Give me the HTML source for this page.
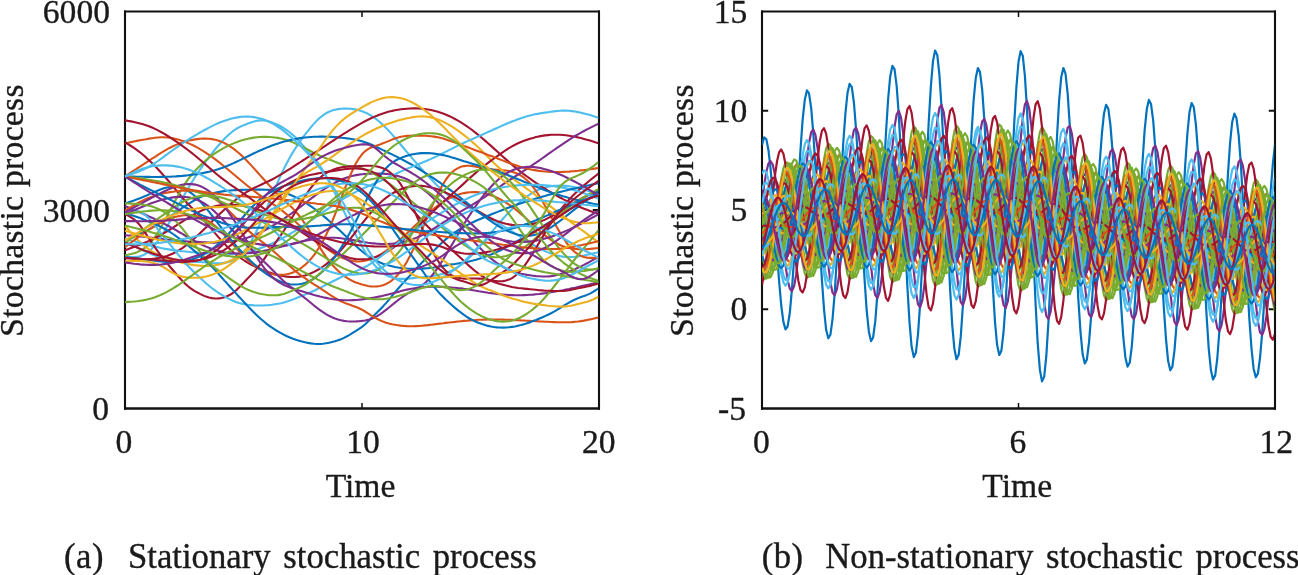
<!DOCTYPE html>
<html lang="en"><head><meta charset="utf-8"><title>Stochastic processes</title>
<style>html,body{margin:0;padding:0;background:#fff;overflow:hidden}svg{display:block}</style></head>
<body>
<svg width="1298" height="575" viewBox="0 0 1298 575" font-family="'Liberation Serif', 'Times New Roman', serif" fill="#1a1a1a">
<style>text{stroke:#1a1a1a;stroke-width:0.35px}</style>
<defs><clipPath id="cl"><rect x="124.5" y="10.5" width="473.8" height="399"/></clipPath><clipPath id="cr"><rect x="762" y="10.5" width="512.3" height="399"/></clipPath></defs>
<path d="M125.0 10.55V409.7M599.0 10.55V409.7" stroke="#111" stroke-width="2.1" fill="none"/>
<path d="M124.0 11.5H600.0" stroke="#111" stroke-width="1.9" fill="none"/>
<path d="M124.0 408.5H600.0" stroke="#111" stroke-width="2.4" fill="none"/>
<path d="M362 408.5v-5.6M362 11.5v5.6" stroke="#111" stroke-width="1.5" fill="none"/>
<path d="M125.0 210h6.2M599.0 210h-6.2" stroke="#111" stroke-width="2.1" fill="none"/>
<path d="M762.0 10.55V409.7M1275.0 10.55V409.7" stroke="#111" stroke-width="2.1" fill="none"/>
<path d="M761.0 11.5H1276.0" stroke="#111" stroke-width="1.9" fill="none"/>
<path d="M761.0 408.5H1276.0" stroke="#111" stroke-width="2.4" fill="none"/>
<path d="M1018.5 408.5v-5.6M1018.5 11.5v5.6" stroke="#111" stroke-width="1.5" fill="none"/>
<path d="M762.0 110.75h6.2M1275.0 110.75h-6.2" stroke="#111" stroke-width="2.1" fill="none"/>
<path d="M762.0 210h6.2M1275.0 210h-6.2" stroke="#111" stroke-width="2.1" fill="none"/>
<path d="M762.0 309.25h6.2M1275.0 309.25h-6.2" stroke="#111" stroke-width="2.1" fill="none"/>
<g clip-path="url(#cl)" fill="none" stroke-width="2.1" stroke-linejoin="round" stroke-linecap="butt">
<path d="M125.0 239.8L128.0 239.1L131.0 238.1L134.0 237.0L137.0 235.7L140.0 234.2L143.0 232.7L146.0 231.2L149.0 229.5L152.0 227.7L155.0 225.9L158.0 224.1L161.0 222.2L164.0 220.3L167.0 218.3L170.0 216.3L173.0 214.3L176.0 212.3L179.0 210.2L182.0 208.2L185.0 206.2L188.0 204.3L191.0 202.4L194.0 200.6L197.0 198.9L200.0 197.4L203.0 196.1L206.0 195.1L209.0 194.1L212.0 193.4L215.0 192.7L218.0 192.1L221.0 191.6L224.0 191.1L227.0 190.8L230.0 190.5L233.0 190.3L236.0 190.1L239.0 190.0L242.0 189.9L245.0 189.8L248.0 189.8L251.0 189.7L254.0 189.7L257.0 189.6L260.0 189.6L263.0 189.6L266.0 189.7L269.0 189.9L272.0 190.2L275.0 190.6L278.0 191.2L281.0 191.8L284.0 192.6L287.0 193.6L290.0 194.7L293.0 196.0L296.0 197.4L299.0 199.0L302.0 200.6L305.0 202.4L308.0 204.3L311.0 206.3L314.0 208.5L317.0 210.7L320.0 213.1L323.0 215.6L326.0 218.1L329.0 220.7L332.0 223.4L335.0 226.1L338.0 228.8L341.0 231.6L344.0 234.4L347.0 237.3L350.0 240.2L353.0 243.0L356.0 245.9L359.0 248.7L362.0 251.3L365.0 253.7L368.0 255.9L371.0 257.9L374.0 259.6L377.0 261.1L380.0 262.5L383.0 263.7L386.0 264.7L389.0 265.6L392.0 266.3L395.0 267.0L398.0 267.5L401.0 267.9L404.0 268.2L407.0 268.5L410.0 268.7L413.0 268.8L416.0 268.8L419.0 268.8L422.0 268.6L425.0 268.4L428.0 268.2L431.0 267.8L434.0 267.5L437.0 267.0L440.0 266.5L443.0 266.0L446.0 265.4L449.0 264.9L452.0 264.4L455.0 264.0L458.0 263.5L461.0 263.0L464.0 262.5L467.0 261.9L470.0 261.2L473.0 260.5L476.0 259.7L479.0 258.8L482.0 257.8L485.0 256.8L488.0 255.6L491.0 254.5L494.0 253.2L497.0 251.9L500.0 250.5L503.0 249.0L506.0 247.4L509.0 245.8L512.0 244.1L515.0 242.4L518.0 240.7L521.0 239.0L524.0 237.2L527.0 235.5L530.0 233.8L533.0 232.0L536.0 230.3L539.0 228.5L542.0 226.8L545.0 225.0L548.0 223.2L551.0 221.3L554.0 219.4L557.0 217.5L560.0 215.6L563.0 213.6L566.0 211.8L569.0 209.9L572.0 208.1L575.0 206.4L578.0 204.6L581.0 203.0L584.0 201.3L587.0 199.8L590.0 198.3L593.0 197.0L596.0 195.8L599.0 195.0" stroke="#0072BD"/>
<path d="M125.0 235.3L128.0 235.5L131.0 235.6L134.0 235.9L137.0 236.1L140.0 236.4L143.0 236.7L146.0 237.0L149.0 237.4L152.0 237.7L155.0 238.1L158.0 238.5L161.0 238.8L164.0 239.2L167.0 239.6L170.0 239.9L173.0 240.3L176.0 240.6L179.0 240.9L182.0 241.1L185.0 241.3L188.0 241.5L191.0 241.7L194.0 241.8L197.0 241.9L200.0 242.0L203.0 242.2L206.0 242.3L209.0 242.5L212.0 242.6L215.0 242.6L218.0 242.5L221.0 242.4L224.0 242.2L227.0 241.9L230.0 241.6L233.0 241.1L236.0 240.6L239.0 239.9L242.0 239.2L245.0 238.4L248.0 237.5L251.0 236.4L254.0 235.3L257.0 234.0L260.0 232.6L263.0 231.2L266.0 229.6L269.0 228.0L272.0 226.2L275.0 224.4L278.0 222.6L281.0 220.7L284.0 218.7L287.0 216.6L290.0 214.5L293.0 212.4L296.0 210.2L299.0 208.0L302.0 205.7L305.0 203.3L308.0 201.0L311.0 198.7L314.0 196.4L317.0 194.2L320.0 192.0L323.0 190.0L326.0 188.0L329.0 186.2L332.0 184.5L335.0 182.8L338.0 181.3L341.0 179.8L344.0 178.5L347.0 177.4L350.0 176.4L353.0 175.7L356.0 175.1L359.0 174.6L362.0 174.3L365.0 174.0L368.0 173.8L371.0 173.6L374.0 173.5L377.0 173.5L380.0 173.6L383.0 173.7L386.0 173.9L389.0 174.3L392.0 174.7L395.0 175.3L398.0 176.0L401.0 176.9L404.0 178.0L407.0 179.3L410.0 180.8L413.0 182.5L416.0 184.3L419.0 186.3L422.0 188.5L425.0 190.8L428.0 193.3L431.0 195.9L434.0 198.7L437.0 201.5L440.0 204.4L443.0 207.4L446.0 210.5L449.0 213.6L452.0 216.9L455.0 220.2L458.0 223.6L461.0 227.0L464.0 230.4L467.0 233.8L470.0 237.2L473.0 240.5L476.0 243.8L479.0 247.0L482.0 250.1L485.0 253.0L488.0 255.8L491.0 258.5L494.0 260.9L497.0 263.1L500.0 265.1L503.0 266.9L506.0 268.5L509.0 269.8L512.0 271.0L515.0 272.0L518.0 272.9L521.0 273.7L524.0 274.3L527.0 274.9L530.0 275.3L533.0 275.7L536.0 276.1L539.0 276.3L542.0 276.5L545.0 276.5L548.0 276.4L551.0 276.1L554.0 275.6L557.0 275.0L560.0 274.2L563.0 273.3L566.0 272.4L569.0 271.4L572.0 270.3L575.0 269.1L578.0 267.8L581.0 266.4L584.0 264.9L587.0 263.3L590.0 261.6L593.0 259.9L596.0 258.4L599.0 257.2" stroke="#7E2F8E"/>
<path d="M125.0 256.7L128.0 257.0L131.0 257.1L134.0 257.1L137.0 256.9L140.0 256.2L143.0 255.2L146.0 253.6L149.0 251.4L152.0 248.5L155.0 245.0L158.0 241.0L161.0 236.6L164.0 231.8L167.0 226.7L170.0 221.3L173.0 215.8L176.0 210.2L179.0 204.6L182.0 199.1L185.0 193.7L188.0 188.5L191.0 183.5L194.0 178.7L197.0 174.1L200.0 169.6L203.0 165.3L206.0 161.2L209.0 157.2L212.0 153.3L215.0 149.5L218.0 146.0L221.0 142.5L224.0 139.3L227.0 136.3L230.0 133.5L233.0 131.1L236.0 129.0L239.0 127.3L242.0 125.9L245.0 124.7L248.0 123.5L251.0 122.4L254.0 121.5L257.0 120.8L260.0 120.4L263.0 120.3L266.0 120.7L269.0 121.4L272.0 122.4L275.0 123.6L278.0 125.0L281.0 126.5L284.0 128.3L287.0 130.3L290.0 132.5L293.0 135.1L296.0 137.9L299.0 141.0L302.0 144.4L305.0 147.8L308.0 151.1L311.0 154.5L314.0 157.9L317.0 161.6L320.0 165.7L323.0 170.5L326.0 175.8L329.0 181.5L332.0 187.4L335.0 193.4L338.0 199.4L341.0 205.5L344.0 211.6L347.0 217.7L350.0 223.7L353.0 229.7L356.0 235.5L359.0 241.1L362.0 246.4L365.0 251.5L368.0 256.2L371.0 260.6L374.0 264.5L377.0 267.9L380.0 270.8L383.0 273.2L386.0 275.0L389.0 276.5L392.0 277.6L395.0 278.3L398.0 278.7L401.0 278.9L404.0 278.9L407.0 278.8L410.0 278.5L413.0 278.1L416.0 277.8L419.0 277.5L422.0 277.2L425.0 276.9L428.0 276.5L431.0 276.2L434.0 275.7L437.0 275.2L440.0 274.5L443.0 273.8L446.0 272.8L449.0 271.7L452.0 270.4L455.0 268.8L458.0 267.0L461.0 265.0L464.0 262.6L467.0 260.0L470.0 257.1L473.0 254.0L476.0 250.8L479.0 247.4L482.0 243.8L485.0 240.2L488.0 236.6L491.0 232.9L494.0 229.3L497.0 225.7L500.0 222.1L503.0 218.7L506.0 215.4L509.0 212.2L512.0 209.2L515.0 206.2L518.0 203.5L521.0 200.9L524.0 198.5L527.0 196.3L530.0 194.3L533.0 192.5L536.0 190.9L539.0 189.5L542.0 188.4L545.0 187.5L548.0 186.8L551.0 186.2L554.0 185.9L557.0 185.7L560.0 185.6L563.0 185.7L566.0 185.9L569.0 186.3L572.0 186.8L575.0 187.4L578.0 188.0L581.0 188.8L584.0 189.6L587.0 190.5L590.0 191.5L593.0 192.4L596.0 193.4L599.0 194.4" stroke="#4DBEEE"/>
<path d="M125.0 241.6L128.0 243.1L131.0 244.7L134.0 246.2L137.0 247.6L140.0 249.1L143.0 250.5L146.0 251.8L149.0 253.1L152.0 254.3L155.0 255.4L158.0 256.4L161.0 257.3L164.0 258.2L167.0 258.9L170.0 259.5L173.0 260.0L176.0 260.4L179.0 260.7L182.0 261.0L185.0 261.2L188.0 261.4L191.0 261.5L194.0 261.7L197.0 261.9L200.0 262.0L203.0 262.2L206.0 262.5L209.0 262.8L212.0 263.1L215.0 263.3L218.0 263.3L221.0 263.3L224.0 262.9L227.0 262.4L230.0 261.5L233.0 260.2L236.0 258.4L239.0 256.2L242.0 253.5L245.0 250.2L248.0 246.2L251.0 241.6L254.0 236.2L257.0 230.3L260.0 223.9L263.0 217.2L266.0 210.1L269.0 203.0L272.0 195.7L275.0 188.6L278.0 181.6L281.0 174.9L284.0 168.6L287.0 162.7L290.0 157.2L293.0 152.1L296.0 147.4L299.0 142.9L302.0 138.7L305.0 134.6L308.0 130.8L311.0 127.1L314.0 123.6L317.0 120.4L320.0 117.6L323.0 115.3L326.0 113.3L329.0 111.8L332.0 110.6L335.0 109.7L338.0 109.1L341.0 108.8L344.0 108.6L347.0 108.6L350.0 108.7L353.0 109.1L356.0 109.6L359.0 110.3L362.0 111.3L365.0 112.4L368.0 113.8L371.0 115.5L374.0 117.5L377.0 119.7L380.0 122.2L383.0 125.0L386.0 127.9L389.0 131.1L392.0 134.4L395.0 137.8L398.0 141.4L401.0 145.0L404.0 148.5L407.0 152.1L410.0 155.6L413.0 159.1L416.0 162.6L419.0 166.0L422.0 169.4L425.0 172.7L428.0 176.0L431.0 179.1L434.0 182.2L437.0 185.2L440.0 188.0L443.0 190.7L446.0 193.2L449.0 195.6L452.0 197.8L455.0 199.9L458.0 201.8L461.0 203.6L464.0 205.3L467.0 206.8L470.0 208.3L473.0 209.8L476.0 211.2L479.0 212.7L482.0 214.2L485.0 215.8L488.0 217.4L491.0 219.0L494.0 220.7L497.0 222.4L500.0 224.1L503.0 225.9L506.0 227.7L509.0 229.5L512.0 231.4L515.0 233.3L518.0 235.2L521.0 237.1L524.0 239.0L527.0 240.9L530.0 242.8L533.0 244.6L536.0 246.3L539.0 248.0L542.0 249.6L545.0 251.1L548.0 252.4L551.0 253.6L554.0 254.6L557.0 255.5L560.0 256.1L563.0 256.6L566.0 256.9L569.0 257.0L572.0 257.0L575.0 256.8L578.0 256.4L581.0 256.0L584.0 255.5L587.0 254.8L590.0 254.2L593.0 253.4L596.0 252.7L599.0 251.9" stroke="#4DBEEE"/>
<path d="M125.0 143.4L128.0 142.8L131.0 142.1L134.0 141.5L137.0 140.9L140.0 140.3L143.0 139.7L146.0 139.2L149.0 138.6L152.0 138.2L155.0 137.8L158.0 137.5L161.0 137.3L164.0 137.3L167.0 137.5L170.0 137.8L173.0 138.3L176.0 139.0L179.0 139.8L182.0 140.8L185.0 141.8L188.0 143.1L191.0 144.4L194.0 145.8L197.0 147.4L200.0 149.1L203.0 150.9L206.0 152.8L209.0 154.8L212.0 156.9L215.0 159.1L218.0 161.4L221.0 163.8L224.0 166.2L227.0 168.7L230.0 171.2L233.0 173.7L236.0 176.3L239.0 178.8L242.0 181.3L245.0 183.7L248.0 186.2L251.0 188.5L254.0 190.9L257.0 193.1L260.0 195.3L263.0 197.4L266.0 199.5L269.0 201.5L272.0 203.5L275.0 205.6L278.0 207.7L281.0 209.9L284.0 212.2L287.0 214.6L290.0 217.1L293.0 219.7L296.0 222.3L299.0 225.0L302.0 227.7L305.0 230.4L308.0 233.1L311.0 235.8L314.0 238.4L317.0 240.9L320.0 243.4L323.0 245.8L326.0 248.0L329.0 250.2L332.0 252.2L335.0 254.0L338.0 255.7L341.0 257.2L344.0 258.5L347.0 259.5L350.0 260.4L353.0 261.0L356.0 261.4L359.0 261.5L362.0 261.3L365.0 260.8L368.0 260.1L371.0 259.1L374.0 257.9L377.0 256.4L380.0 254.8L383.0 252.9L386.0 250.9L389.0 248.7L392.0 246.4L395.0 243.9L398.0 241.4L401.0 238.7L404.0 236.0L407.0 233.2L410.0 230.4L413.0 227.6L416.0 224.7L419.0 221.9L422.0 219.1L425.0 216.3L428.0 213.7L431.0 211.1L434.0 208.6L437.0 206.2L440.0 204.1L443.0 202.0L446.0 200.2L449.0 198.5L452.0 197.1L455.0 195.8L458.0 194.7L461.0 193.8L464.0 193.1L467.0 192.6L470.0 192.2L473.0 192.1L476.0 192.1L479.0 192.4L482.0 192.8L485.0 193.4L488.0 194.2L491.0 195.2L494.0 196.3L497.0 197.7L500.0 199.1L503.0 200.8L506.0 202.6L509.0 204.6L512.0 206.7L515.0 209.0L518.0 211.4L521.0 213.9L524.0 216.5L527.0 219.2L530.0 222.0L533.0 224.7L536.0 227.5L539.0 230.2L542.0 232.8L545.0 235.3L548.0 237.6L551.0 239.8L554.0 241.8L557.0 243.5L560.0 245.0L563.0 246.2L566.0 247.2L569.0 248.0L572.0 248.5L575.0 248.9L578.0 249.1L581.0 249.2L584.0 249.2L587.0 249.1L590.0 248.9L593.0 248.6L596.0 248.3L599.0 248.0" stroke="#D95319"/>
<path d="M125.0 176.3L128.0 174.4L131.0 172.4L134.0 170.5L137.0 168.5L140.0 166.6L143.0 164.6L146.0 162.7L149.0 160.7L152.0 158.7L155.0 156.8L158.0 154.8L161.0 152.9L164.0 151.1L167.0 149.4L170.0 147.7L173.0 146.2L176.0 144.9L179.0 143.7L182.0 142.6L185.0 141.6L188.0 140.8L191.0 140.1L194.0 139.6L197.0 139.1L200.0 138.8L203.0 138.6L206.0 138.5L209.0 138.7L212.0 139.1L215.0 139.7L218.0 140.5L221.0 141.6L224.0 142.9L227.0 144.5L230.0 146.3L233.0 148.4L236.0 150.7L239.0 153.2L242.0 155.9L245.0 158.8L248.0 161.9L251.0 165.1L254.0 168.4L257.0 171.8L260.0 175.1L263.0 178.5L266.0 181.8L269.0 185.1L272.0 188.3L275.0 191.4L278.0 194.4L281.0 197.3L284.0 200.1L287.0 202.9L290.0 205.7L293.0 208.6L296.0 211.8L299.0 215.5L302.0 219.5L305.0 223.9L308.0 228.5L311.0 233.3L314.0 238.1L317.0 243.0L320.0 247.8L323.0 252.4L326.0 256.8L329.0 260.8L332.0 264.5L335.0 267.8L338.0 270.8L341.0 273.4L344.0 275.8L347.0 277.8L350.0 279.6L353.0 281.2L356.0 282.5L359.0 283.6L362.0 284.6L365.0 285.3L368.0 286.0L371.0 286.4L374.0 286.5L377.0 286.4L380.0 286.0L383.0 285.2L386.0 284.0L389.0 282.4L392.0 280.3L395.0 277.7L398.0 274.6L401.0 270.9L404.0 266.5L407.0 261.6L410.0 256.0L413.0 249.9L416.0 243.4L419.0 236.6L422.0 229.6L425.0 222.6L428.0 215.5L431.0 208.6L434.0 201.9L437.0 195.6L440.0 189.6L443.0 184.3L446.0 179.5L449.0 175.5L452.0 172.3L455.0 169.9L458.0 168.1L461.0 166.8L464.0 166.1L467.0 165.8L470.0 165.8L473.0 166.1L476.0 166.6L479.0 167.2L482.0 167.9L485.0 168.5L488.0 169.0L491.0 169.3L494.0 169.5L497.0 169.7L500.0 169.9L503.0 170.2L506.0 170.5L509.0 171.0L512.0 171.7L515.0 172.7L518.0 174.0L521.0 175.6L524.0 177.7L527.0 180.2L530.0 183.2L533.0 186.8L536.0 190.9L539.0 195.5L542.0 200.5L545.0 205.7L548.0 211.1L551.0 216.6L554.0 222.1L557.0 227.5L560.0 232.6L563.0 237.5L566.0 242.0L569.0 246.0L572.0 249.5L575.0 252.2L578.0 254.4L581.0 255.9L584.0 257.0L587.0 257.6L590.0 257.9L593.0 257.9L596.0 257.8L599.0 257.6" stroke="#D95319"/>
<path d="M125.0 142.2L128.0 144.1L131.0 146.0L134.0 147.9L137.0 150.1L140.0 152.3L143.0 154.8L146.0 157.4L149.0 160.2L152.0 163.1L155.0 166.1L158.0 169.3L161.0 172.5L164.0 175.9L167.0 179.3L170.0 182.8L173.0 186.4L176.0 190.0L179.0 193.6L182.0 197.2L185.0 200.7L188.0 204.0L191.0 207.1L194.0 210.0L197.0 213.0L200.0 216.1L203.0 219.3L206.0 222.7L209.0 226.1L212.0 229.6L215.0 233.1L218.0 236.6L221.0 240.0L224.0 243.2L227.0 246.4L230.0 249.3L233.0 252.0L236.0 254.6L239.0 256.9L242.0 259.0L245.0 261.0L248.0 262.8L251.0 264.5L254.0 266.1L257.0 267.5L260.0 268.8L263.0 270.1L266.0 271.2L269.0 272.3L272.0 273.3L275.0 274.2L278.0 275.0L281.0 275.7L284.0 276.3L287.0 276.7L290.0 276.9L293.0 277.0L296.0 276.9L299.0 276.6L302.0 276.1L305.0 275.4L308.0 274.5L311.0 273.3L314.0 271.9L317.0 270.3L320.0 268.6L323.0 266.5L326.0 264.3L329.0 261.9L332.0 259.3L335.0 256.4L338.0 253.4L341.0 250.1L344.0 246.6L347.0 243.0L350.0 239.2L353.0 235.4L356.0 231.5L359.0 227.6L362.0 223.7L365.0 219.9L368.0 216.1L371.0 212.5L374.0 209.1L377.0 206.0L380.0 203.0L383.0 200.3L386.0 197.9L389.0 195.7L392.0 193.7L395.0 192.0L398.0 190.5L401.0 189.2L404.0 188.1L407.0 187.2L410.0 186.6L413.0 186.1L416.0 185.9L419.0 185.8L422.0 185.9L425.0 186.2L428.0 186.7L431.0 187.4L434.0 188.2L437.0 189.1L440.0 190.2L443.0 191.4L446.0 192.7L449.0 194.1L452.0 195.6L455.0 197.3L458.0 198.9L461.0 200.7L464.0 202.5L467.0 204.3L470.0 206.2L473.0 208.1L476.0 209.9L479.0 211.7L482.0 213.5L485.0 215.2L488.0 216.8L491.0 218.3L494.0 219.7L497.0 220.9L500.0 222.0L503.0 223.0L506.0 223.8L509.0 224.4L512.0 224.9L515.0 225.2L518.0 225.3L521.0 225.3L524.0 225.2L527.0 224.9L530.0 224.4L533.0 223.7L536.0 222.9L539.0 222.0L542.0 220.9L545.0 219.6L548.0 218.1L551.0 216.6L554.0 215.0L557.0 213.2L560.0 211.4L563.0 209.6L566.0 207.8L569.0 205.9L572.0 204.1L575.0 202.2L578.0 200.5L581.0 198.8L584.0 197.2L587.0 195.8L590.0 194.4L593.0 193.1L596.0 191.9L599.0 190.7" stroke="#A2142F"/>
<path d="M125.0 255.4L128.0 254.8L131.0 254.1L134.0 253.3L137.0 252.2L140.0 250.8L143.0 249.1L146.0 246.9L149.0 244.1L152.0 240.8L155.0 236.8L158.0 232.3L161.0 227.3L164.0 222.0L167.0 216.4L170.0 210.7L173.0 205.0L176.0 199.3L179.0 193.8L182.0 188.6L185.0 183.8L188.0 179.4L191.0 175.5L194.0 172.0L197.0 168.8L200.0 165.8L203.0 162.9L206.0 160.2L209.0 157.7L212.0 155.4L215.0 153.3L218.0 151.4L221.0 149.6L224.0 147.9L227.0 146.4L230.0 144.9L233.0 143.6L236.0 142.4L239.0 141.3L242.0 140.3L245.0 139.4L248.0 138.7L251.0 138.1L254.0 137.6L257.0 137.3L260.0 137.0L263.0 136.9L266.0 136.9L269.0 137.0L272.0 137.2L275.0 137.5L278.0 137.9L281.0 138.5L284.0 139.2L287.0 140.1L290.0 141.2L293.0 142.4L296.0 143.7L299.0 145.1L302.0 146.6L305.0 148.1L308.0 149.7L311.0 151.3L314.0 152.9L317.0 154.3L320.0 155.7L323.0 157.0L326.0 158.2L329.0 159.4L332.0 160.5L335.0 161.8L338.0 163.0L341.0 164.1L344.0 165.0L347.0 165.7L350.0 166.2L353.0 166.7L356.0 167.2L359.0 167.8L362.0 168.6L365.0 169.6L368.0 170.8L371.0 172.2L374.0 173.8L377.0 175.5L380.0 177.4L383.0 179.3L386.0 181.4L389.0 183.5L392.0 185.7L395.0 188.0L398.0 190.3L401.0 192.6L404.0 195.1L407.0 197.5L410.0 200.0L413.0 202.5L416.0 205.1L419.0 207.6L422.0 210.2L425.0 212.8L428.0 215.3L431.0 217.9L434.0 220.5L437.0 223.1L440.0 225.6L443.0 228.1L446.0 230.6L449.0 233.1L452.0 235.5L455.0 237.9L458.0 240.3L461.0 242.5L464.0 244.6L467.0 246.7L470.0 248.6L473.0 250.3L476.0 251.9L479.0 253.3L482.0 254.5L485.0 255.5L488.0 256.3L491.0 256.9L494.0 257.1L497.0 257.2L500.0 257.0L503.0 256.6L506.0 255.9L509.0 255.1L512.0 254.0L515.0 252.7L518.0 251.1L521.0 249.4L524.0 247.5L527.0 245.3L530.0 243.0L533.0 240.5L536.0 237.8L539.0 235.0L542.0 232.2L545.0 229.2L548.0 226.3L551.0 223.3L554.0 220.4L557.0 217.5L560.0 214.7L563.0 212.0L566.0 209.5L569.0 207.1L572.0 204.9L575.0 202.8L578.0 200.8L581.0 198.9L584.0 197.1L587.0 195.4L590.0 193.7L593.0 192.1L596.0 190.5L599.0 189.0" stroke="#77AC30"/>
<path d="M125.0 176.3L128.0 176.4L131.0 176.5L134.0 176.6L137.0 176.7L140.0 176.8L143.0 176.8L146.0 176.9L149.0 176.9L152.0 177.0L155.0 177.0L158.0 177.0L161.0 176.9L164.0 176.9L167.0 176.8L170.0 176.7L173.0 176.5L176.0 176.4L179.0 176.1L182.0 175.9L185.0 175.6L188.0 175.3L191.0 174.9L194.0 174.5L197.0 174.1L200.0 173.6L203.0 173.0L206.0 172.4L209.0 171.8L212.0 171.0L215.0 170.2L218.0 169.3L221.0 168.3L224.0 167.2L227.0 166.0L230.0 164.7L233.0 163.4L236.0 162.0L239.0 160.6L242.0 159.1L245.0 157.6L248.0 156.2L251.0 154.7L254.0 153.3L257.0 151.9L260.0 150.5L263.0 149.2L266.0 147.9L269.0 146.7L272.0 145.5L275.0 144.4L278.0 143.4L281.0 142.5L284.0 141.6L287.0 140.9L290.0 140.1L293.0 139.5L296.0 138.9L299.0 138.4L302.0 137.9L305.0 137.5L308.0 137.2L311.0 137.0L314.0 136.8L317.0 136.7L320.0 136.6L323.0 136.6L326.0 136.7L329.0 136.8L332.0 136.9L335.0 137.1L338.0 137.4L341.0 137.7L344.0 138.0L347.0 138.4L350.0 138.8L353.0 139.3L356.0 139.8L359.0 140.5L362.0 141.3L365.0 142.2L368.0 143.3L371.0 144.5L374.0 145.8L377.0 147.2L380.0 148.6L383.0 150.1L386.0 151.5L389.0 153.0L392.0 154.4L395.0 155.9L398.0 157.4L401.0 158.9L404.0 160.5L407.0 162.1L410.0 163.7L413.0 165.4L416.0 167.2L419.0 169.0L422.0 170.9L425.0 172.8L428.0 174.7L431.0 176.7L434.0 178.7L437.0 180.7L440.0 182.7L443.0 184.8L446.0 186.9L449.0 189.1L452.0 191.2L455.0 193.5L458.0 195.8L461.0 198.1L464.0 200.5L467.0 202.8L470.0 205.2L473.0 207.6L476.0 210.0L479.0 212.4L482.0 214.7L485.0 216.9L488.0 219.1L491.0 221.2L494.0 223.3L497.0 225.2L500.0 227.0L503.0 228.7L506.0 230.2L509.0 231.6L512.0 232.8L515.0 233.8L518.0 234.7L521.0 235.3L524.0 235.6L527.0 235.7L530.0 235.6L533.0 235.2L536.0 234.5L539.0 233.5L542.0 232.3L545.0 230.8L548.0 229.1L551.0 227.3L554.0 225.3L557.0 223.2L560.0 221.0L563.0 218.7L566.0 216.3L569.0 213.9L572.0 211.5L575.0 209.1L578.0 206.7L581.0 204.4L584.0 202.1L587.0 199.8L590.0 197.6L593.0 195.3L596.0 193.0L599.0 190.8" stroke="#0072BD"/>
<path d="M125.0 225.7L128.0 229.2L131.0 232.7L134.0 236.0L137.0 239.2L140.0 242.1L143.0 244.8L146.0 247.2L149.0 249.4L152.0 251.3L155.0 253.1L158.0 254.6L161.0 256.0L164.0 257.2L167.0 258.4L170.0 259.4L173.0 260.3L176.0 261.1L179.0 261.9L182.0 262.7L185.0 263.4L188.0 264.0L191.0 264.6L194.0 265.1L197.0 265.4L200.0 265.7L203.0 265.9L206.0 266.0L209.0 265.9L212.0 265.7L215.0 265.3L218.0 264.8L221.0 264.1L224.0 263.2L227.0 262.1L230.0 260.8L233.0 259.2L236.0 257.5L239.0 255.4L242.0 253.2L245.0 250.6L248.0 247.8L251.0 244.7L254.0 241.2L257.0 237.5L260.0 233.4L263.0 229.1L266.0 224.5L269.0 219.8L272.0 215.0L275.0 210.2L278.0 205.4L281.0 200.7L284.0 196.1L287.0 191.9L290.0 187.8L293.0 184.2L296.0 181.0L299.0 178.2L302.0 175.8L305.0 173.6L308.0 171.7L311.0 169.9L314.0 168.3L317.0 166.6L320.0 164.8L323.0 162.9L326.0 161.0L329.0 158.9L332.0 156.8L335.0 154.6L338.0 152.4L341.0 150.2L344.0 148.0L347.0 145.9L350.0 143.8L353.0 141.8L356.0 139.8L359.0 137.9L362.0 136.1L365.0 134.4L368.0 132.8L371.0 131.2L374.0 129.7L377.0 128.3L380.0 127.0L383.0 125.7L386.0 124.5L389.0 123.4L392.0 122.4L395.0 121.4L398.0 120.5L401.0 119.7L404.0 118.9L407.0 118.2L410.0 117.7L413.0 117.1L416.0 116.8L419.0 116.5L422.0 116.4L425.0 116.5L428.0 116.9L431.0 117.4L434.0 118.2L437.0 119.1L440.0 120.3L443.0 121.6L446.0 123.1L449.0 124.8L452.0 126.6L455.0 128.5L458.0 130.6L461.0 132.8L464.0 135.1L467.0 137.5L470.0 140.0L473.0 142.6L476.0 145.3L479.0 148.1L482.0 151.0L485.0 154.0L488.0 157.1L491.0 160.1L494.0 163.1L497.0 165.9L500.0 168.6L503.0 171.1L506.0 173.5L509.0 175.7L512.0 177.9L515.0 180.1L518.0 182.3L521.0 184.4L524.0 186.6L527.0 188.8L530.0 191.0L533.0 193.2L536.0 195.5L539.0 197.7L542.0 200.0L545.0 202.3L548.0 204.5L551.0 206.8L554.0 209.1L557.0 211.4L560.0 213.7L563.0 216.0L566.0 218.2L569.0 220.5L572.0 222.8L575.0 225.0L578.0 227.3L581.0 229.5L584.0 231.7L587.0 233.9L590.0 236.2L593.0 238.4L596.0 240.6L599.0 242.8" stroke="#EDB120"/>
<path d="M125.0 257.9L128.0 258.2L131.0 258.5L134.0 258.7L137.0 258.9L140.0 259.1L143.0 259.1L146.0 259.2L149.0 259.1L152.0 258.9L155.0 258.6L158.0 258.1L161.0 257.5L164.0 256.8L167.0 255.9L170.0 254.8L173.0 253.5L176.0 252.0L179.0 250.2L182.0 248.3L185.0 246.2L188.0 243.8L191.0 241.4L194.0 238.8L197.0 236.0L200.0 233.2L203.0 230.3L206.0 227.4L209.0 224.5L212.0 221.5L215.0 218.5L218.0 215.6L221.0 212.8L224.0 209.9L227.0 207.2L230.0 204.5L233.0 202.0L236.0 199.5L239.0 197.2L242.0 195.1L245.0 193.1L248.0 191.2L251.0 189.6L254.0 188.0L257.0 186.6L260.0 185.2L263.0 183.8L266.0 182.4L269.0 181.0L272.0 179.5L275.0 177.9L278.0 176.2L281.0 174.4L284.0 172.6L287.0 170.7L290.0 168.8L293.0 166.9L296.0 164.9L299.0 163.0L302.0 161.0L305.0 159.1L308.0 157.1L311.0 155.2L314.0 153.2L317.0 151.3L320.0 149.3L323.0 147.3L326.0 145.4L329.0 143.4L332.0 141.4L335.0 139.5L338.0 137.5L341.0 135.6L344.0 133.7L347.0 131.8L350.0 129.9L353.0 128.1L356.0 126.3L359.0 124.6L362.0 122.9L365.0 121.3L368.0 119.7L371.0 118.3L374.0 116.9L377.0 115.7L380.0 114.5L383.0 113.4L386.0 112.5L389.0 111.6L392.0 110.9L395.0 110.3L398.0 109.8L401.0 109.3L404.0 109.0L407.0 108.7L410.0 108.5L413.0 108.4L416.0 108.4L419.0 108.5L422.0 108.7L425.0 109.0L428.0 109.5L431.0 110.0L434.0 110.7L437.0 111.5L440.0 112.5L443.0 113.5L446.0 114.7L449.0 116.0L452.0 117.4L455.0 119.0L458.0 120.6L461.0 122.4L464.0 124.3L467.0 126.4L470.0 128.5L473.0 130.7L476.0 133.1L479.0 135.5L482.0 138.0L485.0 140.6L488.0 143.2L491.0 145.9L494.0 148.6L497.0 151.3L500.0 154.0L503.0 156.7L506.0 159.4L509.0 162.0L512.0 164.6L515.0 167.1L518.0 169.6L521.0 172.0L524.0 174.3L527.0 176.5L530.0 178.7L533.0 180.8L536.0 182.9L539.0 184.9L542.0 186.8L545.0 188.7L548.0 190.6L551.0 192.3L554.0 194.1L557.0 195.8L560.0 197.5L563.0 199.1L566.0 200.6L569.0 202.1L572.0 203.6L575.0 205.0L578.0 206.3L581.0 207.5L584.0 208.7L587.0 209.8L590.0 210.9L593.0 212.0L596.0 213.0L599.0 214.0" stroke="#A2142F"/>
<path d="M125.0 238.6L128.0 239.5L131.0 240.4L134.0 241.2L137.0 242.0L140.0 242.9L143.0 243.7L146.0 244.5L149.0 245.2L152.0 245.9L155.0 246.7L158.0 247.3L161.0 248.0L164.0 248.6L167.0 249.1L170.0 249.6L173.0 250.1L176.0 250.5L179.0 250.9L182.0 251.2L185.0 251.5L188.0 251.8L191.0 252.1L194.0 252.3L197.0 252.6L200.0 252.8L203.0 253.1L206.0 253.3L209.0 253.5L212.0 253.7L215.0 253.9L218.0 254.0L221.0 254.1L224.0 254.2L227.0 254.2L230.0 254.1L233.0 253.9L236.0 253.7L239.0 253.3L242.0 252.9L245.0 252.4L248.0 251.7L251.0 251.0L254.0 250.2L257.0 249.3L260.0 248.3L263.0 247.2L266.0 246.1L269.0 244.8L272.0 243.5L275.0 242.1L278.0 240.6L281.0 239.1L284.0 237.4L287.0 235.7L290.0 234.0L293.0 232.2L296.0 230.3L299.0 228.4L302.0 226.5L305.0 224.5L308.0 222.5L311.0 220.5L314.0 218.4L317.0 216.4L320.0 214.3L323.0 212.2L326.0 210.2L329.0 208.1L332.0 206.1L335.0 204.1L338.0 202.2L341.0 200.3L344.0 198.4L347.0 196.7L350.0 195.0L353.0 193.4L356.0 191.9L359.0 190.4L362.0 189.0L365.0 187.6L368.0 186.3L371.0 185.0L374.0 183.7L377.0 182.3L380.0 181.0L383.0 179.6L386.0 178.3L389.0 176.9L392.0 175.5L395.0 174.1L398.0 172.8L401.0 171.4L404.0 170.1L407.0 168.8L410.0 167.6L413.0 166.4L416.0 165.2L419.0 164.0L422.0 162.8L425.0 161.5L428.0 160.2L431.0 158.9L434.0 157.5L437.0 156.1L440.0 154.6L443.0 153.1L446.0 151.6L449.0 150.1L452.0 148.6L455.0 147.1L458.0 145.6L461.0 144.2L464.0 142.8L467.0 141.4L470.0 140.1L473.0 138.8L476.0 137.4L479.0 136.1L482.0 134.8L485.0 133.4L488.0 132.0L491.0 130.7L494.0 129.3L497.0 128.0L500.0 126.6L503.0 125.3L506.0 124.0L509.0 122.7L512.0 121.5L515.0 120.4L518.0 119.2L521.0 118.2L524.0 117.2L527.0 116.3L530.0 115.5L533.0 114.8L536.0 114.1L539.0 113.6L542.0 113.0L545.0 112.6L548.0 112.2L551.0 111.8L554.0 111.4L557.0 111.0L560.0 110.7L563.0 110.6L566.0 110.6L569.0 110.8L572.0 111.1L575.0 111.5L578.0 112.1L581.0 112.7L584.0 113.5L587.0 114.3L590.0 115.1L593.0 116.0L596.0 117.0L599.0 117.9" stroke="#4DBEEE"/>
<path d="M125.0 250.3L128.0 249.2L131.0 248.1L134.0 247.0L137.0 245.9L140.0 244.7L143.0 243.5L146.0 242.2L149.0 240.9L152.0 239.5L155.0 238.1L158.0 236.5L161.0 234.9L164.0 233.2L167.0 231.4L170.0 229.5L173.0 227.6L176.0 225.7L179.0 223.7L182.0 221.8L185.0 219.9L188.0 218.0L191.0 216.2L194.0 214.5L197.0 212.9L200.0 211.4L203.0 210.0L206.0 208.8L209.0 207.8L212.0 206.9L215.0 206.2L218.0 205.6L221.0 205.2L224.0 204.9L227.0 204.8L230.0 204.7L233.0 204.8L236.0 205.0L239.0 205.4L242.0 205.8L245.0 206.3L248.0 206.9L251.0 207.6L254.0 208.4L257.0 209.2L260.0 210.2L263.0 211.2L266.0 212.4L269.0 213.6L272.0 214.9L275.0 216.3L278.0 217.8L281.0 219.4L284.0 221.0L287.0 222.8L290.0 224.6L293.0 226.5L296.0 228.4L299.0 230.4L302.0 232.3L305.0 234.3L308.0 236.3L311.0 238.3L314.0 240.3L317.0 242.2L320.0 244.1L323.0 245.9L326.0 247.7L329.0 249.3L332.0 250.9L335.0 252.4L338.0 253.8L341.0 255.0L344.0 256.1L347.0 257.1L350.0 257.9L353.0 258.6L356.0 259.1L359.0 259.3L362.0 259.4L365.0 259.3L368.0 259.0L371.0 258.4L374.0 257.6L377.0 256.6L380.0 255.3L383.0 253.9L386.0 252.3L389.0 250.5L392.0 248.6L395.0 246.5L398.0 244.2L401.0 241.8L404.0 239.3L407.0 236.7L410.0 234.0L413.0 231.2L416.0 228.4L419.0 225.5L422.0 222.6L425.0 219.6L428.0 216.6L431.0 213.7L434.0 210.7L437.0 207.8L440.0 205.0L443.0 202.2L446.0 199.5L449.0 196.8L452.0 194.1L455.0 191.5L458.0 188.8L461.0 186.1L464.0 183.4L467.0 180.6L470.0 177.9L473.0 175.2L476.0 172.6L479.0 170.0L482.0 167.6L485.0 165.2L488.0 162.9L491.0 160.6L494.0 158.5L497.0 156.3L500.0 154.2L503.0 152.1L506.0 150.0L509.0 148.1L512.0 146.4L515.0 144.8L518.0 143.3L521.0 142.0L524.0 140.8L527.0 139.7L530.0 138.7L533.0 137.9L536.0 137.1L539.0 136.4L542.0 135.9L545.0 135.4L548.0 135.1L551.0 134.8L554.0 134.7L557.0 134.7L560.0 134.8L563.0 135.0L566.0 135.3L569.0 135.7L572.0 136.2L575.0 136.8L578.0 137.4L581.0 138.1L584.0 138.9L587.0 139.8L590.0 140.6L593.0 141.5L596.0 142.5L599.0 143.4" stroke="#A2142F"/>
<path d="M125.0 206.1L128.0 207.3L131.0 208.6L134.0 209.8L137.0 211.1L140.0 212.4L143.0 213.7L146.0 215.0L149.0 216.4L152.0 217.7L155.0 219.1L158.0 220.6L161.0 222.1L164.0 223.6L167.0 225.2L170.0 226.8L173.0 228.5L176.0 230.2L179.0 232.0L182.0 233.7L185.0 235.5L188.0 237.2L191.0 238.9L194.0 240.6L197.0 242.2L200.0 243.7L203.0 245.2L206.0 246.6L209.0 247.8L212.0 248.9L215.0 249.9L218.0 250.8L221.0 251.5L224.0 252.2L227.0 252.7L230.0 253.1L233.0 253.3L236.0 253.5L239.0 253.6L242.0 253.5L245.0 253.4L248.0 253.2L251.0 252.9L254.0 252.6L257.0 252.1L260.0 251.6L263.0 251.0L266.0 250.4L269.0 249.7L272.0 249.0L275.0 248.3L278.0 247.5L281.0 246.7L284.0 245.9L287.0 245.2L290.0 244.4L293.0 243.6L296.0 242.8L299.0 242.1L302.0 241.4L305.0 240.8L308.0 240.2L311.0 239.6L314.0 239.1L317.0 238.7L320.0 238.3L323.0 238.1L326.0 237.9L329.0 237.8L332.0 237.8L335.0 237.8L338.0 238.0L341.0 238.3L344.0 238.7L347.0 239.1L350.0 239.6L353.0 240.1L356.0 240.6L359.0 241.1L362.0 241.7L365.0 242.2L368.0 242.7L371.0 243.1L374.0 243.4L377.0 243.7L380.0 243.9L383.0 244.0L386.0 244.0L389.0 243.9L392.0 243.7L395.0 243.4L398.0 242.9L401.0 242.4L404.0 241.7L407.0 241.0L410.0 240.1L413.0 239.0L416.0 237.9L419.0 236.6L422.0 235.2L425.0 233.7L428.0 232.1L431.0 230.3L434.0 228.5L437.0 226.6L440.0 224.7L443.0 222.7L446.0 220.8L449.0 218.8L452.0 216.9L455.0 215.0L458.0 213.2L461.0 211.4L464.0 209.6L467.0 207.8L470.0 206.1L473.0 204.3L476.0 202.5L479.0 200.6L482.0 198.7L485.0 196.8L488.0 194.7L491.0 192.7L494.0 190.6L497.0 188.6L500.0 186.5L503.0 184.4L506.0 182.4L509.0 180.4L512.0 178.5L515.0 176.5L518.0 174.6L521.0 172.7L524.0 170.7L527.0 168.8L530.0 166.8L533.0 164.7L536.0 162.7L539.0 160.6L542.0 158.5L545.0 156.4L548.0 154.2L551.0 152.1L554.0 150.0L557.0 147.9L560.0 145.8L563.0 143.8L566.0 141.8L569.0 139.8L572.0 137.9L575.0 136.0L578.0 134.3L581.0 132.6L584.0 131.0L587.0 129.4L590.0 127.9L593.0 126.4L596.0 124.9L599.0 123.5" stroke="#7E2F8E"/>
<path d="M125.0 247.1L128.0 244.8L131.0 242.6L134.0 240.3L137.0 238.1L140.0 235.9L143.0 233.8L146.0 231.7L149.0 229.7L152.0 227.8L155.0 226.0L158.0 224.3L161.0 222.7L164.0 221.2L167.0 219.9L170.0 218.7L173.0 217.6L176.0 216.8L179.0 216.1L182.0 215.5L185.0 215.2L188.0 215.1L191.0 215.3L194.0 215.6L197.0 216.2L200.0 217.1L203.0 218.3L206.0 219.7L209.0 221.4L212.0 223.5L215.0 225.9L218.0 228.5L221.0 231.4L224.0 234.5L227.0 237.8L230.0 241.1L233.0 244.5L236.0 247.9L239.0 251.2L242.0 254.4L245.0 257.5L248.0 260.3L251.0 262.9L254.0 265.3L257.0 267.4L260.0 269.2L263.0 270.8L266.0 272.1L269.0 273.2L272.0 274.0L275.0 274.6L278.0 274.9L281.0 274.9L284.0 274.7L287.0 274.2L290.0 273.5L293.0 272.4L296.0 271.1L299.0 269.4L302.0 267.3L305.0 264.9L308.0 262.1L311.0 258.8L314.0 255.1L317.0 250.8L320.0 246.1L323.0 240.9L326.0 235.1L329.0 228.7L332.0 221.8L335.0 214.3L338.0 206.6L341.0 198.7L344.0 190.8L347.0 183.2L350.0 175.9L353.0 169.3L356.0 163.3L359.0 158.3L362.0 154.3L365.0 151.3L368.0 149.1L371.0 147.5L374.0 146.4L377.0 145.4L380.0 144.4L383.0 143.3L386.0 142.1L389.0 140.9L392.0 139.6L395.0 138.5L398.0 137.6L401.0 136.8L404.0 136.3L407.0 135.9L410.0 135.7L413.0 135.6L416.0 135.6L419.0 135.6L422.0 135.7L425.0 135.8L428.0 136.0L431.0 136.3L434.0 136.6L437.0 137.1L440.0 137.8L443.0 138.5L446.0 139.4L449.0 140.4L452.0 141.4L455.0 142.5L458.0 143.6L461.0 144.7L464.0 145.9L467.0 147.0L470.0 148.1L473.0 149.3L476.0 150.4L479.0 151.5L482.0 152.6L485.0 153.7L488.0 154.9L491.0 156.0L494.0 157.1L497.0 158.3L500.0 159.4L503.0 160.6L506.0 161.8L509.0 162.9L512.0 164.0L515.0 165.0L518.0 166.0L521.0 166.9L524.0 167.8L527.0 168.5L530.0 169.2L533.0 169.9L536.0 170.4L539.0 170.9L542.0 171.2L545.0 171.5L548.0 171.8L551.0 171.9L554.0 172.0L557.0 172.0L560.0 172.0L563.0 171.9L566.0 171.8L569.0 171.6L572.0 171.3L575.0 171.1L578.0 170.8L581.0 170.4L584.0 170.1L587.0 169.7L590.0 169.3L593.0 168.9L596.0 168.4L599.0 168.0" stroke="#D95319"/>
<path d="M125.0 203.3L128.0 202.4L131.0 201.4L134.0 200.4L137.0 199.3L140.0 198.2L143.0 197.0L146.0 195.8L149.0 194.4L152.0 193.1L155.0 191.8L158.0 190.5L161.0 189.3L164.0 188.3L167.0 187.5L170.0 187.0L173.0 186.7L176.0 186.7L179.0 187.1L182.0 187.9L185.0 189.1L188.0 190.8L191.0 192.9L194.0 195.3L197.0 198.1L200.0 201.2L203.0 204.5L206.0 208.0L209.0 211.7L212.0 215.5L215.0 219.4L218.0 223.4L221.0 227.3L224.0 231.1L227.0 234.9L230.0 238.6L233.0 242.2L236.0 245.7L239.0 249.0L242.0 252.3L245.0 255.4L248.0 258.4L251.0 261.3L254.0 264.0L257.0 266.6L260.0 269.1L263.0 271.4L266.0 273.6L269.0 275.5L272.0 277.4L275.0 279.0L278.0 280.5L281.0 281.8L284.0 282.8L287.0 283.6L290.0 284.2L293.0 284.5L296.0 284.5L299.0 284.3L302.0 283.8L305.0 282.9L308.0 281.8L311.0 280.3L314.0 278.5L317.0 276.3L320.0 273.8L323.0 271.0L326.0 267.9L329.0 264.5L332.0 260.8L335.0 256.8L338.0 252.5L341.0 247.9L344.0 243.0L347.0 237.9L350.0 232.5L353.0 226.8L356.0 220.9L359.0 214.9L362.0 208.9L365.0 202.8L368.0 196.9L371.0 191.2L374.0 185.7L377.0 180.6L380.0 176.0L383.0 171.8L386.0 168.3L389.0 165.3L392.0 162.8L395.0 160.8L398.0 159.2L401.0 157.9L404.0 156.7L407.0 155.8L410.0 154.9L413.0 154.3L416.0 153.7L419.0 153.4L422.0 153.1L425.0 153.0L428.0 153.1L431.0 153.3L434.0 153.6L437.0 154.0L440.0 154.5L443.0 155.1L446.0 155.8L449.0 156.6L452.0 157.4L455.0 158.3L458.0 159.2L461.0 160.2L464.0 161.2L467.0 162.1L470.0 163.1L473.0 164.0L476.0 164.8L479.0 165.7L482.0 166.6L485.0 167.5L488.0 168.4L491.0 169.3L494.0 170.2L497.0 171.2L500.0 172.3L503.0 173.3L506.0 174.5L509.0 175.6L512.0 176.8L515.0 178.0L518.0 179.2L521.0 180.4L524.0 181.7L527.0 182.9L530.0 184.2L533.0 185.4L536.0 186.6L539.0 187.8L542.0 189.0L545.0 190.2L548.0 191.3L551.0 192.4L554.0 193.4L557.0 194.4L560.0 195.3L563.0 196.2L566.0 197.0L569.0 197.9L572.0 198.7L575.0 199.4L578.0 200.2L581.0 200.9L584.0 201.6L587.0 202.3L590.0 203.0L593.0 203.7L596.0 204.3L599.0 205.0" stroke="#0072BD"/>
<path d="M125.0 214.2L128.0 215.6L131.0 217.3L134.0 219.3L137.0 222.0L140.0 225.4L143.0 229.5L146.0 233.9L149.0 238.5L152.0 243.0L155.0 247.5L158.0 251.7L161.0 255.7L164.0 259.6L167.0 263.2L170.0 266.7L173.0 270.2L176.0 273.7L179.0 277.2L182.0 280.5L185.0 283.6L188.0 286.2L191.0 288.6L194.0 290.6L197.0 292.3L200.0 293.9L203.0 295.4L206.0 296.6L209.0 297.5L212.0 298.1L215.0 298.5L218.0 298.4L221.0 298.1L224.0 297.4L227.0 296.3L230.0 294.8L233.0 292.8L236.0 290.4L239.0 287.6L242.0 284.5L245.0 281.3L248.0 278.1L251.0 275.0L254.0 271.8L257.0 268.4L260.0 264.7L263.0 260.6L266.0 256.3L269.0 251.9L272.0 247.6L275.0 243.4L278.0 239.2L281.0 234.9L284.0 230.5L287.0 225.8L290.0 220.9L293.0 216.0L296.0 211.0L299.0 206.0L302.0 201.1L305.0 196.4L308.0 191.9L311.0 187.7L314.0 184.0L317.0 180.6L320.0 177.7L323.0 175.2L326.0 173.2L329.0 171.5L332.0 170.1L335.0 168.9L338.0 168.1L341.0 167.4L344.0 167.0L347.0 166.7L350.0 166.4L353.0 166.3L356.0 166.2L359.0 166.1L362.0 166.0L365.0 165.8L368.0 165.8L371.0 165.8L374.0 166.0L377.0 166.5L380.0 167.2L383.0 168.2L386.0 169.7L389.0 171.6L392.0 174.0L395.0 176.9L398.0 180.5L401.0 184.7L404.0 189.7L407.0 195.2L410.0 201.3L413.0 207.7L416.0 214.5L419.0 221.3L422.0 228.2L425.0 235.0L428.0 241.7L431.0 248.0L434.0 253.9L437.0 259.3L440.0 264.0L443.0 267.9L446.0 271.1L449.0 273.6L452.0 275.5L455.0 276.8L458.0 277.7L461.0 278.3L464.0 278.6L467.0 278.7L470.0 278.6L473.0 278.5L476.0 278.5L479.0 278.6L482.0 278.8L485.0 279.2L488.0 279.8L491.0 280.3L494.0 280.8L497.0 281.1L500.0 281.2L503.0 281.1L506.0 280.5L509.0 279.6L512.0 278.1L515.0 276.0L518.0 273.3L521.0 270.1L524.0 266.4L527.0 262.2L530.0 257.7L533.0 253.0L536.0 248.0L539.0 243.0L542.0 237.9L545.0 232.9L548.0 227.9L551.0 223.2L554.0 218.7L557.0 214.5L560.0 210.5L563.0 206.7L566.0 203.2L569.0 199.8L572.0 196.6L575.0 193.6L578.0 190.8L581.0 188.0L584.0 185.4L587.0 182.8L590.0 180.3L593.0 177.9L596.0 175.5L599.0 173.1" stroke="#A2142F"/>
<path d="M125.0 209.8L128.0 209.9L131.0 210.0L134.0 210.3L137.0 211.0L140.0 212.0L143.0 213.6L146.0 215.8L149.0 218.6L152.0 222.0L155.0 225.6L158.0 229.4L161.0 233.3L164.0 237.0L167.0 240.8L170.0 244.4L173.0 248.1L176.0 251.9L179.0 255.6L182.0 259.2L185.0 262.7L188.0 266.0L191.0 269.1L194.0 272.1L197.0 275.0L200.0 277.8L203.0 280.6L206.0 283.3L209.0 285.8L212.0 288.2L215.0 290.4L218.0 292.5L221.0 294.4L224.0 296.2L227.0 297.9L230.0 299.4L233.0 300.8L236.0 302.0L239.0 302.9L242.0 303.7L245.0 304.3L248.0 304.8L251.0 305.1L254.0 305.4L257.0 305.5L260.0 305.5L263.0 305.5L266.0 305.3L269.0 305.1L272.0 304.8L275.0 304.3L278.0 303.8L281.0 303.2L284.0 302.4L287.0 301.5L290.0 300.5L293.0 299.4L296.0 298.2L299.0 297.0L302.0 295.8L305.0 294.6L308.0 293.3L311.0 292.0L314.0 290.7L317.0 289.3L320.0 287.9L323.0 286.4L326.0 284.8L329.0 283.3L332.0 281.7L335.0 280.2L338.0 278.7L341.0 277.2L344.0 275.9L347.0 274.7L350.0 273.5L353.0 272.3L356.0 271.1L359.0 269.9L362.0 268.5L365.0 267.0L368.0 265.3L371.0 263.5L374.0 261.5L377.0 259.3L380.0 257.1L383.0 254.8L386.0 252.4L389.0 250.0L392.0 247.6L395.0 245.2L398.0 242.9L401.0 240.5L404.0 238.3L407.0 236.0L410.0 233.8L413.0 231.7L416.0 229.5L419.0 227.4L422.0 225.4L425.0 223.3L428.0 221.4L431.0 219.4L434.0 217.5L437.0 215.5L440.0 213.7L443.0 211.8L446.0 210.0L449.0 208.2L452.0 206.5L455.0 204.8L458.0 203.2L461.0 201.6L464.0 200.1L467.0 198.7L470.0 197.3L473.0 196.0L476.0 194.8L479.0 193.7L482.0 192.6L485.0 191.6L488.0 190.7L491.0 189.9L494.0 189.1L497.0 188.4L500.0 187.8L503.0 187.2L506.0 186.7L509.0 186.3L512.0 185.9L515.0 185.6L518.0 185.3L521.0 185.1L524.0 184.9L527.0 184.8L530.0 184.8L533.0 184.8L536.0 184.8L539.0 184.9L542.0 185.1L545.0 185.3L548.0 185.5L551.0 185.8L554.0 186.2L557.0 186.6L560.0 187.1L563.0 187.6L566.0 188.2L569.0 188.9L572.0 189.6L575.0 190.4L578.0 191.3L581.0 192.2L584.0 193.2L587.0 194.2L590.0 195.3L593.0 196.5L596.0 197.6L599.0 198.8" stroke="#4DBEEE"/>
<path d="M125.0 212.8L128.0 213.8L131.0 214.9L134.0 215.9L137.0 217.0L140.0 218.1L143.0 219.2L146.0 220.4L149.0 221.6L152.0 222.8L155.0 224.1L158.0 225.5L161.0 226.9L164.0 228.5L167.0 230.2L170.0 232.0L173.0 234.0L176.0 236.1L179.0 238.3L182.0 240.6L185.0 243.0L188.0 245.5L191.0 248.0L194.0 250.6L197.0 253.1L200.0 255.7L203.0 258.3L206.0 260.9L209.0 263.7L212.0 266.7L215.0 270.0L218.0 273.3L221.0 276.7L224.0 280.1L227.0 283.4L230.0 286.8L233.0 290.1L236.0 293.4L239.0 296.7L242.0 299.9L245.0 303.2L248.0 306.4L251.0 309.5L254.0 312.5L257.0 315.4L260.0 318.2L263.0 320.8L266.0 323.3L269.0 325.6L272.0 327.7L275.0 329.7L278.0 331.5L281.0 333.1L284.0 334.7L287.0 336.2L290.0 337.5L293.0 338.7L296.0 339.8L299.0 340.7L302.0 341.6L305.0 342.3L308.0 342.9L311.0 343.4L314.0 343.8L317.0 344.0L320.0 344.0L323.0 343.7L326.0 343.3L329.0 342.7L332.0 342.0L335.0 341.2L338.0 340.3L341.0 339.2L344.0 337.9L347.0 336.3L350.0 334.6L353.0 332.7L356.0 330.8L359.0 328.9L362.0 326.9L365.0 324.5L368.0 321.6L371.0 318.5L374.0 315.4L377.0 312.4L380.0 309.5L383.0 306.4L386.0 303.1L389.0 299.6L392.0 295.9L395.0 292.3L398.0 288.8L401.0 285.4L404.0 282.1L407.0 278.8L410.0 275.6L413.0 272.3L416.0 269.0L419.0 265.7L422.0 262.5L425.0 259.5L428.0 256.5L431.0 253.5L434.0 250.5L437.0 247.5L440.0 244.6L443.0 241.8L446.0 239.1L449.0 236.7L452.0 234.4L455.0 232.3L458.0 230.3L461.0 228.5L464.0 226.8L467.0 225.1L470.0 223.6L473.0 222.2L476.0 220.8L479.0 219.5L482.0 218.2L485.0 217.0L488.0 215.7L491.0 214.5L494.0 213.3L497.0 212.1L500.0 210.9L503.0 209.8L506.0 208.6L509.0 207.5L512.0 206.4L515.0 205.3L518.0 204.3L521.0 203.3L524.0 202.3L527.0 201.3L530.0 200.4L533.0 199.4L536.0 198.5L539.0 197.7L542.0 196.8L545.0 196.0L548.0 195.1L551.0 194.3L554.0 193.6L557.0 192.8L560.0 192.0L563.0 191.3L566.0 190.6L569.0 189.8L572.0 189.1L575.0 188.4L578.0 187.7L581.0 187.1L584.0 186.4L587.0 185.7L590.0 185.0L593.0 184.4L596.0 183.7L599.0 183.0" stroke="#0072BD"/>
<path d="M125.0 214.3L128.0 213.0L131.0 211.6L134.0 210.3L137.0 209.0L140.0 207.7L143.0 206.5L146.0 205.3L149.0 204.1L152.0 203.0L155.0 202.0L158.0 201.0L161.0 200.1L164.0 199.3L167.0 198.6L170.0 197.9L173.0 197.4L176.0 197.1L179.0 196.9L182.0 196.8L185.0 197.0L188.0 197.3L191.0 197.9L194.0 198.7L197.0 199.7L200.0 201.0L203.0 202.6L206.0 204.5L209.0 206.7L212.0 209.2L215.0 211.9L218.0 214.8L221.0 217.8L224.0 221.0L227.0 224.2L230.0 227.5L233.0 230.8L236.0 234.1L239.0 237.3L242.0 240.4L245.0 243.5L248.0 246.4L251.0 249.3L254.0 252.1L257.0 255.0L260.0 257.8L263.0 260.7L266.0 263.5L269.0 266.5L272.0 269.5L275.0 272.6L278.0 275.7L281.0 278.6L284.0 281.4L287.0 284.0L290.0 286.4L293.0 288.7L296.0 291.0L299.0 293.3L302.0 295.7L305.0 298.1L308.0 300.5L311.0 303.0L314.0 305.5L317.0 307.9L320.0 310.1L323.0 312.2L326.0 314.1L329.0 315.8L332.0 317.2L335.0 318.5L338.0 319.5L341.0 320.3L344.0 320.9L347.0 321.3L350.0 321.5L353.0 321.5L356.0 321.4L359.0 321.2L362.0 320.9L365.0 320.5L368.0 319.9L371.0 319.0L374.0 317.7L377.0 316.1L380.0 314.3L383.0 312.2L386.0 309.9L389.0 307.5L392.0 305.0L395.0 302.6L398.0 300.2L401.0 298.0L404.0 295.9L407.0 293.9L410.0 292.2L413.0 290.6L416.0 289.0L419.0 287.3L422.0 285.4L425.0 283.0L428.0 280.1L431.0 276.8L434.0 273.0L437.0 268.9L440.0 264.4L443.0 259.7L446.0 254.8L449.0 249.7L452.0 244.6L455.0 239.4L458.0 234.2L461.0 229.1L464.0 224.1L467.0 219.3L470.0 214.6L473.0 210.0L476.0 205.7L479.0 201.5L482.0 197.4L485.0 193.6L488.0 190.0L491.0 186.7L494.0 183.5L497.0 180.7L500.0 178.0L503.0 175.7L506.0 173.7L509.0 171.9L512.0 170.5L515.0 169.3L518.0 168.3L521.0 167.7L524.0 167.2L527.0 166.9L530.0 166.9L533.0 167.0L536.0 167.4L539.0 167.8L542.0 168.4L545.0 169.2L548.0 170.1L551.0 171.0L554.0 172.1L557.0 173.3L560.0 174.5L563.0 175.8L566.0 177.2L569.0 178.7L572.0 180.2L575.0 181.8L578.0 183.4L581.0 185.0L584.0 186.7L587.0 188.4L590.0 190.2L593.0 192.0L596.0 193.7L599.0 195.5" stroke="#7E2F8E"/>
<path d="M125.0 210.6L128.0 208.8L131.0 207.0L134.0 205.2L137.0 203.5L140.0 201.9L143.0 200.4L146.0 199.0L149.0 197.8L152.0 196.7L155.0 195.6L158.0 194.7L161.0 193.9L164.0 193.2L167.0 192.6L170.0 192.1L173.0 191.7L176.0 191.3L179.0 191.0L182.0 190.8L185.0 190.6L188.0 190.6L191.0 190.8L194.0 191.1L197.0 191.5L200.0 192.2L203.0 193.0L206.0 194.1L209.0 195.4L212.0 197.0L215.0 198.9L218.0 201.1L221.0 203.5L224.0 206.1L227.0 209.0L230.0 211.9L233.0 215.0L236.0 218.1L239.0 221.2L242.0 224.3L245.0 227.3L248.0 230.2L251.0 232.9L254.0 235.5L257.0 237.9L260.0 240.3L263.0 242.6L266.0 244.9L269.0 247.3L272.0 249.9L275.0 252.5L278.0 255.2L281.0 258.0L284.0 260.8L287.0 263.6L290.0 266.3L293.0 269.0L296.0 271.5L299.0 273.9L302.0 276.1L305.0 278.2L308.0 280.3L311.0 282.3L314.0 284.3L317.0 286.2L320.0 288.2L323.0 290.2L326.0 292.2L329.0 294.2L332.0 296.1L335.0 298.0L338.0 299.7L341.0 301.2L344.0 302.6L347.0 303.8L350.0 304.8L353.0 305.9L356.0 307.0L359.0 308.2L362.0 309.7L365.0 311.5L368.0 313.4L371.0 315.3L374.0 317.1L377.0 318.8L380.0 320.3L383.0 321.6L386.0 322.7L389.0 323.5L392.0 324.2L395.0 324.8L398.0 325.2L401.0 325.6L404.0 325.9L407.0 326.1L410.0 326.2L413.0 326.2L416.0 326.1L419.0 326.0L422.0 325.7L425.0 325.4L428.0 325.1L431.0 324.7L434.0 324.4L437.0 324.0L440.0 323.6L443.0 323.3L446.0 322.9L449.0 322.5L452.0 322.2L455.0 321.9L458.0 321.5L461.0 321.2L464.0 320.9L467.0 320.7L470.0 320.4L473.0 320.2L476.0 320.0L479.0 319.8L482.0 319.7L485.0 319.6L488.0 319.5L491.0 319.5L494.0 319.5L497.0 319.5L500.0 319.5L503.0 319.6L506.0 319.7L509.0 319.8L512.0 319.9L515.0 320.1L518.0 320.2L521.0 320.4L524.0 320.5L527.0 320.7L530.0 320.9L533.0 321.0L536.0 321.2L539.0 321.4L542.0 321.5L545.0 321.7L548.0 321.8L551.0 322.0L554.0 322.1L557.0 322.2L560.0 322.2L563.0 322.3L566.0 322.3L569.0 322.2L572.0 322.1L575.0 321.8L578.0 321.5L581.0 321.1L584.0 320.6L587.0 320.0L590.0 319.4L593.0 318.7L596.0 317.9L599.0 317.2" stroke="#D95319"/>
<path d="M125.0 212.4L128.0 210.8L131.0 209.1L134.0 207.4L137.0 205.8L140.0 204.1L143.0 202.5L146.0 200.8L149.0 199.2L152.0 197.6L155.0 196.1L158.0 194.5L161.0 193.0L164.0 191.5L167.0 190.1L170.0 188.8L173.0 187.5L176.0 186.5L179.0 185.5L182.0 184.8L185.0 184.3L188.0 184.1L191.0 184.1L194.0 184.4L197.0 185.0L200.0 186.0L203.0 187.4L206.0 189.1L209.0 191.1L212.0 193.6L215.0 196.3L218.0 199.3L221.0 202.7L224.0 206.3L227.0 210.2L230.0 214.3L233.0 218.7L236.0 223.3L239.0 228.1L242.0 233.0L245.0 238.0L248.0 243.1L251.0 248.1L254.0 252.9L257.0 257.7L260.0 262.2L263.0 266.4L266.0 270.3L269.0 273.8L272.0 276.9L275.0 279.4L278.0 281.6L281.0 283.4L284.0 285.0L287.0 286.3L290.0 287.4L293.0 288.4L296.0 289.4L299.0 290.4L302.0 291.3L305.0 292.3L308.0 293.2L311.0 294.1L314.0 295.0L317.0 295.8L320.0 296.6L323.0 297.3L326.0 297.9L329.0 298.5L332.0 299.0L335.0 299.4L338.0 299.8L341.0 300.0L344.0 300.2L347.0 300.3L350.0 300.2L353.0 300.1L356.0 300.0L359.0 299.7L362.0 299.4L365.0 299.0L368.0 298.6L371.0 298.1L374.0 297.6L377.0 297.0L380.0 296.4L383.0 295.7L386.0 295.0L389.0 294.3L392.0 293.5L395.0 292.7L398.0 291.9L401.0 291.1L404.0 290.3L407.0 289.6L410.0 289.0L413.0 288.5L416.0 288.0L419.0 287.6L422.0 287.3L425.0 287.1L428.0 286.9L431.0 286.8L434.0 286.8L437.0 286.8L440.0 286.8L443.0 286.9L446.0 287.0L449.0 287.2L452.0 287.5L455.0 287.7L458.0 288.1L461.0 288.4L464.0 288.9L467.0 289.3L470.0 289.8L473.0 290.3L476.0 290.8L479.0 291.3L482.0 291.7L485.0 292.2L488.0 292.7L491.0 293.1L494.0 293.5L497.0 293.9L500.0 294.3L503.0 294.6L506.0 294.8L509.0 295.0L512.0 295.1L515.0 295.2L518.0 295.2L521.0 295.2L524.0 295.1L527.0 295.0L530.0 294.8L533.0 294.6L536.0 294.3L539.0 294.0L542.0 293.6L545.0 293.2L548.0 292.8L551.0 292.3L554.0 291.8L557.0 291.3L560.0 290.7L563.0 290.2L566.0 289.6L569.0 289.0L572.0 288.3L575.0 287.7L578.0 287.0L581.0 286.3L584.0 285.6L587.0 284.9L590.0 284.2L593.0 283.5L596.0 282.7L599.0 282.0" stroke="#7E2F8E"/>
<path d="M125.0 203.4L128.0 203.5L131.0 203.6L134.0 203.8L137.0 204.0L140.0 204.3L143.0 204.7L146.0 205.2L149.0 205.8L152.0 206.6L155.0 207.6L158.0 208.8L161.0 210.3L164.0 211.9L167.0 213.9L170.0 216.1L173.0 218.6L176.0 221.4L179.0 224.6L182.0 228.1L185.0 231.8L188.0 235.8L191.0 239.8L194.0 243.9L197.0 247.9L200.0 251.9L203.0 255.7L206.0 259.2L209.0 262.5L212.0 265.4L215.0 267.9L218.0 270.2L221.0 272.4L224.0 274.5L227.0 276.7L230.0 278.8L233.0 280.9L236.0 282.9L239.0 284.9L242.0 286.7L245.0 288.4L248.0 289.8L251.0 291.0L254.0 292.0L257.0 292.9L260.0 293.7L263.0 294.3L266.0 294.8L269.0 295.2L272.0 295.3L275.0 295.3L278.0 295.1L281.0 294.6L284.0 293.9L287.0 292.8L290.0 291.6L293.0 290.3L296.0 288.9L299.0 287.7L302.0 286.3L305.0 284.8L308.0 282.9L311.0 280.7L314.0 278.3L317.0 275.7L320.0 273.2L323.0 270.7L326.0 268.4L329.0 266.0L332.0 263.6L335.0 261.1L338.0 258.5L341.0 255.7L344.0 252.9L347.0 250.1L350.0 247.2L353.0 244.3L356.0 241.4L359.0 238.4L362.0 235.3L365.0 232.3L368.0 229.2L371.0 226.0L374.0 222.8L377.0 219.6L380.0 216.4L383.0 213.1L386.0 209.8L389.0 206.5L392.0 203.3L395.0 200.2L398.0 197.1L401.0 194.1L404.0 191.2L407.0 188.5L410.0 185.9L413.0 183.6L416.0 181.4L419.0 179.4L422.0 177.7L425.0 176.3L428.0 175.1L431.0 174.1L434.0 173.4L437.0 172.9L440.0 172.6L443.0 172.5L446.0 172.6L449.0 172.8L452.0 173.3L455.0 173.9L458.0 174.7L461.0 175.6L464.0 176.7L467.0 177.9L470.0 179.2L473.0 180.7L476.0 182.4L479.0 184.2L482.0 186.2L485.0 188.4L488.0 190.8L491.0 193.4L494.0 196.3L497.0 199.4L500.0 202.7L503.0 206.3L506.0 210.1L509.0 214.1L512.0 218.2L515.0 222.5L518.0 226.8L521.0 231.2L524.0 235.5L527.0 239.8L530.0 243.9L533.0 247.9L536.0 251.6L539.0 255.1L542.0 258.4L545.0 261.3L548.0 263.8L551.0 265.9L554.0 267.6L557.0 269.0L560.0 270.1L563.0 270.9L566.0 271.4L569.0 271.8L572.0 271.9L575.0 271.8L578.0 271.6L581.0 271.3L584.0 271.0L587.0 270.5L590.0 270.0L593.0 269.5L596.0 268.9L599.0 268.3" stroke="#77AC30"/>
<path d="M125.0 257.3L128.0 257.6L131.0 257.9L134.0 258.2L137.0 258.5L140.0 258.8L143.0 259.2L146.0 259.6L149.0 259.9L152.0 260.3L155.0 260.7L158.0 261.1L161.0 261.4L164.0 261.7L167.0 261.9L170.0 262.0L173.0 262.0L176.0 262.0L179.0 261.8L182.0 261.5L185.0 261.1L188.0 260.5L191.0 259.7L194.0 258.7L197.0 257.6L200.0 256.3L203.0 254.8L206.0 253.1L209.0 251.2L212.0 249.1L215.0 246.8L218.0 244.3L221.0 241.6L224.0 238.7L227.0 235.5L230.0 232.2L233.0 228.8L236.0 225.3L239.0 221.7L242.0 218.2L245.0 214.7L248.0 211.3L251.0 208.0L254.0 204.9L257.0 202.1L260.0 199.4L263.0 197.1L266.0 194.9L269.0 193.0L272.0 191.3L275.0 189.8L278.0 188.4L281.0 187.1L284.0 186.0L287.0 185.0L290.0 184.0L293.0 183.1L296.0 182.3L299.0 181.5L302.0 180.8L305.0 180.1L308.0 179.5L311.0 179.1L314.0 178.7L317.0 178.4L320.0 178.2L323.0 178.2L326.0 178.3L329.0 178.5L332.0 178.9L335.0 179.4L338.0 180.1L341.0 181.0L344.0 182.1L347.0 183.4L350.0 184.8L353.0 186.5L356.0 188.4L359.0 190.4L362.0 192.7L365.0 195.3L368.0 198.0L371.0 201.0L374.0 204.3L377.0 207.7L380.0 211.4L383.0 215.3L386.0 219.4L389.0 223.6L392.0 228.0L395.0 232.3L398.0 236.6L401.0 240.9L404.0 245.0L407.0 249.2L410.0 253.3L413.0 257.4L416.0 261.6L419.0 265.8L422.0 270.1L425.0 274.5L428.0 278.8L431.0 283.0L434.0 286.9L437.0 290.4L440.0 293.7L443.0 296.8L446.0 299.8L449.0 302.6L452.0 305.3L455.0 307.9L458.0 310.4L461.0 312.7L464.0 314.9L467.0 317.0L470.0 318.8L473.0 320.4L476.0 321.8L479.0 323.0L482.0 324.1L485.0 325.0L488.0 325.9L491.0 326.5L494.0 327.0L497.0 327.4L500.0 327.5L503.0 327.6L506.0 327.5L509.0 327.3L512.0 326.9L515.0 326.5L518.0 325.8L521.0 325.1L524.0 324.2L527.0 323.3L530.0 322.2L533.0 321.1L536.0 320.0L539.0 318.7L542.0 317.5L545.0 316.1L548.0 314.7L551.0 313.2L554.0 311.6L557.0 309.9L560.0 308.0L563.0 306.2L566.0 304.3L569.0 302.6L572.0 301.0L575.0 299.5L578.0 298.2L581.0 297.0L584.0 296.0L587.0 294.9L590.0 293.6L593.0 291.9L596.0 290.0L599.0 288.0" stroke="#0072BD"/>
<path d="M125.0 243.1L128.0 240.9L131.0 238.7L134.0 236.5L137.0 234.3L140.0 232.1L143.0 229.9L146.0 227.6L149.0 225.4L152.0 223.2L155.0 221.0L158.0 218.7L161.0 216.5L164.0 214.3L167.0 212.1L170.0 209.9L173.0 207.9L176.0 205.9L179.0 204.0L182.0 202.3L185.0 200.8L188.0 199.4L191.0 198.2L194.0 197.3L197.0 196.6L200.0 196.1L203.0 195.8L206.0 195.6L209.0 195.7L212.0 195.9L215.0 196.3L218.0 196.9L221.0 197.5L224.0 198.3L227.0 199.2L230.0 200.2L233.0 201.3L236.0 202.4L239.0 203.6L242.0 204.9L245.0 206.2L248.0 207.5L251.0 208.8L254.0 210.1L257.0 211.4L260.0 212.7L263.0 213.9L266.0 215.0L269.0 216.0L272.0 217.0L275.0 217.8L278.0 218.5L281.0 219.0L284.0 219.4L287.0 219.7L290.0 219.8L293.0 219.8L296.0 219.6L299.0 219.4L302.0 219.0L305.0 218.6L308.0 218.0L311.0 217.4L314.0 216.8L317.0 216.0L320.0 215.3L323.0 214.4L326.0 213.6L329.0 212.7L332.0 211.9L335.0 211.0L338.0 210.3L341.0 209.5L344.0 208.9L347.0 208.4L350.0 208.0L353.0 207.8L356.0 207.7L359.0 207.9L362.0 208.3L365.0 208.9L368.0 209.8L371.0 210.9L374.0 212.3L377.0 213.9L380.0 215.6L383.0 217.6L386.0 219.8L389.0 222.1L392.0 224.6L395.0 227.3L398.0 230.1L401.0 233.0L404.0 236.0L407.0 239.1L410.0 242.4L413.0 245.7L416.0 249.2L419.0 252.7L422.0 256.2L425.0 259.8L428.0 263.5L431.0 267.1L434.0 270.7L437.0 274.3L440.0 277.9L443.0 281.6L446.0 285.3L449.0 288.9L452.0 292.3L455.0 295.6L458.0 298.8L461.0 301.7L464.0 304.4L467.0 306.9L470.0 309.2L473.0 311.2L476.0 313.1L479.0 314.8L482.0 316.4L485.0 317.7L488.0 318.9L491.0 319.8L494.0 320.6L497.0 321.1L500.0 321.5L503.0 321.6L506.0 321.5L509.0 321.2L512.0 320.6L515.0 319.7L518.0 318.6L521.0 317.2L524.0 315.5L527.0 313.6L530.0 311.5L533.0 309.2L536.0 306.6L539.0 303.9L542.0 300.8L545.0 297.5L548.0 294.0L551.0 290.3L554.0 286.5L557.0 282.7L560.0 278.8L563.0 274.9L566.0 271.0L569.0 267.0L572.0 263.0L575.0 259.0L578.0 255.2L581.0 251.5L584.0 247.9L587.0 244.4L590.0 240.9L593.0 237.2L596.0 233.4L599.0 229.6" stroke="#77AC30"/>
<path d="M125.0 230.7L128.0 231.6L131.0 232.5L134.0 233.3L137.0 234.2L140.0 235.1L143.0 235.9L146.0 236.7L149.0 237.5L152.0 238.3L155.0 239.0L158.0 239.7L161.0 240.3L164.0 241.0L167.0 241.5L170.0 242.0L173.0 242.5L176.0 242.9L179.0 243.3L182.0 243.6L185.0 243.8L188.0 243.9L191.0 244.0L194.0 244.0L197.0 244.0L200.0 243.8L203.0 243.6L206.0 243.2L209.0 242.8L212.0 242.3L215.0 241.7L218.0 241.0L221.0 240.2L224.0 239.3L227.0 238.3L230.0 237.2L233.0 236.0L236.0 234.7L239.0 233.3L242.0 231.8L245.0 230.3L248.0 228.7L251.0 227.1L254.0 225.4L257.0 223.7L260.0 221.9L263.0 220.2L266.0 218.4L269.0 216.6L272.0 214.8L275.0 213.1L278.0 211.3L281.0 209.6L284.0 207.9L287.0 206.3L290.0 204.6L293.0 203.1L296.0 201.6L299.0 200.2L302.0 198.8L305.0 197.5L308.0 196.4L311.0 195.3L314.0 194.3L317.0 193.4L320.0 192.6L323.0 192.0L326.0 191.5L329.0 191.2L332.0 191.0L335.0 191.0L338.0 191.2L341.0 191.6L344.0 192.2L347.0 193.1L350.0 194.1L353.0 195.4L356.0 196.9L359.0 198.6L362.0 200.4L365.0 202.4L368.0 204.5L371.0 206.7L374.0 209.0L377.0 211.4L380.0 213.8L383.0 216.2L386.0 218.7L389.0 221.2L392.0 223.6L395.0 226.1L398.0 228.5L401.0 230.9L404.0 233.3L407.0 235.6L410.0 237.9L413.0 240.1L416.0 242.2L419.0 244.3L422.0 246.3L425.0 248.3L428.0 250.2L431.0 252.1L434.0 254.0L437.0 256.0L440.0 258.0L443.0 260.1L446.0 262.4L449.0 264.6L452.0 266.9L455.0 269.2L458.0 271.4L461.0 273.6L464.0 275.7L467.0 277.8L470.0 279.8L473.0 281.8L476.0 283.7L479.0 285.4L482.0 286.9L485.0 288.3L488.0 289.5L491.0 290.6L494.0 291.7L497.0 292.9L500.0 294.2L503.0 295.4L506.0 296.5L509.0 297.5L512.0 298.5L515.0 299.3L518.0 300.1L521.0 300.9L524.0 301.7L527.0 302.4L530.0 303.0L533.0 303.6L536.0 304.1L539.0 304.5L542.0 304.9L545.0 305.3L548.0 305.7L551.0 306.0L554.0 306.2L557.0 306.5L560.0 306.6L563.0 306.6L566.0 306.4L569.0 306.0L572.0 305.5L575.0 304.8L578.0 304.0L581.0 303.3L584.0 302.6L587.0 301.7L590.0 300.7L593.0 299.5L596.0 298.0L599.0 296.5" stroke="#EDB120"/>
<path d="M125.0 257.9L128.0 258.1L131.0 258.2L134.0 258.4L137.0 258.6L140.0 258.8L143.0 259.0L146.0 259.2L149.0 259.4L152.0 259.6L155.0 259.8L158.0 260.1L161.0 260.3L164.0 260.5L167.0 260.8L170.0 261.0L173.0 261.3L176.0 261.5L179.0 261.7L182.0 261.8L185.0 261.9L188.0 261.8L191.0 261.5L194.0 261.1L197.0 260.5L200.0 259.7L203.0 258.6L206.0 257.2L209.0 255.5L212.0 253.6L215.0 251.4L218.0 249.0L221.0 246.4L224.0 243.6L227.0 240.7L230.0 237.6L233.0 234.5L236.0 231.3L239.0 228.0L242.0 224.7L245.0 221.5L248.0 218.2L251.0 215.0L254.0 211.9L257.0 208.9L260.0 205.9L263.0 203.0L266.0 200.3L269.0 197.6L272.0 195.0L275.0 192.6L278.0 190.3L281.0 188.2L284.0 186.2L287.0 184.3L290.0 182.6L293.0 181.1L296.0 179.7L299.0 178.5L302.0 177.4L305.0 176.5L308.0 175.6L311.0 174.8L314.0 174.2L317.0 173.6L320.0 173.0L323.0 172.5L326.0 172.0L329.0 171.5L332.0 171.1L335.0 170.6L338.0 170.1L341.0 169.7L344.0 169.3L347.0 168.9L350.0 168.6L353.0 168.5L356.0 168.4L359.0 168.6L362.0 168.9L365.0 169.5L368.0 170.2L371.0 171.3L374.0 172.6L377.0 174.2L380.0 176.2L383.0 178.5L386.0 181.0L389.0 183.8L392.0 186.7L395.0 189.9L398.0 193.2L401.0 196.5L404.0 200.0L407.0 203.5L410.0 207.0L413.0 210.5L416.0 213.9L419.0 217.2L422.0 220.5L425.0 223.7L428.0 226.7L431.0 229.8L434.0 232.7L437.0 235.7L440.0 238.6L443.0 241.4L446.0 244.2L449.0 247.1L452.0 249.9L455.0 252.7L458.0 255.5L461.0 258.3L464.0 261.1L467.0 263.9L470.0 266.6L473.0 269.2L476.0 271.7L479.0 274.0L482.0 276.1L485.0 277.9L488.0 279.4L491.0 280.8L494.0 281.9L497.0 283.0L500.0 284.0L503.0 284.8L506.0 285.6L509.0 286.3L512.0 287.0L515.0 287.5L518.0 288.0L521.0 288.3L524.0 288.6L527.0 288.9L530.0 289.2L533.0 289.5L536.0 289.8L539.0 290.2L542.0 290.4L545.0 290.7L548.0 290.8L551.0 290.9L554.0 291.0L557.0 291.0L560.0 291.0L563.0 290.9L566.0 290.6L569.0 290.2L572.0 289.6L575.0 288.9L578.0 288.2L581.0 287.6L584.0 287.1L587.0 286.5L590.0 285.9L593.0 285.1L596.0 284.2L599.0 283.2" stroke="#A2142F"/>
<path d="M125.0 176.5L128.0 176.9L131.0 177.2L134.0 177.6L137.0 178.0L140.0 178.4L143.0 178.8L146.0 179.2L149.0 179.7L152.0 180.2L155.0 180.7L158.0 181.2L161.0 181.8L164.0 182.5L167.0 183.1L170.0 183.9L173.0 184.6L176.0 185.4L179.0 186.2L182.0 187.1L185.0 188.0L188.0 188.9L191.0 189.9L194.0 190.9L197.0 192.0L200.0 193.1L203.0 194.2L206.0 195.4L209.0 196.6L212.0 197.8L215.0 199.0L218.0 200.3L221.0 201.6L224.0 203.0L227.0 204.3L230.0 205.7L233.0 207.1L236.0 208.6L239.0 210.0L242.0 211.5L245.0 213.0L248.0 214.5L251.0 216.0L254.0 217.5L257.0 219.1L260.0 220.6L263.0 222.1L266.0 223.7L269.0 225.2L272.0 226.8L275.0 228.4L278.0 230.0L281.0 231.6L284.0 233.2L287.0 234.8L290.0 236.5L293.0 238.1L296.0 239.8L299.0 241.6L302.0 243.3L305.0 245.1L308.0 246.9L311.0 248.7L314.0 250.6L317.0 252.4L320.0 254.3L323.0 256.2L326.0 258.2L329.0 260.1L332.0 262.0L335.0 263.8L338.0 265.5L341.0 267.1L344.0 268.6L347.0 269.9L350.0 271.1L353.0 272.1L356.0 272.8L359.0 273.3L362.0 273.5L365.0 273.5L368.0 273.1L371.0 272.5L374.0 271.6L377.0 270.4L380.0 268.9L383.0 267.0L386.0 264.9L389.0 262.4L392.0 259.6L395.0 256.5L398.0 253.0L401.0 249.3L404.0 245.2L407.0 241.0L410.0 236.6L413.0 232.1L416.0 227.6L419.0 223.0L422.0 218.4L425.0 214.0L428.0 209.7L431.0 205.5L434.0 201.6L437.0 197.9L440.0 194.5L443.0 191.3L446.0 188.4L449.0 185.7L452.0 183.2L455.0 180.9L458.0 178.8L461.0 177.0L464.0 175.3L467.0 173.9L470.0 172.6L473.0 171.5L476.0 170.6L479.0 170.0L482.0 169.6L485.0 169.5L488.0 169.7L491.0 170.2L494.0 171.0L497.0 172.1L500.0 173.7L503.0 175.6L506.0 177.9L509.0 180.5L512.0 183.5L515.0 186.8L518.0 190.4L521.0 194.2L524.0 198.2L527.0 202.4L530.0 206.7L533.0 211.1L536.0 215.6L539.0 220.1L542.0 224.6L545.0 229.0L548.0 233.3L551.0 237.6L554.0 241.7L557.0 245.6L560.0 249.4L563.0 252.9L566.0 256.1L569.0 259.1L572.0 261.8L575.0 264.1L578.0 266.0L581.0 267.6L584.0 268.7L587.0 269.4L590.0 269.6L593.0 269.4L596.0 269.0L599.0 268.4" stroke="#77AC30"/>
<path d="M125.0 176.5L128.0 177.1L131.0 177.7L134.0 178.3L137.0 178.9L140.0 179.5L143.0 180.1L146.0 180.7L149.0 181.3L152.0 181.9L155.0 182.5L158.0 183.1L161.0 183.8L164.0 184.4L167.0 185.0L170.0 185.6L173.0 186.3L176.0 186.9L179.0 187.5L182.0 188.1L185.0 188.7L188.0 189.3L191.0 189.8L194.0 190.4L197.0 190.9L200.0 191.4L203.0 191.9L206.0 192.3L209.0 192.7L212.0 193.1L215.0 193.5L218.0 193.9L221.0 194.2L224.0 194.6L227.0 194.9L230.0 195.2L233.0 195.4L236.0 195.7L239.0 195.9L242.0 196.2L245.0 196.4L248.0 196.6L251.0 196.8L254.0 197.0L257.0 197.2L260.0 197.4L263.0 197.6L266.0 197.9L269.0 198.1L272.0 198.4L275.0 198.7L278.0 199.0L281.0 199.3L284.0 199.7L287.0 200.0L290.0 200.4L293.0 200.8L296.0 201.2L299.0 201.5L302.0 201.9L305.0 202.3L308.0 202.6L311.0 203.0L314.0 203.3L317.0 203.7L320.0 204.0L323.0 204.4L326.0 204.7L329.0 205.1L332.0 205.6L335.0 206.0L338.0 206.6L341.0 207.2L344.0 207.8L347.0 208.6L350.0 209.4L353.0 210.4L356.0 211.4L359.0 212.5L362.0 213.6L365.0 214.8L368.0 216.1L371.0 217.3L374.0 218.6L377.0 219.9L380.0 221.1L383.0 222.3L386.0 223.5L389.0 224.7L392.0 225.7L395.0 226.7L398.0 227.6L401.0 228.5L404.0 229.3L407.0 230.0L410.0 230.7L413.0 231.3L416.0 231.9L419.0 232.5L422.0 233.0L425.0 233.5L428.0 234.0L431.0 234.5L434.0 235.0L437.0 235.4L440.0 235.9L443.0 236.3L446.0 236.7L449.0 237.2L452.0 237.6L455.0 238.0L458.0 238.5L461.0 238.9L464.0 239.3L467.0 239.7L470.0 240.2L473.0 240.6L476.0 241.0L479.0 241.4L482.0 241.9L485.0 242.3L488.0 242.7L491.0 243.1L494.0 243.5L497.0 243.9L500.0 244.3L503.0 244.8L506.0 245.1L509.0 245.5L512.0 245.9L515.0 246.3L518.0 246.7L521.0 247.1L524.0 247.4L527.0 247.7L530.0 248.0L533.0 248.3L536.0 248.6L539.0 248.8L542.0 248.9L545.0 249.0L548.0 249.1L551.0 249.1L554.0 249.0L557.0 248.9L560.0 248.7L563.0 248.4L566.0 248.0L569.0 247.6L572.0 247.1L575.0 246.5L578.0 245.9L581.0 245.3L584.0 244.6L587.0 243.9L590.0 243.2L593.0 242.4L596.0 241.7L599.0 240.9" stroke="#D95319"/>
<path d="M125.0 176.5L128.0 178.1L131.0 179.8L134.0 181.4L137.0 183.0L140.0 184.6L143.0 186.1L146.0 187.6L149.0 189.1L152.0 190.6L155.0 192.1L158.0 193.6L161.0 195.0L164.0 196.5L167.0 198.0L170.0 199.5L173.0 201.1L176.0 202.6L179.0 204.1L182.0 205.7L185.0 207.2L188.0 208.7L191.0 210.2L194.0 211.6L197.0 213.0L200.0 214.4L203.0 215.6L206.0 216.8L209.0 218.0L212.0 219.1L215.0 220.2L218.0 221.3L221.0 222.4L224.0 223.4L227.0 224.3L230.0 225.1L233.0 225.8L236.0 226.4L239.0 226.9L242.0 227.3L245.0 227.5L248.0 227.7L251.0 227.8L254.0 227.8L257.0 227.8L260.0 227.7L263.0 227.6L266.0 227.5L269.0 227.4L272.0 227.2L275.0 227.1L278.0 227.1L281.0 227.0L284.0 226.9L287.0 226.9L290.0 226.8L293.0 226.8L296.0 226.7L299.0 226.7L302.0 226.6L305.0 226.5L308.0 226.4L311.0 226.2L314.0 226.0L317.0 225.8L320.0 225.6L323.0 225.3L326.0 225.1L329.0 224.9L332.0 224.7L335.0 224.5L338.0 224.4L341.0 224.3L344.0 224.2L347.0 224.2L350.0 224.3L353.0 224.4L356.0 224.5L359.0 224.7L362.0 224.9L365.0 225.1L368.0 225.4L371.0 225.6L374.0 225.9L377.0 226.2L380.0 226.5L383.0 226.8L386.0 227.1L389.0 227.4L392.0 227.8L395.0 228.1L398.0 228.4L401.0 228.7L404.0 229.0L407.0 229.3L410.0 229.6L413.0 229.9L416.0 230.2L419.0 230.5L422.0 230.7L425.0 231.0L428.0 231.2L431.0 231.4L434.0 231.6L437.0 231.8L440.0 232.0L443.0 232.2L446.0 232.4L449.0 232.5L452.0 232.7L455.0 232.9L458.0 233.0L461.0 233.1L464.0 233.3L467.0 233.4L470.0 233.4L473.0 233.5L476.0 233.4L479.0 233.4L482.0 233.3L485.0 233.1L488.0 232.9L491.0 232.6L494.0 232.2L497.0 231.8L500.0 231.3L503.0 230.7L506.0 230.0L509.0 229.3L512.0 228.5L515.0 227.7L518.0 226.8L521.0 225.8L524.0 224.8L527.0 223.8L530.0 222.7L533.0 221.5L536.0 220.3L539.0 219.0L542.0 217.8L545.0 216.4L548.0 215.1L551.0 213.8L554.0 212.4L557.0 211.0L560.0 209.7L563.0 208.3L566.0 207.0L569.0 205.7L572.0 204.4L575.0 203.2L578.0 202.0L581.0 200.9L584.0 199.8L587.0 198.8L590.0 197.7L593.0 196.7L596.0 195.7L599.0 194.7" stroke="#0072BD"/>
<path d="M125.0 176.5L128.0 178.4L131.0 180.4L134.0 182.3L137.0 184.2L140.0 186.1L143.0 188.0L146.0 189.9L149.0 191.8L152.0 193.6L155.0 195.5L158.0 197.3L161.0 199.1L164.0 200.9L167.0 202.7L170.0 204.5L173.0 206.3L176.0 208.1L179.0 210.0L182.0 211.8L185.0 213.7L188.0 215.5L191.0 217.3L194.0 219.1L197.0 220.8L200.0 222.4L203.0 224.0L206.0 225.5L209.0 226.9L212.0 228.3L215.0 229.7L218.0 231.0L221.0 232.3L224.0 233.5L227.0 234.7L230.0 235.8L233.0 236.9L236.0 238.0L239.0 239.0L242.0 240.0L245.0 240.9L248.0 241.7L251.0 242.5L254.0 243.2L257.0 243.9L260.0 244.4L263.0 244.9L266.0 245.3L269.0 245.6L272.0 245.8L275.0 245.9L278.0 245.8L281.0 245.7L284.0 245.5L287.0 245.1L290.0 244.6L293.0 244.0L296.0 243.3L299.0 242.5L302.0 241.6L305.0 240.5L308.0 239.3L311.0 238.0L314.0 236.6L317.0 235.1L320.0 233.5L323.0 231.9L326.0 230.2L329.0 228.5L332.0 226.8L335.0 225.1L338.0 223.4L341.0 221.7L344.0 220.0L347.0 218.4L350.0 216.9L353.0 215.4L356.0 214.0L359.0 212.6L362.0 211.4L365.0 210.2L368.0 209.1L371.0 208.1L374.0 207.2L377.0 206.5L380.0 205.8L383.0 205.2L386.0 204.7L389.0 204.4L392.0 204.1L395.0 204.0L398.0 204.1L401.0 204.2L404.0 204.4L407.0 204.8L410.0 205.2L413.0 205.8L416.0 206.4L419.0 207.2L422.0 208.0L425.0 208.9L428.0 209.9L431.0 211.0L434.0 212.1L437.0 213.3L440.0 214.6L443.0 215.9L446.0 217.2L449.0 218.6L452.0 220.0L455.0 221.4L458.0 222.9L461.0 224.3L464.0 225.7L467.0 227.1L470.0 228.5L473.0 229.8L476.0 231.1L479.0 232.4L482.0 233.6L485.0 234.7L488.0 235.8L491.0 236.8L494.0 237.7L497.0 238.6L500.0 239.3L503.0 240.0L506.0 240.6L509.0 241.1L512.0 241.5L515.0 241.7L518.0 241.9L521.0 242.0L524.0 241.9L527.0 241.7L530.0 241.4L533.0 241.1L536.0 240.6L539.0 240.0L542.0 239.3L545.0 238.5L548.0 237.7L551.0 236.7L554.0 235.7L557.0 234.6L560.0 233.4L563.0 232.2L566.0 230.9L569.0 229.6L572.0 228.1L575.0 226.7L578.0 225.2L581.0 223.7L584.0 222.1L587.0 220.5L590.0 218.9L593.0 217.3L596.0 215.6L599.0 214.0" stroke="#7E2F8E"/>
<path d="M125.0 176.5L128.0 175.0L131.0 173.6L134.0 172.2L137.0 170.9L140.0 169.7L143.0 168.6L146.0 167.7L149.0 166.9L152.0 166.3L155.0 165.9L158.0 165.6L161.0 165.4L164.0 165.4L167.0 165.4L170.0 165.6L173.0 165.9L176.0 166.4L179.0 166.9L182.0 167.6L185.0 168.4L188.0 169.3L191.0 170.4L194.0 171.6L197.0 172.9L200.0 174.3L203.0 175.8L206.0 177.5L209.0 179.2L212.0 180.9L215.0 182.8L218.0 184.6L221.0 186.5L224.0 188.5L227.0 190.5L230.0 192.6L233.0 194.7L236.0 196.9L239.0 199.2L242.0 201.6L245.0 204.1L248.0 206.6L251.0 209.2L254.0 211.9L257.0 214.6L260.0 217.4L263.0 220.2L266.0 223.1L269.0 225.9L272.0 228.8L275.0 231.7L278.0 234.6L281.0 237.5L284.0 240.3L287.0 243.1L290.0 245.8L293.0 248.5L296.0 251.1L299.0 253.6L302.0 256.0L305.0 258.3L308.0 260.5L311.0 262.5L314.0 264.4L317.0 266.1L320.0 267.6L323.0 269.0L326.0 270.2L329.0 271.3L332.0 272.3L335.0 273.0L338.0 273.7L341.0 274.2L344.0 274.5L347.0 274.7L350.0 274.8L353.0 274.7L356.0 274.4L359.0 274.1L362.0 273.6L365.0 272.9L368.0 272.2L371.0 271.3L374.0 270.3L377.0 269.1L380.0 267.8L383.0 266.5L386.0 265.0L389.0 263.3L392.0 261.6L395.0 259.8L398.0 257.8L401.0 255.8L404.0 253.7L407.0 251.5L410.0 249.3L413.0 247.0L416.0 244.7L419.0 242.4L422.0 240.1L425.0 237.9L428.0 235.6L431.0 233.4L434.0 231.2L437.0 229.1L440.0 227.0L443.0 225.1L446.0 223.2L449.0 221.4L452.0 219.6L455.0 218.0L458.0 216.4L461.0 214.9L464.0 213.5L467.0 212.1L470.0 210.9L473.0 209.7L476.0 208.6L479.0 207.5L482.0 206.5L485.0 205.6L488.0 204.8L491.0 204.0L494.0 203.4L497.0 202.7L500.0 202.2L503.0 201.7L506.0 201.3L509.0 200.9L512.0 200.6L515.0 200.4L518.0 200.2L521.0 200.1L524.0 200.1L527.0 200.1L530.0 200.1L533.0 200.2L536.0 200.4L539.0 200.5L542.0 200.7L545.0 200.9L548.0 201.2L551.0 201.4L554.0 201.7L557.0 202.0L560.0 202.2L563.0 202.5L566.0 202.8L569.0 203.1L572.0 203.4L575.0 203.7L578.0 204.0L581.0 204.3L584.0 204.7L587.0 205.0L590.0 205.3L593.0 205.6L596.0 205.9L599.0 206.3" stroke="#4DBEEE"/>
<path d="M125.0 261.3L128.0 261.2L131.0 261.0L134.0 261.0L137.0 260.9L140.0 261.0L143.0 261.2L146.0 261.5L149.0 261.9L152.0 262.6L155.0 263.4L158.0 264.5L161.0 265.8L164.0 267.5L167.0 269.4L170.0 271.3L173.0 273.0L176.0 274.5L179.0 275.7L182.0 276.5L185.0 277.1L188.0 277.5L191.0 277.7L194.0 277.8L197.0 277.7L200.0 277.5L203.0 277.1L206.0 276.5L209.0 275.8L212.0 274.8L215.0 273.6L218.0 272.2L221.0 270.6L224.0 268.8L227.0 266.8L230.0 264.7L233.0 262.4L236.0 260.2L239.0 257.9L242.0 255.5L245.0 252.9L248.0 250.1L251.0 246.9L254.0 243.4L257.0 239.6L260.0 235.5L263.0 231.2L266.0 226.7L269.0 222.1L272.0 217.5L275.0 212.8L278.0 208.1L281.0 203.5L284.0 198.9L287.0 194.5L290.0 190.1L293.0 185.8L296.0 181.5L299.0 177.3L302.0 173.1L305.0 168.9L308.0 164.7L311.0 160.6L314.0 156.4L317.0 152.2L320.0 147.9L323.0 143.5L326.0 139.2L329.0 135.1L332.0 131.2L335.0 127.6L338.0 124.4L341.0 121.6L344.0 119.0L347.0 116.7L350.0 114.6L353.0 112.7L356.0 110.8L359.0 109.1L362.0 107.3L365.0 105.6L368.0 104.0L371.0 102.4L374.0 101.1L377.0 99.9L380.0 98.9L383.0 98.1L386.0 97.5L389.0 97.2L392.0 97.1L395.0 97.3L398.0 97.7L401.0 98.3L404.0 99.1L407.0 100.1L410.0 101.4L413.0 102.8L416.0 104.5L419.0 106.3L422.0 108.3L425.0 110.5L428.0 112.8L431.0 115.3L434.0 118.0L437.0 120.8L440.0 123.6L443.0 126.6L446.0 129.6L449.0 132.7L452.0 135.7L455.0 138.8L458.0 141.8L461.0 144.7L464.0 147.6L467.0 150.3L470.0 153.0L473.0 155.6L476.0 158.1L479.0 160.7L482.0 163.1L485.0 165.6L488.0 168.1L491.0 170.6L494.0 173.0L497.0 175.4L500.0 177.8L503.0 180.1L506.0 182.4L509.0 184.6L512.0 186.8L515.0 189.0L518.0 191.1L521.0 193.1L524.0 195.2L527.0 197.2L530.0 199.1L533.0 201.1L536.0 203.0L539.0 204.9L542.0 206.8L545.0 208.6L548.0 210.4L551.0 212.0L554.0 213.6L557.0 215.2L560.0 216.6L563.0 217.9L566.0 219.1L569.0 220.2L572.0 221.1L575.0 221.9L578.0 222.5L581.0 222.9L584.0 223.2L587.0 223.2L590.0 223.1L593.0 222.8L596.0 222.5L599.0 222.1" stroke="#EDB120"/>
<path d="M125.0 262.5L128.0 262.9L131.0 263.3L134.0 263.7L137.0 264.0L140.0 264.4L143.0 264.6L146.0 264.8L149.0 264.9L152.0 264.9L155.0 264.9L158.0 264.7L161.0 264.5L164.0 264.1L167.0 263.7L170.0 263.2L173.0 262.6L176.0 262.0L179.0 261.2L182.0 260.4L185.0 259.6L188.0 258.6L191.0 257.6L194.0 256.6L197.0 255.6L200.0 254.5L203.0 253.3L206.0 252.1L209.0 250.8L212.0 249.4L215.0 247.9L218.0 246.2L221.0 244.4L224.0 242.3L227.0 240.0L230.0 237.6L233.0 234.9L236.0 232.0L239.0 228.9L242.0 225.5L245.0 222.0L248.0 218.2L251.0 214.3L254.0 210.3L257.0 206.4L260.0 202.4L263.0 198.7L266.0 195.2L269.0 191.9L272.0 189.1L275.0 186.7L278.0 184.5L281.0 182.7L284.0 181.0L287.0 179.4L290.0 177.8L293.0 176.2L296.0 174.4L299.0 172.4L302.0 170.4L305.0 168.2L308.0 166.0L311.0 163.9L314.0 161.7L317.0 159.7L320.0 157.8L323.0 156.1L326.0 154.6L329.0 153.2L332.0 152.0L335.0 150.8L338.0 149.8L341.0 148.9L344.0 148.0L347.0 147.2L350.0 146.4L353.0 145.8L356.0 145.2L359.0 144.7L362.0 144.4L365.0 144.3L368.0 144.6L371.0 145.5L374.0 147.2L377.0 149.4L380.0 152.0L383.0 154.7L386.0 157.2L389.0 159.5L392.0 161.6L395.0 163.5L398.0 165.2L401.0 166.9L404.0 168.6L407.0 170.3L410.0 172.0L413.0 173.8L416.0 175.7L419.0 177.7L422.0 179.8L425.0 182.0L428.0 184.3L431.0 186.7L434.0 189.2L437.0 191.7L440.0 194.3L443.0 197.0L446.0 199.8L449.0 202.6L452.0 205.5L455.0 208.4L458.0 211.2L461.0 214.2L464.0 217.1L467.0 219.9L470.0 222.8L473.0 225.6L476.0 228.4L479.0 231.1L482.0 233.7L485.0 236.2L488.0 238.6L491.0 240.9L494.0 243.0L497.0 245.0L500.0 246.8L503.0 248.3L506.0 249.7L509.0 250.8L512.0 251.8L515.0 252.4L518.0 252.9L521.0 253.2L524.0 253.2L527.0 253.1L530.0 252.7L533.0 252.1L536.0 251.3L539.0 250.3L542.0 249.1L545.0 247.7L548.0 246.2L551.0 244.4L554.0 242.5L557.0 240.4L560.0 238.2L563.0 236.0L566.0 233.6L569.0 231.3L572.0 228.9L575.0 226.6L578.0 224.2L581.0 222.0L584.0 219.8L587.0 217.8L590.0 215.8L593.0 214.0L596.0 212.2L599.0 210.5" stroke="#7E2F8E"/>
<path d="M125.0 302.1L128.0 301.9L131.0 301.7L134.0 301.5L137.0 301.2L140.0 300.8L143.0 300.4L146.0 299.8L149.0 299.1L152.0 298.2L155.0 297.2L158.0 296.1L161.0 294.8L164.0 293.4L167.0 291.9L170.0 290.2L173.0 288.4L176.0 286.5L179.0 284.6L182.0 282.5L185.0 280.4L188.0 278.2L191.0 276.1L194.0 273.9L197.0 271.7L200.0 269.6L203.0 267.5L206.0 265.4L209.0 263.4L212.0 261.5L215.0 259.6L218.0 257.7L221.0 256.0L224.0 254.3L227.0 252.7L230.0 251.2L233.0 249.7L236.0 248.3L239.0 247.0L242.0 245.7L245.0 244.4L248.0 243.1L251.0 241.9L254.0 240.6L257.0 239.3L260.0 238.0L263.0 236.6L266.0 235.2L269.0 233.8L272.0 232.3L275.0 230.7L278.0 229.2L281.0 227.6L284.0 226.1L287.0 224.5L290.0 223.0L293.0 221.4L296.0 219.8L299.0 218.3L302.0 216.8L305.0 215.4L308.0 213.9L311.0 212.5L314.0 211.2L317.0 209.9L320.0 208.6L323.0 207.2L326.0 205.9L329.0 204.4L332.0 203.0L335.0 201.4L338.0 199.7L341.0 197.9L344.0 195.9L347.0 193.8L350.0 191.6L353.0 189.1L356.0 186.4L359.0 183.4L362.0 180.2L365.0 176.9L368.0 173.3L371.0 169.7L374.0 166.0L377.0 162.4L380.0 158.9L383.0 155.6L386.0 152.5L389.0 149.7L392.0 147.2L395.0 145.0L398.0 143.0L401.0 141.3L404.0 139.7L407.0 138.3L410.0 137.0L413.0 135.9L416.0 135.0L419.0 134.3L422.0 133.7L425.0 133.4L428.0 133.2L431.0 133.2L434.0 133.4L437.0 133.8L440.0 134.4L443.0 135.3L446.0 136.4L449.0 137.9L452.0 139.6L455.0 141.6L458.0 143.9L461.0 146.4L464.0 149.2L467.0 152.0L470.0 154.9L473.0 157.7L476.0 160.6L479.0 163.6L482.0 166.8L485.0 170.3L488.0 173.9L491.0 177.6L494.0 181.3L497.0 185.1L500.0 188.8L503.0 192.3L506.0 195.8L509.0 199.1L512.0 202.3L515.0 205.5L518.0 208.9L521.0 212.4L524.0 216.1L527.0 219.9L530.0 223.9L533.0 228.0L536.0 232.2L539.0 236.4L542.0 240.4L545.0 244.2L548.0 247.8L551.0 251.2L554.0 254.3L557.0 257.2L560.0 259.8L563.0 262.3L566.0 264.6L569.0 266.7L572.0 268.7L575.0 270.7L578.0 272.4L581.0 274.1L584.0 275.5L587.0 276.9L590.0 278.0L593.0 279.1L596.0 280.1L599.0 281.0" stroke="#77AC30"/>
<path d="M125.0 176.3L128.0 175.3L131.0 174.3L134.0 173.3L137.0 172.2L140.0 171.0L143.0 169.7L146.0 168.3L149.0 166.7L152.0 164.9L155.0 163.0L158.0 161.0L161.0 158.8L164.0 156.7L167.0 154.4L170.0 152.2L173.0 150.0L176.0 147.9L179.0 145.8L182.0 143.7L185.0 141.7L188.0 139.8L191.0 137.9L194.0 136.1L197.0 134.3L200.0 132.5L203.0 130.8L206.0 129.2L209.0 127.6L212.0 126.1L215.0 124.6L218.0 123.3L221.0 122.0L224.0 120.9L227.0 119.9L230.0 119.0L233.0 118.2L236.0 117.6L239.0 117.1L242.0 116.8L245.0 116.6L248.0 116.6L251.0 116.8L254.0 117.1L257.0 117.7L260.0 118.4L263.0 119.3L266.0 120.4L269.0 121.7L272.0 123.2L275.0 124.9L278.0 126.9L281.0 128.9L284.0 131.2L287.0 133.6L290.0 136.1L293.0 138.8L296.0 141.6L299.0 144.4L302.0 147.4L305.0 150.5L308.0 153.7L311.0 157.1L314.0 160.6L317.0 164.3L320.0 168.2L323.0 172.2L326.0 176.5L329.0 180.8L332.0 185.3L335.0 190.0L338.0 194.7L341.0 199.5L344.0 204.3L347.0 209.2L350.0 214.3L353.0 219.8L356.0 225.7L359.0 231.9L362.0 238.1L365.0 244.1L368.0 249.6L371.0 254.4L374.0 258.8L377.0 262.6L380.0 266.0L383.0 269.1L386.0 271.8L389.0 274.2L392.0 276.4L395.0 278.3L398.0 280.0L401.0 281.5L404.0 282.6L407.0 283.6L410.0 284.3L413.0 284.8L416.0 285.1L419.0 285.1L422.0 284.8L425.0 284.3L428.0 283.6L431.0 282.7L434.0 281.6L437.0 280.3L440.0 278.8L443.0 277.2L446.0 275.4L449.0 273.5L452.0 271.4L455.0 269.2L458.0 266.9L461.0 264.3L464.0 261.5L467.0 258.6L470.0 255.5L473.0 252.4L476.0 249.3L479.0 246.3L482.0 243.5L485.0 240.9L488.0 238.4L491.0 236.2L494.0 234.3L497.0 232.6L500.0 231.1L503.0 229.8L506.0 228.7L509.0 227.9L512.0 227.1L515.0 226.6L518.0 226.2L521.0 226.0L524.0 225.9L527.0 226.1L530.0 226.4L533.0 226.8L536.0 227.5L539.0 228.2L542.0 229.1L545.0 230.1L548.0 231.2L551.0 232.4L554.0 233.7L557.0 235.1L560.0 236.6L563.0 238.3L566.0 240.0L569.0 241.7L572.0 243.4L575.0 245.1L578.0 246.8L581.0 248.5L584.0 250.1L587.0 251.7L590.0 253.3L593.0 254.9L596.0 256.4L599.0 258.0" stroke="#4DBEEE"/>
<path d="M125.0 242.8L128.0 244.0L131.0 245.2L134.0 246.4L137.0 247.6L140.0 248.8L143.0 249.9L146.0 251.0L149.0 252.1L152.0 253.2L155.0 254.2L158.0 255.1L161.0 256.0L164.0 256.9L167.0 257.6L170.0 258.4L173.0 259.0L176.0 259.5L179.0 260.0L182.0 260.4L185.0 260.6L188.0 260.7L191.0 260.7L194.0 260.6L197.0 260.3L200.0 259.8L203.0 259.2L206.0 258.5L209.0 257.5L212.0 256.4L215.0 255.1L218.0 253.6L221.0 251.9L224.0 250.1L227.0 248.1L230.0 245.9L233.0 243.6L236.0 241.2L239.0 238.5L242.0 235.8L245.0 232.8L248.0 229.8L251.0 226.6L254.0 223.3L257.0 219.9L260.0 216.6L263.0 213.2L266.0 209.8L269.0 206.5L272.0 203.3L275.0 200.3L278.0 197.3L281.0 194.6L284.0 192.1L287.0 189.9L290.0 187.9L293.0 186.1L296.0 184.6L299.0 183.3L302.0 182.2L305.0 181.2L308.0 180.4L311.0 179.8L314.0 179.3L317.0 178.8L320.0 178.5L323.0 178.2L326.0 178.0L329.0 178.0L332.0 178.0L335.0 178.3L338.0 178.6L341.0 179.2L344.0 179.9L347.0 180.9L350.0 182.1L353.0 183.6L356.0 185.3L359.0 187.3L362.0 189.7L365.0 192.2L368.0 195.0L371.0 198.0L374.0 201.2L377.0 204.5L380.0 207.8L383.0 211.3L386.0 214.7L389.0 218.2L392.0 221.6L395.0 225.0L398.0 228.3L401.0 231.4L404.0 234.5L407.0 237.6L410.0 240.6L413.0 243.6L416.0 246.6L419.0 249.6L422.0 252.6L425.0 255.7L428.0 258.8L431.0 261.8L434.0 264.6L437.0 267.3L440.0 269.7L443.0 271.9L446.0 273.9L449.0 275.7L452.0 277.2L455.0 278.6L458.0 279.7L461.0 280.7L464.0 281.6L467.0 282.4L470.0 283.4L473.0 284.4L476.0 285.1L479.0 285.4L482.0 284.9L485.0 283.8L488.0 282.1L491.0 280.2L494.0 278.1L497.0 276.1L500.0 274.2L503.0 272.2L506.0 270.1L509.0 267.8L512.0 265.2L515.0 262.4L518.0 259.3L521.0 256.1L524.0 252.8L527.0 249.4L530.0 246.0L533.0 242.6L536.0 239.2L539.0 235.9L542.0 232.5L545.0 229.1L548.0 225.6L551.0 222.1L554.0 218.6L557.0 215.3L560.0 212.1L563.0 209.1L566.0 206.2L569.0 203.4L572.0 200.8L575.0 198.2L578.0 195.8L581.0 193.5L584.0 191.2L587.0 189.0L590.0 186.8L593.0 184.7L596.0 182.6L599.0 180.5" stroke="#A2142F"/>
<path d="M125.0 120.3L128.0 120.9L131.0 121.4L134.0 122.0L137.0 122.7L140.0 123.4L143.0 124.3L146.0 125.2L149.0 126.3L152.0 127.5L155.0 128.9L158.0 130.4L161.0 132.0L164.0 133.7L167.0 135.5L170.0 137.4L173.0 139.3L176.0 141.4L179.0 143.4L182.0 145.6L185.0 147.8L188.0 150.0L191.0 152.3L194.0 154.7L197.0 157.2L200.0 159.7L203.0 162.3L206.0 164.9L209.0 167.5L212.0 170.1L215.0 172.7L218.0 175.2L221.0 177.6L224.0 179.9L227.0 182.1L230.0 184.3L233.0 186.3L236.0 188.4L239.0 190.4L242.0 192.5L245.0 194.6L248.0 196.7L251.0 199.0L254.0 201.2L257.0 203.5L260.0 205.7L263.0 207.9L266.0 210.0L269.0 212.0L272.0 214.0L275.0 215.9L278.0 217.7L281.0 219.4L284.0 221.1L287.0 222.7L290.0 224.3L293.0 225.8L296.0 227.2L299.0 228.6L302.0 229.9L305.0 231.1L308.0 232.3L311.0 233.5L314.0 234.6L317.0 235.6L320.0 236.6L323.0 237.6L326.0 238.5L329.0 239.3L332.0 240.1L335.0 240.8L338.0 241.5L341.0 242.2L344.0 242.8L347.0 243.4L350.0 243.9L353.0 244.4L356.0 244.8L359.0 245.2L362.0 245.5L365.0 245.8L368.0 246.0L371.0 246.2L374.0 246.4L377.0 246.5L380.0 246.5L383.0 246.5L386.0 246.5L389.0 246.4L392.0 246.2L395.0 246.0L398.0 245.8L401.0 245.5L404.0 245.2L407.0 244.9L410.0 244.6L413.0 244.3L416.0 244.1L419.0 244.0L422.0 243.9L425.0 244.0L428.0 244.2L431.0 244.4L434.0 244.9L437.0 245.5L440.0 246.3L443.0 247.3L446.0 248.4L449.0 249.5L452.0 250.6L455.0 251.6L458.0 252.4L461.0 253.0L464.0 253.5L467.0 253.7L470.0 253.8L473.0 253.8L476.0 253.6L479.0 253.3L482.0 252.9L485.0 252.4L488.0 251.8L491.0 251.2L494.0 250.4L497.0 249.6L500.0 248.7L503.0 247.8L506.0 246.8L509.0 245.7L512.0 244.5L515.0 243.2L518.0 241.7L521.0 240.1L524.0 238.3L527.0 236.5L530.0 234.6L533.0 232.8L536.0 230.9L539.0 229.1L542.0 227.4L545.0 225.6L548.0 223.7L551.0 221.8L554.0 219.9L557.0 217.9L560.0 215.9L563.0 213.8L566.0 211.8L569.0 209.8L572.0 207.9L575.0 206.0L578.0 204.2L581.0 202.5L584.0 201.0L587.0 199.6L590.0 198.3L593.0 197.2L596.0 196.2L599.0 195.2" stroke="#A2142F"/>
<path d="M125.0 214.3L128.0 213.8L131.0 213.3L134.0 212.8L137.0 212.4L140.0 211.9L143.0 211.5L146.0 211.2L149.0 210.9L152.0 210.6L155.0 210.5L158.0 210.3L161.0 210.3L164.0 210.4L167.0 210.5L170.0 210.7L173.0 211.0L176.0 211.5L179.0 212.0L182.0 212.6L185.0 213.4L188.0 214.2L191.0 215.2L194.0 216.3L197.0 217.5L200.0 218.9L203.0 220.3L206.0 221.9L209.0 223.5L212.0 225.2L215.0 226.9L218.0 228.7L221.0 230.5L224.0 232.2L227.0 234.0L230.0 235.7L233.0 237.4L236.0 239.0L239.0 240.6L242.0 242.1L245.0 243.5L248.0 245.0L251.0 246.4L254.0 247.7L257.0 249.1L260.0 250.5L263.0 251.8L266.0 253.2L269.0 254.5L272.0 255.9L275.0 257.3L278.0 258.8L281.0 260.2L284.0 261.7L287.0 263.2L290.0 264.7L293.0 266.3L296.0 267.9L299.0 269.5L302.0 271.1L305.0 272.7L308.0 274.3L311.0 276.0L314.0 277.6L317.0 279.1L320.0 280.6L323.0 282.1L326.0 283.4L329.0 284.7L332.0 286.0L335.0 287.2L338.0 288.3L341.0 289.5L344.0 290.6L347.0 291.8L350.0 293.0L353.0 294.1L356.0 295.2L359.0 296.2L362.0 297.1L365.0 297.8L368.0 298.4L371.0 298.9L374.0 299.2L377.0 299.3L380.0 299.3L383.0 299.1L386.0 298.8L389.0 298.3L392.0 297.6L395.0 296.9L398.0 296.1L401.0 295.3L404.0 294.4L407.0 293.5L410.0 292.4L413.0 291.3L416.0 290.2L419.0 289.1L422.0 288.1L425.0 287.3L428.0 286.6L431.0 286.1L434.0 286.0L437.0 286.1L440.0 286.5L443.0 287.0L446.0 287.7L449.0 288.4L452.0 289.0L455.0 289.5L458.0 289.9L461.0 290.1L464.0 290.0L467.0 289.5L470.0 288.6L473.0 287.4L476.0 285.8L479.0 283.9L482.0 281.6L485.0 279.0L488.0 276.2L491.0 273.4L494.0 270.5L497.0 267.8L500.0 265.1L503.0 262.5L506.0 259.8L509.0 257.1L512.0 254.1L515.0 250.9L518.0 247.5L521.0 243.7L524.0 239.7L527.0 235.5L530.0 231.6L533.0 228.1L536.0 224.8L539.0 221.3L542.0 217.1L545.0 212.1L548.0 206.7L551.0 201.1L554.0 195.8L557.0 190.9L560.0 186.7L563.0 183.5L566.0 181.1L569.0 179.3L572.0 177.9L575.0 176.7L578.0 175.4L581.0 174.0L584.0 172.4L587.0 170.5L590.0 168.4L593.0 166.3L596.0 164.0L599.0 161.7" stroke="#77AC30"/>
<path d="M125.0 244.3L128.0 244.3L131.0 244.3L134.0 244.3L137.0 244.3L140.0 244.2L143.0 244.1L146.0 244.0L149.0 243.8L152.0 243.6L155.0 243.3L158.0 243.0L161.0 242.7L164.0 242.3L167.0 241.9L170.0 241.4L173.0 241.0L176.0 240.4L179.0 239.9L182.0 239.3L185.0 238.7L188.0 238.1L191.0 237.5L194.0 236.8L197.0 236.1L200.0 235.3L203.0 234.5L206.0 233.7L209.0 232.9L212.0 232.0L215.0 231.2L218.0 230.2L221.0 229.3L224.0 228.3L227.0 227.3L230.0 226.3L233.0 225.2L236.0 224.1L239.0 223.0L242.0 221.9L245.0 220.7L248.0 219.5L251.0 218.3L254.0 217.0L257.0 215.8L260.0 214.5L263.0 213.2L266.0 211.8L269.0 210.5L272.0 209.1L275.0 207.7L278.0 206.3L281.0 204.9L284.0 203.5L287.0 202.2L290.0 200.8L293.0 199.4L296.0 198.1L299.0 196.8L302.0 195.5L305.0 194.2L308.0 193.0L311.0 191.8L314.0 190.7L317.0 189.6L320.0 188.6L323.0 187.7L326.0 186.8L329.0 186.0L332.0 185.3L335.0 184.7L338.0 184.2L341.0 183.8L344.0 183.5L347.0 183.3L350.0 183.2L353.0 183.2L356.0 183.4L359.0 183.7L362.0 184.0L365.0 184.5L368.0 185.2L371.0 185.9L374.0 186.8L377.0 187.8L380.0 188.9L383.0 190.2L386.0 191.6L389.0 193.0L392.0 194.6L395.0 196.3L398.0 198.1L401.0 199.9L404.0 201.8L407.0 203.7L410.0 205.6L413.0 207.5L416.0 209.4L419.0 211.4L422.0 213.2L425.0 215.1L428.0 216.9L431.0 218.7L434.0 220.6L437.0 222.4L440.0 224.3L443.0 226.3L446.0 228.3L449.0 230.4L452.0 232.6L455.0 234.8L458.0 237.2L461.0 239.7L464.0 242.3L467.0 244.9L470.0 247.5L473.0 250.1L476.0 252.6L479.0 255.0L482.0 257.3L485.0 259.3L488.0 260.9L491.0 262.3L494.0 263.4L497.0 264.5L500.0 265.5L503.0 266.8L506.0 268.2L509.0 269.8L512.0 271.4L515.0 273.0L518.0 274.4L521.0 275.6L524.0 276.6L527.0 277.5L530.0 278.2L533.0 278.8L536.0 279.4L539.0 279.9L542.0 280.3L545.0 280.6L548.0 280.7L551.0 280.6L554.0 280.4L557.0 279.9L560.0 279.3L563.0 278.4L566.0 277.3L569.0 276.0L572.0 274.5L575.0 273.0L578.0 271.3L581.0 269.7L584.0 268.0L587.0 266.4L590.0 264.8L593.0 263.2L596.0 261.6L599.0 260.0" stroke="#4DBEEE"/>
<path d="M125.0 240.4L128.0 238.6L131.0 236.8L134.0 235.0L137.0 233.2L140.0 231.4L143.0 229.6L146.0 227.9L149.0 226.3L152.0 224.7L155.0 223.1L158.0 221.6L161.0 220.1L164.0 218.7L167.0 217.4L170.0 216.2L173.0 215.0L176.0 213.9L179.0 212.9L182.0 211.9L185.0 211.1L188.0 210.3L191.0 209.6L194.0 209.0L197.0 208.5L200.0 208.1L203.0 207.8L206.0 207.6L209.0 207.4L212.0 207.2L215.0 207.1L218.0 207.1L221.0 207.0L224.0 206.9L227.0 206.8L230.0 206.7L233.0 206.5L236.0 206.2L239.0 205.9L242.0 205.5L245.0 205.0L248.0 204.4L251.0 203.6L254.0 202.9L257.0 202.0L260.0 201.1L263.0 200.1L266.0 199.1L269.0 198.0L272.0 196.9L275.0 195.8L278.0 194.7L281.0 193.5L284.0 192.4L287.0 191.3L290.0 190.2L293.0 189.1L296.0 188.1L299.0 187.2L302.0 186.3L305.0 185.5L308.0 184.8L311.0 184.2L314.0 183.8L317.0 183.5L320.0 183.3L323.0 183.3L326.0 183.4L329.0 183.8L332.0 184.3L335.0 185.1L338.0 186.2L341.0 187.5L344.0 189.0L347.0 190.9L350.0 193.1L353.0 195.6L356.0 198.4L359.0 201.7L362.0 205.3L365.0 209.3L368.0 213.6L371.0 218.2L374.0 223.0L377.0 228.0L380.0 233.0L383.0 238.0L386.0 243.0L389.0 247.9L392.0 252.6L395.0 257.0L398.0 261.1L401.0 264.8L404.0 268.0L407.0 270.7L410.0 273.0L413.0 274.7L416.0 276.1L419.0 277.0L422.0 277.7L425.0 278.1L428.0 278.3L431.0 278.3L434.0 278.1L437.0 277.9L440.0 277.6L443.0 277.3L446.0 277.1L449.0 276.8L452.0 276.6L455.0 276.3L458.0 276.1L461.0 275.9L464.0 275.7L467.0 275.5L470.0 275.3L473.0 275.1L476.0 274.9L479.0 274.8L482.0 274.6L485.0 274.4L488.0 274.3L491.0 274.1L494.0 273.8L497.0 273.6L500.0 273.3L503.0 273.0L506.0 272.6L509.0 272.1L512.0 271.7L515.0 271.1L518.0 270.4L521.0 269.7L524.0 268.8L527.0 267.9L530.0 266.8L533.0 265.6L536.0 264.3L539.0 262.9L542.0 261.4L545.0 259.8L548.0 258.2L551.0 256.4L554.0 254.6L557.0 252.8L560.0 251.0L563.0 249.2L566.0 247.4L569.0 245.8L572.0 244.2L575.0 242.7L578.0 241.2L581.0 239.9L584.0 238.7L587.0 237.6L590.0 236.5L593.0 235.5L596.0 234.5L599.0 233.5" stroke="#EDB120"/>
<path d="M125.0 225.5L128.0 226.2L131.0 226.9L134.0 227.7L137.0 228.4L140.0 229.2L143.0 229.9L146.0 230.7L149.0 231.5L152.0 232.4L155.0 233.2L158.0 234.1L161.0 235.0L164.0 236.0L167.0 237.0L170.0 238.0L173.0 239.1L176.0 240.2L179.0 241.3L182.0 242.4L185.0 243.5L188.0 244.6L191.0 245.7L194.0 246.8L197.0 247.9L200.0 248.9L203.0 249.9L206.0 250.9L209.0 251.8L212.0 252.6L215.0 253.4L218.0 254.2L221.0 254.8L224.0 255.4L227.0 255.9L230.0 256.3L233.0 256.6L236.0 256.8L239.0 257.0L242.0 256.9L245.0 256.8L248.0 256.6L251.0 256.2L254.0 255.7L257.0 255.1L260.0 254.3L263.0 253.4L266.0 252.3L269.0 251.1L272.0 249.8L275.0 248.3L278.0 246.7L281.0 245.0L284.0 243.1L287.0 241.0L290.0 238.9L293.0 236.5L296.0 234.1L299.0 231.5L302.0 228.7L305.0 225.9L308.0 223.0L311.0 220.1L314.0 217.2L317.0 214.2L320.0 211.3L323.0 208.4L326.0 205.6L329.0 202.8L332.0 200.2L335.0 197.7L338.0 195.4L341.0 193.2L344.0 191.1L347.0 189.2L350.0 187.5L353.0 185.9L356.0 184.4L359.0 183.1L362.0 181.9L365.0 180.9L368.0 180.0L371.0 179.3L374.0 178.7L377.0 178.3L380.0 178.0L383.0 177.8L386.0 177.8L389.0 178.0L392.0 178.2L395.0 178.7L398.0 179.2L401.0 179.9L404.0 180.7L407.0 181.6L410.0 182.7L413.0 183.9L416.0 185.3L419.0 186.7L422.0 188.3L425.0 190.0L428.0 191.8L431.0 193.8L434.0 195.8L437.0 198.0L440.0 200.4L443.0 202.9L446.0 205.5L449.0 208.3L452.0 211.3L455.0 214.4L458.0 217.6L461.0 221.0L464.0 224.3L467.0 227.7L470.0 230.9L473.0 233.9L476.0 236.7L479.0 239.4L482.0 242.0L485.0 244.6L488.0 247.2L491.0 249.8L494.0 252.4L497.0 254.9L500.0 257.1L503.0 259.0L506.0 260.6L509.0 261.9L512.0 263.0L515.0 264.0L518.0 264.9L521.0 265.9L524.0 266.8L527.0 267.8L530.0 268.7L533.0 269.6L536.0 270.3L539.0 271.0L542.0 271.6L545.0 272.2L548.0 272.7L551.0 273.3L554.0 273.8L557.0 274.4L560.0 275.0L563.0 275.6L566.0 276.2L569.0 276.8L572.0 277.4L575.0 278.0L578.0 278.7L581.0 279.2L584.0 279.8L587.0 280.3L590.0 280.8L593.0 281.3L596.0 281.8L599.0 282.3" stroke="#77AC30"/>
<path d="M125.0 221.1L128.0 221.1L131.0 221.1L134.0 221.1L137.0 221.2L140.0 221.2L143.0 221.2L146.0 221.1L149.0 221.1L152.0 221.1L155.0 221.0L158.0 220.9L161.0 220.8L164.0 220.7L167.0 220.5L170.0 220.3L173.0 220.1L176.0 219.9L179.0 219.6L182.0 219.4L185.0 219.2L188.0 218.9L191.0 218.7L194.0 218.5L197.0 218.3L200.0 218.2L203.0 218.1L206.0 218.0L209.0 217.9L212.0 217.9L215.0 217.9L218.0 218.0L221.0 218.0L224.0 218.1L227.0 218.3L230.0 218.4L233.0 218.6L236.0 218.7L239.0 218.9L242.0 219.1L245.0 219.3L248.0 219.5L251.0 219.7L254.0 219.9L257.0 220.1L260.0 220.4L263.0 220.8L266.0 221.1L269.0 221.6L272.0 222.1L275.0 222.6L278.0 223.3L281.0 224.0L284.0 224.8L287.0 225.7L290.0 226.6L293.0 227.7L296.0 228.8L299.0 230.0L302.0 231.3L305.0 232.7L308.0 234.1L311.0 235.7L314.0 237.3L317.0 239.0L320.0 240.8L323.0 242.7L326.0 244.6L329.0 246.7L332.0 248.8L335.0 250.9L338.0 253.0L341.0 255.2L344.0 257.3L347.0 259.4L350.0 261.4L353.0 263.3L356.0 265.1L359.0 266.7L362.0 268.3L365.0 269.6L368.0 270.8L371.0 271.7L374.0 272.5L377.0 273.1L380.0 273.5L383.0 273.8L386.0 273.9L389.0 273.9L392.0 273.7L395.0 273.4L398.0 273.0L401.0 272.6L404.0 272.0L407.0 271.3L410.0 270.6L413.0 269.8L416.0 268.8L419.0 267.8L422.0 266.7L425.0 265.4L428.0 264.1L431.0 262.6L434.0 261.0L437.0 259.2L440.0 257.3L443.0 255.3L446.0 253.1L449.0 250.9L452.0 248.8L455.0 246.7L458.0 244.8L461.0 243.0L464.0 241.4L467.0 240.0L470.0 238.9L473.0 238.0L476.0 237.4L479.0 237.0L482.0 236.8L485.0 236.8L488.0 237.0L491.0 237.2L494.0 237.6L497.0 238.3L500.0 239.1L503.0 240.2L506.0 241.5L509.0 243.0L512.0 244.6L515.0 246.2L518.0 247.8L521.0 249.3L524.0 250.8L527.0 252.2L530.0 253.7L533.0 255.2L536.0 256.9L539.0 258.7L542.0 260.5L545.0 262.4L548.0 264.1L551.0 265.8L554.0 267.4L557.0 268.9L560.0 270.3L563.0 271.8L566.0 273.4L569.0 275.1L572.0 276.7L575.0 278.0L578.0 278.9L581.0 279.2L584.0 278.8L587.0 277.7L590.0 276.1L593.0 274.2L596.0 272.0L599.0 269.7" stroke="#7E2F8E"/>
</g>
<g clip-path="url(#cr)" fill="none" stroke-width="2.2" stroke-linejoin="round" stroke-linecap="butt">
<path d="M762.0 144.9L764.1 137.4L766.3 139.1L768.4 149.7L770.5 168.2L772.7 193.0L774.8 222.0L777.0 252.3L779.1 280.9L781.2 305.0L783.4 321.9L785.5 329.4L787.6 326.5L789.8 313.0L791.9 289.7L794.1 258.6L796.2 222.6L798.3 185.0L800.5 149.7L802.6 120.2L804.8 99.7L806.9 90.4L809.0 93.4L811.2 108.2L813.3 133.5L815.4 166.6L817.6 204.5L819.7 243.5L821.9 279.6L824.0 309.2L826.1 329.5L828.3 338.3L830.4 334.8L832.5 319.3L834.7 293.2L836.8 259.1L839.0 220.4L841.1 180.7L843.2 143.9L845.4 113.7L847.5 93.0L849.6 83.8L851.8 87.1L853.9 102.5L856.0 128.6L858.2 163.0L860.3 202.2L862.5 242.5L864.6 279.9L866.7 310.7L868.9 331.9L871.0 341.1L873.1 337.5L875.3 321.2L877.4 293.7L879.6 257.5L881.7 215.9L883.8 172.9L886.0 132.8L888.1 99.5L890.2 76.4L892.4 65.9L894.5 69.2L896.7 86.3L898.8 115.4L900.9 154.1L903.1 198.5L905.2 244.3L907.4 287.0L909.5 322.3L911.6 346.5L913.8 357.1L915.9 352.8L918.0 334.1L920.2 302.7L922.3 261.6L924.5 214.7L926.6 166.7L928.7 122.3L930.9 85.9L933.0 61.1L935.1 50.5L937.3 55.1L939.4 74.6L941.5 107.0L943.7 149.0L945.8 196.4L948.0 244.6L950.1 288.7L952.2 324.6L954.4 348.9L956.5 359.2L958.7 354.7L960.8 336.2L962.9 305.5L965.1 265.8L967.2 221.0L969.3 175.7L971.5 134.2L973.6 100.5L975.8 77.7L977.9 68.0L980.0 72.1L982.2 89.8L984.3 119.3L986.4 157.8L988.6 201.5L990.7 246.3L992.9 287.7L995.0 321.8L997.1 345.0L999.3 355.0L1001.4 350.7L1003.5 332.5L1005.7 302.0L1007.8 261.9L1010.0 215.8L1012.1 168.3L1014.2 123.9L1016.4 87.2L1018.5 62.0L1020.6 51.1L1022.8 55.9L1024.9 76.0L1027.0 109.7L1029.2 154.0L1031.3 204.4L1033.5 256.1L1035.6 304.0L1037.7 343.2L1039.9 369.9L1042.0 381.4L1044.2 376.6L1046.3 356.2L1048.4 322.6L1050.6 279.1L1052.7 230.4L1054.8 181.3L1057.0 136.7L1059.1 100.9L1061.2 77.3L1063.4 68.0L1065.5 73.7L1067.7 93.9L1069.8 126.1L1071.9 167.0L1074.1 212.4L1076.2 257.8L1078.3 298.9L1080.5 331.9L1082.6 354.0L1084.8 363.4L1086.9 359.4L1089.0 342.7L1091.2 315.2L1093.3 279.8L1095.5 240.1L1097.6 200.0L1099.7 163.3L1101.9 133.6L1104.0 113.4L1106.1 104.8L1108.3 108.7L1110.4 124.8L1112.6 151.7L1114.7 186.7L1116.8 226.6L1119.0 267.5L1121.1 305.2L1123.2 336.2L1125.4 357.4L1127.5 366.6L1129.7 362.8L1131.8 346.5L1133.9 319.0L1136.1 283.2L1138.2 242.4L1140.3 200.7L1142.5 162.2L1144.6 130.6L1146.8 109.1L1148.9 99.9L1151.0 103.9L1153.2 120.6L1155.3 148.5L1157.4 184.9L1159.6 226.2L1161.7 268.3L1163.8 307.2L1166.0 339.1L1168.1 360.8L1170.3 370.3L1172.4 366.6L1174.5 350.2L1176.7 322.6L1178.8 286.6L1181.0 245.6L1183.1 203.8L1185.2 165.1L1187.4 133.5L1189.5 112.0L1191.6 103.0L1193.8 107.3L1195.9 124.6L1198.1 153.2L1200.2 190.5L1202.3 232.8L1204.5 275.9L1206.6 315.7L1208.7 348.1L1210.9 370.1L1213.0 379.4L1215.2 375.4L1217.3 358.5L1219.4 330.5L1221.6 294.1L1223.7 253.1L1225.8 211.5L1228.0 173.4L1230.1 142.6L1232.2 122.0L1234.4 113.6L1236.5 118.3L1238.7 135.6L1240.8 163.7L1242.9 199.8L1245.1 240.2L1247.2 281.0L1249.3 318.3L1251.5 348.5L1253.6 368.7L1255.8 377.3L1257.9 373.6L1260.0 358.1L1262.2 332.5L1264.3 299.6L1266.5 262.6L1268.6 225.1L1270.7 190.8L1272.9 163.1L1275.0 144.5" stroke="#0072BD"/>
<path d="M762.0 215.6L764.1 225.9L766.3 236.5L768.4 246.4L770.5 254.3L772.7 259.4L774.8 261.0L777.0 258.6L779.1 252.3L781.2 242.6L783.4 230.2L785.5 216.1L787.6 201.6L789.8 188.0L791.9 176.5L794.1 168.4L796.2 164.6L798.3 165.5L800.5 171.1L802.6 180.9L804.8 194.0L806.9 208.8L809.0 223.9L811.2 237.6L813.3 248.5L815.4 255.6L817.6 258.0L819.7 255.6L821.9 248.4L824.0 237.2L826.1 223.0L828.3 207.2L830.4 191.3L832.5 177.0L834.7 165.4L836.8 157.9L839.0 155.2L841.1 157.5L843.2 164.5L845.4 175.8L847.5 190.0L849.6 206.0L851.8 222.0L853.9 236.6L856.0 248.3L858.2 255.9L860.3 258.5L862.5 256.0L864.6 248.4L866.7 236.5L868.9 221.3L871.0 204.4L873.1 187.4L875.3 171.8L877.4 159.3L879.6 151.1L881.7 148.1L883.8 150.4L886.0 158.0L888.1 170.2L890.2 185.7L892.4 203.0L894.5 220.5L896.7 236.4L898.8 249.2L900.9 257.5L903.1 260.5L905.2 257.8L907.4 249.6L909.5 236.7L911.6 220.2L913.8 201.7L915.9 183.1L918.0 166.2L920.2 152.7L922.3 143.8L924.5 140.6L926.6 143.4L928.7 151.9L930.9 165.3L933.0 182.3L935.1 201.2L937.3 220.1L939.4 237.1L941.5 250.7L943.7 259.4L945.8 262.4L948.0 259.6L950.1 251.0L952.2 237.7L954.4 220.9L956.5 202.3L958.7 183.7L960.8 167.0L962.9 153.8L965.1 145.4L967.2 142.5L969.3 145.6L971.5 154.3L973.6 167.7L975.8 184.5L977.9 203.2L980.0 221.8L982.2 238.7L984.3 252.2L986.4 261.0L988.6 264.2L990.7 261.4L992.9 252.9L995.0 239.4L997.1 222.3L999.3 203.2L1001.4 183.9L1003.5 166.3L1005.7 152.3L1007.8 143.2L1010.0 140.0L1012.1 142.9L1014.2 151.8L1016.4 165.8L1018.5 183.5L1020.6 203.2L1022.8 222.8L1024.9 240.6L1027.0 254.6L1029.2 263.6L1031.3 266.7L1033.5 263.6L1035.6 254.8L1037.7 241.1L1039.9 223.9L1042.0 205.1L1044.2 186.4L1046.3 169.8L1048.4 156.9L1050.6 149.1L1052.7 147.2L1054.8 151.5L1057.0 161.4L1059.1 176.1L1061.2 194.0L1063.4 213.6L1065.5 233.0L1067.7 250.2L1069.8 263.7L1071.9 272.3L1074.1 275.5L1076.2 273.1L1078.3 265.5L1080.5 253.6L1082.6 238.7L1084.8 222.4L1086.9 206.3L1089.0 192.1L1091.2 181.1L1093.3 174.5L1095.5 172.7L1097.6 176.0L1099.7 184.1L1101.9 196.1L1104.0 210.9L1106.1 227.2L1108.3 243.5L1110.4 258.1L1112.6 269.8L1114.7 277.4L1116.8 280.1L1119.0 277.7L1121.1 270.4L1123.2 258.9L1125.4 244.4L1127.5 228.4L1129.7 212.2L1131.8 197.7L1133.9 186.1L1136.1 178.7L1138.2 176.2L1140.3 178.9L1142.5 186.5L1144.6 198.2L1146.8 213.1L1148.9 229.5L1151.0 246.0L1153.2 261.0L1155.3 272.9L1157.4 280.7L1159.6 283.6L1161.7 281.4L1163.8 274.1L1166.0 262.7L1168.1 248.2L1170.3 232.1L1172.4 216.0L1174.5 201.5L1176.7 190.0L1178.8 182.7L1181.0 180.4L1183.1 183.3L1185.2 191.2L1187.4 203.3L1189.5 218.4L1191.6 235.2L1193.8 252.0L1195.9 267.1L1198.1 279.2L1200.2 287.0L1202.3 289.9L1204.5 287.5L1206.6 280.2L1208.7 268.8L1210.9 254.3L1213.0 238.2L1215.2 222.3L1217.3 207.9L1219.4 196.6L1221.6 189.6L1223.7 187.4L1225.8 190.3L1228.0 198.1L1230.1 209.9L1232.2 224.8L1234.4 241.1L1236.5 257.5L1238.7 272.2L1240.8 283.9L1242.9 291.4L1245.1 294.2L1247.2 291.8L1249.3 284.7L1251.5 273.5L1253.6 259.4L1255.8 243.7L1257.9 228.1L1260.0 214.1L1262.2 203.0L1264.3 196.1L1266.5 193.8L1268.6 196.6L1270.7 204.2L1272.9 215.7L1275.0 230.1" stroke="#D95319"/>
<path d="M762.0 213.6L764.1 220.5L766.3 229.3L768.4 239.1L770.5 248.8L772.7 257.3L774.8 263.6L777.0 267.1L779.1 267.0L781.2 263.3L783.4 256.1L785.5 245.9L787.6 233.6L789.8 220.1L791.9 206.7L794.1 194.6L796.2 185.2L798.3 179.3L800.5 177.7L802.6 180.6L804.8 187.7L806.9 198.3L809.0 211.2L811.2 225.0L813.3 238.4L815.4 250.0L817.6 258.6L819.7 263.4L821.9 263.9L824.0 259.9L826.1 251.8L828.3 240.3L830.4 226.7L832.5 212.1L834.7 198.1L836.8 185.9L839.0 176.7L841.1 171.5L843.2 170.8L845.4 174.7L847.5 182.7L849.6 194.1L851.8 207.9L853.9 222.6L856.0 236.9L858.2 249.2L860.3 258.5L862.5 263.6L864.6 264.2L866.7 259.9L868.9 251.3L871.0 239.1L873.1 224.5L875.3 208.8L877.4 193.6L879.6 180.4L881.7 170.5L883.8 164.8L886.0 163.9L888.1 168.1L890.2 176.8L892.4 189.2L894.5 204.2L896.7 220.2L898.8 235.8L900.9 249.3L903.1 259.5L905.2 265.2L907.4 265.9L909.5 261.3L911.6 252.0L913.8 238.7L915.9 222.7L918.0 205.7L920.2 189.1L922.3 174.8L924.5 164.1L926.6 158.1L928.7 157.4L930.9 162.1L933.0 171.8L935.1 185.5L937.3 201.8L939.4 219.2L941.5 235.8L943.7 250.2L945.8 260.9L948.0 266.8L950.1 267.4L952.2 262.7L954.4 253.2L956.5 239.7L958.7 223.7L960.8 206.7L962.9 190.3L965.1 176.3L967.2 165.9L969.3 160.2L971.5 159.8L973.6 164.6L975.8 174.2L977.9 187.7L980.0 203.8L982.2 221.0L984.3 237.5L986.4 251.8L988.6 262.6L990.7 268.6L992.9 269.4L995.0 264.7L997.1 255.0L999.3 241.2L1001.4 224.7L1003.5 207.0L1005.7 189.9L1007.8 175.0L1010.0 163.9L1012.1 157.7L1014.2 157.1L1016.4 162.0L1018.5 172.1L1020.6 186.4L1022.8 203.4L1024.9 221.5L1027.0 238.8L1029.2 253.7L1031.3 264.7L1033.5 270.8L1035.6 271.4L1037.7 266.5L1039.9 256.7L1042.0 243.0L1044.2 226.8L1046.3 209.8L1048.4 193.6L1050.6 180.1L1052.7 170.6L1054.8 166.1L1057.0 167.0L1059.1 173.2L1061.2 184.2L1063.4 198.9L1065.5 215.9L1067.7 233.6L1069.8 250.2L1071.9 264.4L1074.1 274.8L1076.2 280.6L1078.3 281.5L1080.5 277.4L1082.6 269.0L1084.8 257.1L1086.9 243.1L1089.0 228.5L1091.2 214.6L1093.3 202.9L1095.5 194.5L1097.6 190.2L1099.7 190.3L1101.9 194.9L1104.0 203.5L1106.1 215.4L1108.3 229.5L1110.4 244.4L1112.6 258.7L1114.7 271.1L1116.8 280.3L1119.0 285.4L1121.1 286.0L1123.2 282.0L1125.4 273.8L1127.5 262.2L1129.7 248.3L1131.8 233.5L1133.9 219.3L1136.1 207.1L1138.2 198.0L1140.3 193.0L1142.5 192.7L1144.6 196.9L1146.8 205.5L1148.9 217.4L1151.0 231.7L1153.2 246.9L1155.3 261.5L1157.4 274.2L1159.6 283.7L1161.7 289.1L1163.8 289.9L1166.0 286.0L1168.1 277.9L1170.3 266.3L1172.4 252.4L1174.5 237.7L1176.7 223.5L1178.8 211.3L1181.0 202.3L1183.1 197.5L1185.2 197.3L1187.4 201.8L1189.5 210.6L1191.6 222.9L1193.8 237.4L1195.9 252.8L1198.1 267.6L1200.2 280.4L1202.3 289.9L1204.5 295.2L1206.6 295.9L1208.7 292.0L1210.9 283.8L1213.0 272.2L1215.2 258.4L1217.3 243.8L1219.4 229.8L1221.6 217.8L1223.7 209.1L1225.8 204.4L1228.0 204.3L1230.1 208.8L1232.2 217.4L1234.4 229.4L1236.5 243.5L1238.7 258.5L1240.8 272.9L1242.9 285.3L1245.1 294.5L1247.2 299.6L1249.3 300.3L1251.5 296.4L1253.6 288.4L1255.8 277.1L1257.9 263.6L1260.0 249.3L1262.2 235.6L1264.3 223.9L1266.5 215.3L1268.6 210.7L1270.7 210.5L1272.9 214.8L1275.0 223.2" stroke="#EDB120"/>
<path d="M762.0 203.2L764.1 185.8L766.3 172.2L768.4 163.6L770.5 161.0L772.7 164.6L774.8 174.0L777.0 188.3L779.1 206.4L781.2 226.5L783.4 246.8L785.5 265.2L787.6 279.7L789.8 288.7L791.9 291.1L794.1 286.2L796.2 274.2L798.3 256.0L800.5 233.3L802.6 208.2L804.8 183.1L806.9 160.5L809.0 143.0L811.2 132.2L813.3 129.5L815.4 135.0L817.6 148.0L819.7 167.2L821.9 191.0L824.0 216.8L826.1 242.2L828.3 264.7L830.4 282.1L832.5 292.6L834.7 295.2L836.8 289.7L839.0 276.5L841.1 256.9L843.2 232.9L845.4 206.8L847.5 181.1L849.6 158.4L851.8 140.8L853.9 130.2L856.0 127.6L858.2 133.1L860.3 146.2L862.5 165.8L864.6 189.9L866.7 216.4L868.9 242.6L871.0 265.9L873.1 284.1L875.3 295.2L877.4 298.0L879.6 292.1L881.7 278.0L883.8 256.8L886.0 230.5L888.1 201.5L890.2 172.7L892.4 146.9L894.5 126.7L896.7 114.3L898.8 110.9L900.9 117.1L903.1 132.2L905.2 154.9L907.4 182.9L909.5 213.7L911.6 244.0L913.8 270.9L915.9 291.7L918.0 304.3L920.2 307.3L922.3 300.4L924.5 284.3L926.6 260.5L928.7 231.5L930.9 199.9L933.0 168.9L935.1 141.6L937.3 120.6L939.4 108.0L941.5 105.0L943.7 112.0L945.8 128.2L948.0 152.1L950.1 181.2L952.2 212.5L954.4 243.0L956.5 269.7L958.7 290.1L960.8 302.2L962.9 305.1L965.1 298.5L967.2 283.3L969.3 261.1L971.5 234.2L973.6 205.1L975.8 176.8L977.9 151.9L980.0 132.9L982.2 121.5L984.3 118.9L986.4 125.2L988.6 139.8L990.7 161.5L992.9 188.2L995.0 217.4L997.1 246.4L999.3 272.3L1001.4 292.5L1003.5 304.8L1005.7 307.9L1007.8 301.4L1010.0 285.7L1012.1 262.1L1014.2 232.8L1016.4 200.5L1018.5 168.5L1020.6 139.9L1022.8 117.7L1024.9 104.3L1027.0 101.0L1029.2 108.5L1031.3 126.0L1033.5 151.8L1035.6 183.3L1037.7 217.5L1039.9 250.8L1042.0 280.1L1044.2 302.5L1046.3 315.8L1048.4 319.0L1050.6 311.9L1052.7 295.5L1054.8 271.8L1057.0 243.1L1059.1 212.4L1061.2 182.9L1063.4 157.4L1065.5 138.4L1067.7 127.5L1069.8 125.9L1071.9 133.7L1074.1 150.2L1076.2 173.5L1078.3 201.4L1080.5 231.0L1082.6 259.6L1084.8 284.5L1086.9 303.3L1089.0 314.4L1091.2 317.0L1093.3 311.1L1095.5 297.3L1097.6 277.2L1099.7 252.9L1101.9 226.8L1104.0 201.3L1106.1 179.0L1108.3 161.9L1110.4 151.7L1112.6 149.2L1114.7 154.9L1116.8 168.3L1119.0 188.1L1121.1 212.4L1123.2 238.8L1125.4 264.8L1127.5 287.8L1129.7 305.6L1131.8 316.4L1133.9 319.0L1136.1 313.3L1138.2 299.7L1140.3 279.6L1142.5 254.7L1144.6 227.7L1146.8 201.0L1148.9 177.4L1151.0 159.2L1153.2 148.3L1155.3 145.7L1157.4 151.7L1159.6 165.9L1161.7 186.8L1163.8 212.5L1166.0 240.4L1168.1 267.8L1170.3 292.0L1172.4 310.7L1174.5 322.1L1176.7 325.0L1178.8 319.3L1181.0 305.4L1183.1 284.9L1185.2 259.7L1187.4 232.4L1189.5 205.7L1191.6 182.1L1193.8 164.2L1195.9 153.5L1198.1 151.2L1200.2 157.6L1202.3 172.1L1204.5 193.2L1206.6 219.0L1208.7 246.9L1210.9 274.3L1213.0 298.4L1215.2 316.9L1217.3 328.1L1219.4 331.0L1221.6 325.2L1223.7 311.5L1225.8 291.1L1228.0 266.3L1230.1 239.4L1232.2 213.0L1234.4 189.9L1236.5 172.2L1238.7 161.8L1240.8 159.6L1242.9 165.9L1245.1 180.1L1247.2 200.8L1249.3 226.0L1251.5 253.3L1253.6 279.9L1255.8 303.4L1257.9 321.4L1260.0 332.2L1262.2 334.9L1264.3 329.2L1266.5 315.7L1268.6 295.7L1270.7 271.3L1272.9 244.9L1275.0 219.1" stroke="#7E2F8E"/>
<path d="M762.0 276.3L764.1 279.3L766.3 277.5L768.4 270.8L770.5 259.7L772.7 245.0L774.8 228.0L777.0 210.2L779.1 193.3L781.2 178.9L783.4 168.4L785.5 162.7L787.6 162.6L789.8 168.0L791.9 178.7L794.1 193.6L796.2 211.4L798.3 230.2L800.5 248.1L802.6 263.0L804.8 273.4L806.9 277.9L809.0 276.0L811.2 267.9L813.3 254.2L815.4 236.3L817.6 215.9L819.7 195.0L821.9 175.5L824.0 159.5L826.1 148.6L828.3 143.7L830.4 145.4L832.5 153.6L834.7 167.4L836.8 185.5L839.0 206.2L841.1 227.4L843.2 247.1L845.4 263.3L847.5 274.3L849.6 279.1L851.8 277.2L853.9 268.6L856.0 254.1L858.2 235.2L860.3 213.5L862.5 191.2L864.6 170.5L866.7 153.3L868.9 141.5L871.0 136.1L873.1 137.8L875.3 146.4L877.4 161.1L879.6 180.6L881.7 202.9L883.8 225.8L886.0 247.2L888.1 264.8L890.2 276.8L892.4 282.1L894.5 280.1L896.7 270.9L898.8 255.2L900.9 234.7L903.1 211.1L905.2 186.8L907.4 164.2L909.5 145.4L911.6 132.5L913.8 126.6L915.9 128.5L918.0 138.0L920.2 154.3L922.3 175.7L924.5 200.1L926.6 225.2L928.7 248.4L930.9 267.4L933.0 280.3L935.1 285.9L937.3 283.5L939.4 273.5L941.5 256.8L943.7 235.1L945.8 210.5L948.0 185.5L950.1 162.5L952.2 143.8L954.4 131.1L956.5 125.8L958.7 128.4L960.8 138.6L962.9 155.4L965.1 177.2L967.2 201.8L969.3 226.8L971.5 249.9L973.6 268.8L975.8 281.5L977.9 287.0L980.0 284.8L982.2 274.9L984.3 258.4L986.4 236.8L988.6 212.1L990.7 186.8L992.9 163.3L995.0 143.9L997.1 130.5L999.3 124.6L1001.4 126.7L1003.5 136.8L1005.7 153.8L1007.8 176.2L1010.0 201.7L1012.1 227.9L1014.2 252.2L1016.4 272.0L1018.5 285.5L1020.6 291.2L1022.8 288.7L1024.9 278.2L1027.0 260.8L1029.2 238.3L1031.3 212.9L1033.5 187.2L1035.6 163.6L1037.7 144.7L1039.9 132.1L1042.0 127.2L1044.2 130.3L1046.3 141.1L1048.4 158.5L1050.6 180.9L1052.7 206.3L1054.8 232.1L1057.0 256.0L1059.1 275.6L1061.2 289.1L1063.4 295.4L1065.5 293.9L1067.7 285.0L1069.8 269.7L1071.9 249.8L1074.1 227.3L1076.2 204.8L1078.3 184.4L1080.5 168.3L1082.6 157.8L1084.8 154.1L1086.9 157.4L1089.0 167.3L1091.2 183.0L1093.3 202.8L1095.5 224.8L1097.6 247.1L1099.7 267.4L1101.9 283.9L1104.0 295.2L1106.1 300.1L1108.3 298.2L1110.4 289.8L1112.6 275.7L1114.7 257.1L1116.8 236.1L1119.0 214.6L1121.1 194.8L1123.2 178.5L1125.4 167.5L1127.5 162.8L1129.7 164.9L1131.8 173.6L1133.9 188.0L1136.1 206.9L1138.2 228.3L1140.3 250.2L1142.5 270.4L1144.6 287.0L1146.8 298.3L1148.9 303.3L1151.0 301.5L1153.2 293.1L1155.3 278.8L1157.4 260.2L1159.6 239.0L1161.7 217.3L1163.8 197.4L1166.0 181.1L1168.1 170.1L1170.3 165.5L1172.4 167.9L1174.5 176.9L1176.7 191.9L1178.8 211.2L1181.0 233.1L1183.1 255.5L1185.2 276.2L1187.4 293.1L1189.5 304.7L1191.6 309.8L1193.8 308.0L1195.9 299.4L1198.1 285.1L1200.2 266.3L1202.3 245.0L1204.5 223.3L1206.6 203.4L1208.7 187.3L1210.9 176.5L1213.0 172.1L1215.2 174.6L1217.3 183.7L1219.4 198.5L1221.6 217.7L1223.7 239.2L1225.8 261.2L1228.0 281.3L1230.1 297.8L1232.2 309.1L1234.4 314.0L1236.5 312.1L1238.7 303.7L1240.8 289.7L1242.9 271.4L1245.1 250.6L1247.2 229.5L1249.3 210.1L1251.5 194.4L1253.6 183.8L1255.8 179.5L1257.9 181.8L1260.0 190.6L1262.2 205.0L1264.3 223.5L1266.5 244.5L1268.6 265.9L1270.7 285.5L1272.9 301.5L1275.0 312.4" stroke="#77AC30"/>
<path d="M762.0 173.7L764.1 170.3L766.3 172.4L768.4 179.6L770.5 191.5L772.7 207.0L774.8 224.6L777.0 242.8L779.1 259.6L781.2 273.3L783.4 282.3L785.5 285.6L787.6 282.5L789.8 273.0L791.9 257.8L794.1 238.2L796.2 216.0L798.3 193.3L800.5 172.4L802.6 155.5L804.8 144.3L806.9 140.1L809.0 143.3L811.2 153.5L813.3 169.7L815.4 190.3L817.6 213.2L819.7 236.3L821.9 257.2L824.0 273.8L826.1 284.6L828.3 288.4L830.4 284.8L832.5 274.1L834.7 257.4L836.8 236.3L839.0 212.8L841.1 189.3L843.2 167.9L845.4 150.9L847.5 139.8L849.6 135.8L851.8 139.2L853.9 149.8L856.0 166.5L858.2 187.8L860.3 211.5L862.5 235.4L864.6 257.2L866.7 274.5L868.9 285.8L871.0 289.8L873.1 286.0L875.3 274.8L877.4 257.2L879.6 234.7L881.7 209.6L883.8 184.1L886.0 160.8L888.1 142.0L890.2 129.6L892.4 124.9L894.5 128.5L896.7 140.0L898.8 158.5L900.9 182.3L903.1 209.0L905.2 236.1L907.4 260.8L909.5 280.6L911.6 293.5L913.8 298.1L915.9 293.8L918.0 280.9L920.2 260.7L922.3 235.1L924.5 206.5L926.6 177.7L928.7 151.7L930.9 130.9L933.0 117.5L935.1 112.9L937.3 117.6L939.4 131.1L941.5 152.0L943.7 178.3L945.8 207.3L948.0 236.0L950.1 261.8L952.2 282.2L954.4 295.1L956.5 299.5L958.7 295.1L960.8 282.5L962.9 263.0L965.1 238.6L967.2 211.9L969.3 185.4L971.5 161.6L973.6 142.9L975.8 130.9L977.9 126.8L980.0 130.9L982.2 142.8L984.3 161.4L986.4 184.8L988.6 211.0L990.7 237.3L992.9 261.1L995.0 280.2L997.1 292.5L999.3 296.7L1001.4 292.5L1003.5 280.0L1005.7 260.4L1007.8 235.4L1010.0 207.3L1012.1 178.8L1014.2 152.8L1016.4 131.9L1018.5 118.3L1020.6 113.5L1022.8 118.3L1024.9 132.2L1027.0 153.9L1029.2 181.5L1031.3 212.2L1033.5 243.0L1035.6 270.8L1037.7 292.9L1039.9 307.1L1042.0 312.0L1044.2 307.3L1046.3 293.7L1048.4 272.7L1050.6 246.4L1052.7 217.6L1054.8 189.2L1057.0 164.0L1059.1 144.4L1061.2 132.3L1063.4 128.8L1065.5 134.3L1067.7 148.3L1069.8 169.2L1071.9 194.9L1074.1 222.8L1076.2 250.2L1078.3 274.4L1080.5 293.3L1082.6 305.2L1084.8 309.3L1086.9 305.3L1089.0 293.9L1091.2 276.5L1093.3 254.9L1095.5 231.3L1097.6 207.9L1099.7 187.1L1101.9 170.7L1104.0 160.2L1106.1 156.6L1108.3 160.3L1110.4 171.2L1112.6 188.1L1114.7 209.5L1116.8 233.3L1119.0 257.2L1121.1 278.8L1123.2 296.1L1125.4 307.3L1127.5 311.2L1129.7 307.5L1131.8 296.6L1133.9 279.4L1136.1 257.5L1138.2 233.2L1140.3 208.8L1142.5 186.7L1144.6 169.1L1146.8 157.7L1148.9 153.8L1151.0 157.8L1153.2 169.2L1155.3 187.1L1157.4 209.7L1159.6 234.8L1161.7 260.0L1163.8 282.7L1166.0 300.8L1168.1 312.5L1170.3 316.7L1172.4 313.1L1174.5 301.9L1176.7 284.4L1178.8 262.3L1181.0 237.8L1183.1 213.4L1185.2 191.4L1187.4 174.0L1189.5 163.0L1191.6 159.4L1193.8 163.6L1195.9 175.3L1198.1 193.3L1200.2 215.8L1202.3 240.8L1204.5 265.7L1206.6 288.2L1208.7 306.0L1210.9 317.6L1213.0 321.7L1215.2 318.1L1217.3 307.0L1219.4 289.7L1221.6 267.9L1223.7 243.7L1225.8 219.5L1228.0 197.8L1230.1 180.7L1232.2 169.8L1234.4 166.3L1236.5 170.6L1238.7 182.1L1240.8 199.9L1242.9 222.2L1245.1 246.8L1247.2 271.3L1249.3 293.3L1251.5 310.8L1253.6 322.0L1255.8 325.9L1257.9 322.2L1260.0 311.3L1262.2 294.4L1264.3 273.1L1266.5 249.5L1268.6 226.0L1270.7 204.9L1272.9 188.3L1275.0 177.7" stroke="#4DBEEE"/>
<path d="M762.0 284.8L764.1 274.1L766.3 258.2L768.4 238.5L770.5 216.9L772.7 195.6L774.8 176.5L777.0 161.5L779.1 152.2L781.2 149.5L783.4 153.7L785.5 164.3L787.6 180.4L789.8 200.5L791.9 222.7L794.1 244.9L796.2 264.8L798.3 280.4L800.5 290.0L802.6 292.5L804.8 287.4L806.9 275.0L809.0 256.3L811.2 233.1L813.3 207.5L815.4 182.1L817.6 159.4L819.7 141.7L821.9 130.9L824.0 128.1L826.1 133.6L828.3 146.9L830.4 166.6L832.5 190.9L834.7 217.4L836.8 243.5L839.0 266.6L841.1 284.5L843.2 295.3L845.4 298.0L847.5 292.3L849.6 278.8L851.8 258.7L853.9 234.0L856.0 207.1L858.2 180.7L860.3 157.3L862.5 139.2L864.6 128.2L866.7 125.4L868.9 131.0L871.0 144.4L873.1 164.4L875.3 189.2L877.4 216.4L879.6 243.4L881.7 267.5L883.8 286.3L886.0 297.8L888.1 300.8L890.2 294.7L892.4 279.9L894.5 257.7L896.7 230.1L898.8 199.8L900.9 169.6L903.1 142.7L905.2 121.8L907.4 109.1L909.5 106.0L911.6 112.9L913.8 129.0L915.9 152.9L918.0 182.2L920.2 214.1L922.3 245.5L924.5 273.2L926.6 294.6L928.7 307.4L930.9 310.4L933.0 303.4L935.1 287.2L937.3 263.2L939.4 234.0L941.5 202.3L943.7 171.4L945.8 144.2L948.0 123.4L950.1 111.0L952.2 108.2L954.4 115.3L956.5 131.6L958.7 155.3L960.8 184.2L962.9 215.4L965.1 245.8L967.2 272.4L969.3 292.8L971.5 305.0L973.6 307.9L975.8 301.2L977.9 285.8L980.0 263.2L982.2 235.5L984.3 205.6L986.4 176.3L988.6 150.5L990.7 130.6L992.9 118.7L995.0 115.9L997.1 122.4L999.3 137.6L1001.4 160.2L1003.5 188.1L1005.7 218.6L1007.8 248.9L1010.0 275.9L1012.1 297.0L1014.2 309.9L1016.4 313.3L1018.5 306.6L1020.6 290.5L1022.8 266.2L1024.9 236.0L1027.0 202.8L1029.2 170.0L1031.3 140.7L1033.5 118.0L1035.6 104.3L1037.7 101.1L1039.9 108.9L1042.0 127.1L1044.2 153.8L1046.3 186.3L1048.4 221.3L1050.6 255.3L1052.7 284.9L1054.8 307.5L1057.0 320.8L1059.1 323.9L1061.2 316.9L1063.4 300.7L1065.5 277.4L1067.7 249.4L1069.8 219.6L1071.9 191.0L1074.1 166.4L1076.2 148.0L1078.3 137.5L1080.5 135.7L1082.6 142.9L1084.8 158.4L1086.9 180.6L1089.0 207.2L1091.2 235.7L1093.3 263.4L1095.5 287.5L1097.6 305.9L1099.7 316.8L1101.9 319.4L1104.0 313.4L1106.1 299.6L1108.3 279.3L1110.4 254.6L1112.6 227.8L1114.7 201.6L1116.8 178.5L1119.0 160.8L1121.1 150.2L1123.2 147.6L1125.4 153.5L1127.5 167.4L1129.7 187.8L1131.8 212.8L1133.9 240.1L1136.1 266.9L1138.2 290.7L1140.3 309.1L1142.5 320.2L1144.6 323.1L1146.8 317.3L1148.9 303.4L1151.0 282.7L1153.2 257.3L1155.3 229.6L1157.4 202.3L1159.6 178.2L1161.7 159.6L1163.8 148.3L1166.0 145.7L1168.1 151.9L1170.3 166.5L1172.4 188.0L1174.5 214.3L1176.7 242.9L1178.8 271.1L1181.0 295.9L1183.1 315.1L1185.2 326.7L1187.4 329.6L1189.5 323.7L1191.6 309.5L1193.8 288.4L1195.9 262.7L1198.1 234.7L1200.2 207.4L1202.3 183.5L1204.5 165.2L1206.6 154.4L1208.7 152.1L1210.9 158.7L1213.0 173.4L1215.2 195.0L1217.3 221.1L1219.4 249.4L1221.6 277.0L1223.7 301.4L1225.8 320.0L1228.0 331.3L1230.1 334.2L1232.2 328.4L1234.4 314.7L1236.5 294.4L1238.7 269.5L1240.8 242.6L1242.9 216.2L1245.1 193.0L1247.2 175.3L1249.3 164.7L1251.5 162.5L1253.6 168.7L1255.8 183.0L1257.9 203.9L1260.0 229.3L1262.2 256.9L1264.3 283.9L1266.5 307.7L1268.6 326.0L1270.7 337.0L1272.9 339.7L1275.0 333.8" stroke="#A2142F"/>
<path d="M762.0 243.9L764.1 232.1L766.3 220.1L768.4 208.8L770.5 199.3L772.7 192.6L774.8 189.3L777.0 189.7L779.1 193.7L781.2 201.0L783.4 210.9L785.5 222.3L787.6 234.1L789.8 245.0L791.9 253.9L794.1 259.7L796.2 261.6L798.3 259.2L800.5 252.7L802.6 242.4L804.8 229.5L806.9 215.1L809.0 200.5L811.2 187.3L813.3 176.6L815.4 169.7L817.6 167.0L819.7 169.1L821.9 175.5L824.0 185.8L826.1 198.8L828.3 213.4L830.4 228.1L832.5 241.3L834.7 251.9L836.8 258.7L839.0 261.1L841.1 258.7L843.2 251.9L845.4 241.1L847.5 227.4L849.6 212.2L851.8 196.8L853.9 182.9L856.0 171.6L858.2 164.2L860.3 161.4L862.5 163.5L864.6 170.3L866.7 181.2L868.9 195.1L871.0 210.6L873.1 226.3L875.3 240.6L877.4 252.0L879.6 259.4L881.7 262.0L883.8 259.5L886.0 252.2L888.1 240.5L890.2 225.7L892.4 209.2L894.5 192.6L896.7 177.4L898.8 165.2L900.9 157.1L903.1 154.1L905.2 156.3L907.4 163.8L909.5 175.7L911.6 190.9L913.8 208.0L915.9 225.2L918.0 240.9L920.2 253.4L922.3 261.5L924.5 264.4L926.6 261.7L928.7 253.6L930.9 241.0L933.0 225.0L935.1 207.4L937.3 189.8L939.4 173.9L941.5 161.4L943.7 153.4L945.8 150.8L948.0 153.7L950.1 162.0L952.2 174.8L954.4 190.8L956.5 208.5L958.7 226.2L960.8 242.2L962.9 254.8L965.1 262.9L967.2 265.8L969.3 263.1L971.5 255.1L973.6 242.6L975.8 226.8L977.9 209.4L980.0 191.9L982.2 176.0L984.3 163.3L986.4 155.1L988.6 152.2L990.7 154.8L992.9 162.8L995.0 175.4L997.1 191.4L999.3 209.4L1001.4 227.4L1003.5 243.9L1005.7 257.0L1007.8 265.6L1010.0 268.6L1012.1 265.8L1014.2 257.5L1016.4 244.4L1018.5 227.8L1020.6 209.4L1022.8 191.1L1024.9 174.6L1027.0 161.7L1029.2 153.6L1031.3 151.0L1033.5 154.3L1035.6 163.1L1037.7 176.4L1039.9 193.0L1042.0 211.3L1044.2 229.4L1046.3 245.7L1048.4 258.5L1050.6 266.8L1052.7 270.1L1054.8 268.1L1057.0 261.1L1059.1 249.9L1061.2 235.6L1063.4 219.8L1065.5 204.2L1067.7 190.3L1069.8 179.5L1071.9 173.1L1074.1 171.7L1076.2 175.6L1078.3 184.2L1080.5 196.7L1082.6 212.0L1084.8 228.6L1086.9 244.9L1089.0 259.4L1091.2 270.8L1093.3 278.2L1095.5 280.9L1097.6 278.8L1099.7 272.2L1101.9 261.6L1104.0 248.3L1106.1 233.4L1108.3 218.5L1110.4 205.0L1112.6 194.3L1114.7 187.5L1116.8 185.2L1119.0 187.7L1121.1 194.7L1123.2 205.6L1125.4 219.3L1127.5 234.6L1129.7 249.8L1131.8 263.6L1133.9 274.6L1136.1 281.8L1138.2 284.3L1140.3 282.1L1142.5 275.2L1144.6 264.4L1146.8 250.8L1148.9 235.7L1151.0 220.6L1153.2 207.0L1155.3 196.3L1157.4 189.5L1159.6 187.3L1161.7 189.9L1163.8 197.2L1166.0 208.5L1168.1 222.7L1170.3 238.4L1172.4 254.1L1174.5 268.3L1176.7 279.7L1178.8 287.1L1181.0 289.9L1183.1 287.8L1185.2 281.0L1187.4 270.2L1189.5 256.6L1191.6 241.4L1193.8 226.3L1195.9 212.6L1198.1 201.9L1200.2 195.2L1202.3 193.1L1204.5 195.9L1206.6 203.3L1208.7 214.7L1210.9 228.8L1213.0 244.5L1215.2 260.0L1217.3 274.1L1219.4 285.2L1221.6 292.4L1223.7 295.1L1225.8 292.9L1228.0 286.1L1230.1 275.5L1232.2 262.2L1234.4 247.4L1236.5 232.6L1238.7 219.3L1240.8 208.8L1242.9 202.3L1245.1 200.2L1247.2 202.9L1249.3 210.1L1251.5 221.0L1253.6 234.8L1255.8 249.9L1257.9 265.0L1260.0 278.7L1262.2 289.5L1264.3 296.5L1266.5 299.0L1268.6 296.8L1270.7 290.2L1272.9 279.9L1275.0 266.8" stroke="#0072BD"/>
<path d="M762.0 212.6L764.1 203.5L766.3 196.9L768.4 193.6L770.5 193.9L772.7 197.6L774.8 204.6L777.0 213.9L779.1 224.8L781.2 236.0L783.4 246.4L785.5 254.8L787.6 260.3L789.8 262.0L791.9 259.7L794.1 253.3L796.2 243.2L798.3 230.4L800.5 215.9L802.6 201.3L804.8 188.1L806.9 177.5L809.0 170.5L811.2 167.8L813.3 169.7L815.4 176.0L817.6 186.2L819.7 199.1L821.9 213.5L824.0 228.0L826.1 241.2L828.3 251.7L830.4 258.5L832.5 260.8L834.7 258.5L836.8 251.6L839.0 240.9L841.1 227.4L843.2 212.3L845.4 197.2L847.5 183.4L849.6 172.3L851.8 165.0L853.9 162.2L856.0 164.3L858.2 171.0L860.3 181.8L862.5 195.5L864.6 210.8L866.7 226.3L868.9 240.4L871.0 251.6L873.1 259.0L875.3 261.5L877.4 259.1L879.6 251.8L881.7 240.3L883.8 225.7L886.0 209.3L888.1 192.9L890.2 177.9L892.4 165.9L894.5 158.0L896.7 155.0L898.8 157.3L900.9 164.6L903.1 176.3L905.2 191.3L907.4 208.1L909.5 225.0L911.6 240.5L913.8 252.9L915.9 260.9L918.0 263.8L920.2 261.2L922.3 253.2L924.5 240.7L926.6 224.8L928.7 207.1L930.9 189.5L933.0 173.5L935.1 160.9L937.3 152.8L939.4 150.1L941.5 153.0L943.7 161.2L945.8 174.0L948.0 190.1L950.1 207.8L952.2 225.5L954.4 241.5L956.5 254.2L958.7 262.4L960.8 265.3L962.9 262.6L965.1 254.6L967.2 242.2L969.3 226.5L971.5 209.0L973.6 191.6L975.8 175.8L977.9 163.3L980.0 155.2L982.2 152.3L984.3 155.0L986.4 162.9L988.6 175.5L990.7 191.4L992.9 209.1L995.0 227.0L997.1 243.2L999.3 256.2L1001.4 264.7L1003.5 267.8L1005.7 265.1L1007.8 256.9L1010.0 243.9L1012.1 227.4L1014.2 209.1L1016.4 190.7L1018.5 174.1L1020.6 160.9L1022.8 152.6L1024.9 149.9L1027.0 153.0L1029.2 161.7L1031.3 175.1L1033.5 191.8L1035.6 210.2L1037.7 228.5L1039.9 244.9L1042.0 257.8L1044.2 266.1L1046.3 269.0L1048.4 266.3L1050.6 258.5L1052.7 246.6L1054.8 231.8L1057.0 215.6L1059.1 199.7L1061.2 185.7L1063.4 175.0L1065.5 168.7L1067.7 167.6L1069.8 171.6L1071.9 180.5L1074.1 193.4L1076.2 209.2L1078.3 226.2L1080.5 243.0L1082.6 257.9L1084.8 269.6L1086.9 277.1L1089.0 279.8L1091.2 277.6L1093.3 270.9L1095.5 260.3L1097.6 247.0L1099.7 232.3L1101.9 217.5L1104.0 204.2L1106.1 193.6L1108.3 186.8L1110.4 184.6L1112.6 187.1L1114.7 194.2L1116.8 205.1L1119.0 218.8L1121.1 234.0L1123.2 249.3L1125.4 263.0L1127.5 274.0L1129.7 281.1L1131.8 283.6L1133.9 281.4L1136.1 274.5L1138.2 263.7L1140.3 250.1L1142.5 235.0L1144.6 219.9L1146.8 206.2L1148.9 195.5L1151.0 188.6L1153.2 186.4L1155.3 189.0L1157.4 196.2L1159.6 207.4L1161.7 221.5L1163.8 237.2L1166.0 252.8L1168.1 267.0L1170.3 278.4L1172.4 285.8L1174.5 288.6L1176.7 286.5L1178.8 279.7L1181.0 269.0L1183.1 255.4L1185.2 240.3L1187.4 225.1L1189.5 211.5L1191.6 200.7L1193.8 193.9L1195.9 191.8L1198.1 194.5L1200.2 202.0L1202.3 213.3L1204.5 227.6L1206.6 243.3L1208.7 258.9L1210.9 273.0L1213.0 284.2L1215.2 291.5L1217.3 294.1L1219.4 291.9L1221.6 285.2L1223.7 274.5L1225.8 261.1L1228.0 246.3L1230.1 231.4L1232.2 218.1L1234.4 207.6L1236.5 201.0L1238.7 199.0L1240.8 201.7L1242.9 208.9L1245.1 219.9L1247.2 233.7L1249.3 248.9L1251.5 264.1L1253.6 277.8L1255.8 288.6L1257.9 295.7L1260.0 298.2L1262.2 296.0L1264.3 289.4L1266.5 279.0L1268.6 265.9L1270.7 251.3L1272.9 236.8L1275.0 223.8" stroke="#D95319"/>
<path d="M762.0 201.6L764.1 194.6L766.3 191.1L768.4 191.4L770.5 195.5L772.7 203.1L774.8 213.3L777.0 225.2L779.1 237.4L781.2 248.8L783.4 257.9L785.5 263.9L787.6 265.8L789.8 263.4L791.9 256.5L794.1 245.7L796.2 231.8L798.3 216.0L800.5 200.0L802.6 185.4L804.8 173.7L806.9 166.0L809.0 163.0L811.2 165.1L813.3 172.0L815.4 183.1L817.6 197.2L819.7 213.1L821.9 229.0L824.0 243.5L826.1 255.0L828.3 262.4L830.4 265.0L832.5 262.4L834.7 255.0L836.8 243.2L839.0 228.4L841.1 211.9L843.2 195.3L845.4 180.2L847.5 168.1L849.6 160.1L851.8 157.1L853.9 159.4L856.0 166.8L858.2 178.6L860.3 193.6L862.5 210.4L864.6 227.4L866.7 242.8L868.9 255.2L871.0 263.2L873.1 266.0L875.3 263.3L877.4 255.3L879.6 242.8L881.7 226.8L883.8 208.9L886.0 190.9L888.1 174.5L890.2 161.4L892.4 152.7L894.5 149.5L896.7 152.0L898.8 160.0L900.9 172.8L903.1 189.2L905.2 207.6L907.4 226.2L909.5 243.1L911.6 256.7L913.8 265.6L915.9 268.7L918.0 265.8L920.2 257.1L922.3 243.4L924.5 226.0L926.6 206.6L928.7 187.2L930.9 169.6L933.0 155.7L935.1 146.8L937.3 143.7L939.4 146.9L941.5 155.9L943.7 170.0L945.8 187.6L948.0 207.1L950.1 226.6L952.2 244.2L954.4 258.1L956.5 267.1L958.7 270.3L960.8 267.3L962.9 258.6L965.1 244.9L967.2 227.6L969.3 208.4L971.5 189.2L973.6 171.9L975.8 158.2L977.9 149.3L980.0 146.2L982.2 149.2L984.3 157.9L986.4 171.7L988.6 189.1L990.7 208.5L992.9 228.1L995.0 245.9L997.1 260.2L999.3 269.5L1001.4 272.9L1003.5 269.9L1005.7 261.0L1007.8 246.7L1010.0 228.7L1012.1 208.5L1014.2 188.3L1016.4 170.0L1018.5 155.5L1020.6 146.3L1022.8 143.2L1024.9 146.6L1027.0 156.1L1029.2 170.7L1031.3 189.1L1033.5 209.4L1035.6 229.5L1037.7 247.6L1039.9 261.9L1042.0 271.0L1044.2 274.1L1046.3 271.1L1048.4 262.3L1050.6 248.7L1052.7 232.0L1054.8 213.9L1057.0 196.0L1059.1 180.4L1061.2 168.4L1063.4 161.4L1065.5 160.0L1067.7 164.5L1069.8 174.3L1071.9 188.6L1074.1 206.0L1076.2 224.9L1078.3 243.5L1080.5 260.0L1082.6 272.9L1084.8 281.2L1086.9 284.1L1089.0 281.6L1091.2 274.0L1093.3 262.3L1095.5 247.5L1097.6 231.3L1099.7 215.1L1101.9 200.5L1104.0 188.9L1106.1 181.5L1108.3 179.0L1110.4 181.8L1112.6 189.5L1114.7 201.5L1116.8 216.6L1119.0 233.4L1121.1 250.1L1123.2 265.3L1125.4 277.3L1127.5 285.1L1129.7 287.9L1131.8 285.3L1133.9 277.8L1136.1 265.9L1138.2 250.9L1140.3 234.3L1142.5 217.7L1144.6 202.6L1146.8 190.7L1148.9 183.2L1151.0 180.7L1153.2 183.5L1155.3 191.4L1157.4 203.7L1159.6 219.2L1161.7 236.3L1163.8 253.5L1166.0 269.1L1168.1 281.5L1170.3 289.6L1172.4 292.7L1174.5 290.3L1176.7 282.9L1178.8 271.1L1181.0 256.1L1183.1 239.4L1185.2 222.7L1187.4 207.7L1189.5 195.8L1191.6 188.3L1193.8 185.9L1195.9 188.9L1198.1 197.0L1200.2 209.5L1202.3 225.1L1204.5 242.4L1206.6 259.6L1208.7 275.1L1210.9 287.4L1213.0 295.4L1215.2 298.3L1217.3 295.8L1219.4 288.4L1221.6 276.6L1223.7 261.8L1225.8 245.4L1228.0 229.0L1230.1 214.4L1232.2 202.8L1234.4 195.5L1236.5 193.2L1238.7 196.1L1240.8 204.1L1242.9 216.2L1245.1 231.4L1247.2 248.1L1249.3 264.8L1251.5 279.8L1253.6 291.8L1255.8 299.5L1257.9 302.3L1260.0 299.9L1262.2 292.5L1264.3 281.1L1266.5 266.6L1268.6 250.5L1270.7 234.5L1272.9 220.1L1275.0 208.8" stroke="#EDB120"/>
<path d="M762.0 273.9L764.1 275.3L766.3 272.8L768.4 266.5L770.5 256.8L772.7 244.4L774.8 230.4L777.0 216.1L779.1 202.7L781.2 191.5L783.4 183.7L785.5 179.9L787.6 180.5L789.8 185.5L791.9 194.6L794.1 206.8L796.2 221.1L798.3 235.9L800.5 249.7L802.6 260.9L804.8 268.2L806.9 270.8L809.0 268.2L811.2 260.7L813.3 249.0L815.4 234.1L817.6 217.5L819.7 200.9L821.9 185.7L824.0 173.6L826.1 165.7L828.3 162.9L830.4 165.3L832.5 172.7L834.7 184.6L836.8 199.6L839.0 216.3L841.1 233.1L843.2 248.4L845.4 260.6L847.5 268.4L849.6 271.2L851.8 268.5L853.9 260.6L856.0 248.2L858.2 232.5L860.3 214.9L862.5 197.1L864.6 181.0L866.7 168.0L868.9 159.5L871.0 156.2L873.1 158.7L875.3 166.6L877.4 179.2L879.6 195.3L881.7 213.3L883.8 231.5L886.0 248.1L888.1 261.4L890.2 270.0L892.4 273.0L894.5 270.2L896.7 261.7L898.8 248.3L900.9 231.2L903.1 212.0L905.2 192.7L907.4 175.1L909.5 160.9L911.6 151.6L913.8 148.1L915.9 150.8L918.0 159.6L920.2 173.5L922.3 191.2L924.5 211.0L926.6 230.9L928.7 248.9L930.9 263.2L933.0 272.5L935.1 275.6L937.3 272.5L939.4 263.3L941.5 249.1L943.7 231.1L945.8 211.3L948.0 191.4L950.1 173.6L952.2 159.5L954.4 150.5L956.5 147.6L958.7 150.9L960.8 160.2L962.9 174.6L965.1 192.7L967.2 212.6L969.3 232.5L971.5 250.5L973.6 264.7L975.8 273.8L977.9 277.0L980.0 273.9L982.2 264.9L984.3 250.7L986.4 232.8L988.6 212.8L990.7 192.7L992.9 174.4L995.0 159.8L997.1 150.2L999.3 146.8L1001.4 149.8L1003.5 159.0L1005.7 173.6L1007.8 192.1L1010.0 212.8L1012.1 233.6L1014.2 252.4L1016.4 267.4L1018.5 277.0L1020.6 280.3L1022.8 277.0L1024.9 267.4L1027.0 252.6L1029.2 234.0L1031.3 213.5L1033.5 193.1L1035.6 174.9L1037.7 160.7L1039.9 151.8L1042.0 149.2L1044.2 153.0L1046.3 162.9L1048.4 177.8L1050.6 196.5L1052.7 217.1L1054.8 237.8L1057.0 256.6L1059.1 271.6L1061.2 281.7L1063.4 285.8L1065.5 283.6L1067.7 275.6L1069.8 262.7L1071.9 246.4L1074.1 228.4L1076.2 210.7L1078.3 195.1L1080.5 183.1L1082.6 175.9L1084.8 174.2L1086.9 178.1L1089.0 187.2L1091.2 200.6L1093.3 217.1L1095.5 235.0L1097.6 252.8L1099.7 268.6L1101.9 281.2L1104.0 289.3L1106.1 292.2L1108.3 289.7L1110.4 282.0L1112.6 269.9L1114.7 254.6L1116.8 237.6L1119.0 220.5L1121.1 205.1L1123.2 192.9L1125.4 185.1L1127.5 182.4L1129.7 185.2L1131.8 193.1L1133.9 205.5L1136.1 221.1L1138.2 238.5L1140.3 255.9L1142.5 271.6L1144.6 284.2L1146.8 292.3L1148.9 295.3L1151.0 292.7L1153.2 285.0L1155.3 272.9L1157.4 257.5L1159.6 240.4L1161.7 223.2L1163.8 207.8L1166.0 195.6L1168.1 187.8L1170.3 185.3L1172.4 188.4L1174.5 196.7L1176.7 209.5L1178.8 225.6L1181.0 243.4L1183.1 261.2L1185.2 277.3L1187.4 290.2L1189.5 298.5L1191.6 301.6L1193.8 299.1L1195.9 291.3L1198.1 279.0L1200.2 263.5L1202.3 246.4L1204.5 229.2L1206.6 213.9L1208.7 201.8L1210.9 194.2L1213.0 191.8L1215.2 194.9L1217.3 203.3L1219.4 216.0L1221.6 231.9L1223.7 249.4L1225.8 266.9L1228.0 282.6L1230.1 295.1L1232.2 303.2L1234.4 306.1L1236.5 303.6L1238.7 296.0L1240.8 284.0L1242.9 268.9L1245.1 252.1L1247.2 235.4L1249.3 220.4L1251.5 208.6L1253.6 201.1L1255.8 198.8L1257.9 201.8L1260.0 209.8L1262.2 222.1L1264.3 237.6L1266.5 254.6L1268.6 271.6L1270.7 286.9L1272.9 299.0L1275.0 306.9" stroke="#7E2F8E"/>
<path d="M762.0 266.8L764.1 274.6L766.3 278.5L768.4 277.6L770.5 272.0L772.7 261.9L774.8 248.1L777.0 231.8L779.1 214.3L781.2 197.5L783.4 182.7L785.5 171.5L787.6 164.8L789.8 163.4L791.9 167.7L794.1 177.3L796.2 191.3L798.3 208.5L800.5 227.0L802.6 244.9L804.8 260.2L806.9 271.3L809.0 276.8L811.2 276.3L813.3 269.5L815.4 257.3L817.6 240.6L819.7 221.2L821.9 200.9L824.0 181.6L826.1 165.4L828.3 153.7L830.4 147.7L832.5 148.1L834.7 154.8L836.8 167.2L839.0 184.0L841.1 203.7L843.2 224.2L845.4 243.7L847.5 260.2L849.6 272.0L851.8 277.9L853.9 277.4L856.0 270.3L858.2 257.3L860.3 239.7L862.5 219.1L864.6 197.4L866.7 176.8L868.9 159.3L871.0 146.7L873.1 140.2L875.3 140.4L877.4 147.5L879.6 160.6L881.7 178.7L883.8 200.0L886.0 222.3L888.1 243.4L890.2 261.4L892.4 274.3L894.5 280.8L896.7 280.3L898.8 272.7L900.9 258.7L903.1 239.5L905.2 217.0L907.4 193.4L909.5 171.0L911.6 151.9L913.8 138.1L915.9 131.0L918.0 131.3L920.2 139.2L922.3 153.7L924.5 173.6L926.6 196.9L928.7 221.2L930.9 244.2L933.0 263.5L935.1 277.3L937.3 284.1L939.4 283.4L941.5 275.2L943.7 260.3L945.8 240.2L948.0 216.9L950.1 192.7L952.2 170.0L954.4 150.9L956.5 137.5L958.7 130.9L960.8 131.8L962.9 140.2L965.1 155.2L967.2 175.4L969.3 198.8L971.5 223.0L973.6 245.8L975.8 264.9L977.9 278.6L980.0 285.4L982.2 284.8L984.3 276.7L986.4 261.9L988.6 241.9L990.7 218.4L992.9 193.8L995.0 170.5L997.1 150.7L999.3 136.5L1001.4 129.2L1003.5 129.8L1005.7 138.0L1007.8 153.3L1010.0 174.1L1012.1 198.4L1014.2 223.8L1016.4 247.8L1018.5 267.9L1020.6 282.2L1022.8 289.3L1024.9 288.5L1027.0 279.9L1029.2 264.3L1031.3 243.5L1033.5 219.5L1035.6 194.6L1037.7 171.5L1039.9 152.3L1042.0 139.0L1044.2 132.8L1046.3 134.2L1048.4 143.2L1050.6 159.0L1052.7 180.0L1054.8 204.3L1057.0 229.4L1059.1 253.0L1061.2 272.9L1063.4 287.2L1065.5 294.6L1067.7 294.5L1069.8 287.2L1071.9 273.5L1074.1 255.1L1076.2 234.0L1078.3 212.3L1080.5 192.3L1082.6 175.9L1084.8 164.7L1086.9 159.7L1089.0 161.5L1091.2 169.8L1093.3 183.8L1095.5 202.1L1097.6 222.9L1099.7 244.3L1101.9 264.3L1104.0 281.0L1106.1 293.0L1108.3 299.0L1110.4 298.5L1112.6 291.6L1114.7 278.9L1116.8 261.8L1119.0 241.8L1121.1 221.0L1123.2 201.3L1125.4 184.8L1127.5 173.1L1129.7 167.2L1131.8 167.9L1133.9 175.1L1136.1 188.1L1138.2 205.5L1140.3 225.9L1142.5 247.1L1144.6 267.1L1146.8 284.0L1148.9 296.1L1151.0 302.2L1153.2 301.8L1155.3 294.9L1157.4 282.2L1159.6 265.0L1161.7 244.9L1163.8 223.9L1166.0 204.2L1168.1 187.6L1170.3 175.9L1172.4 170.2L1174.5 171.2L1176.7 178.7L1178.8 192.1L1181.0 210.0L1183.1 230.9L1185.2 252.5L1187.4 273.0L1189.5 290.2L1191.6 302.5L1193.8 308.7L1195.9 308.3L1198.1 301.3L1200.2 288.5L1202.3 271.1L1204.5 251.0L1206.6 230.0L1208.7 210.4L1210.9 194.0L1213.0 182.4L1215.2 176.9L1217.3 178.0L1219.4 185.6L1221.6 198.8L1223.7 216.6L1225.8 237.0L1228.0 258.3L1230.1 278.2L1232.2 294.9L1234.4 306.9L1236.5 312.9L1238.7 312.4L1240.8 305.5L1242.9 293.0L1245.1 276.1L1247.2 256.4L1249.3 236.0L1251.5 216.8L1253.6 200.8L1255.8 189.6L1257.9 184.1L1260.0 185.1L1262.2 192.4L1264.3 205.2L1266.5 222.5L1268.6 242.4L1270.7 263.0L1272.9 282.4L1275.0 298.7" stroke="#77AC30"/>
<path d="M762.0 189.6L764.1 183.6L766.3 182.3L768.4 185.9L770.5 194.2L772.7 206.3L774.8 221.0L777.0 236.9L779.1 252.3L781.2 265.5L783.4 275.1L785.5 280.0L787.6 279.4L789.8 273.1L791.9 261.4L794.1 245.3L796.2 226.2L798.3 205.8L800.5 186.1L802.6 169.4L804.8 157.3L806.9 151.0L809.0 151.1L811.2 157.6L813.3 169.8L815.4 186.7L817.6 206.4L819.7 227.1L821.9 246.8L824.0 263.3L826.1 275.2L828.3 281.1L830.4 280.5L832.5 273.3L834.7 260.3L836.8 242.7L839.0 222.1L841.1 200.6L843.2 180.2L845.4 162.9L847.5 150.5L849.6 144.0L851.8 144.3L853.9 151.3L856.0 164.4L858.2 182.3L860.3 203.2L862.5 225.3L864.6 246.2L866.7 263.9L868.9 276.6L871.0 283.1L873.1 282.5L875.3 274.9L877.4 261.0L879.6 242.1L881.7 219.9L883.8 196.6L886.0 174.4L888.1 155.7L890.2 142.1L892.4 135.2L894.5 135.4L896.7 143.0L898.8 157.2L900.9 176.7L903.1 199.6L905.2 223.7L907.4 246.6L909.5 266.1L911.6 280.1L913.8 287.2L915.9 286.6L918.0 278.4L920.2 263.2L922.3 242.5L924.5 218.3L926.6 193.0L928.7 169.2L930.9 149.1L933.0 134.8L935.1 127.8L937.3 128.6L939.4 137.3L941.5 152.9L943.7 174.0L945.8 198.4L948.0 223.8L950.1 247.7L952.2 267.7L954.4 282.0L956.5 289.1L958.7 288.4L960.8 280.0L962.9 264.6L965.1 243.9L967.2 219.9L969.3 194.9L971.5 171.4L973.6 151.6L975.8 137.6L977.9 130.5L980.0 131.2L982.2 139.6L984.3 154.9L986.4 175.7L988.6 199.9L990.7 225.3L992.9 249.4L995.0 269.8L997.1 284.5L999.3 292.0L1001.4 291.5L1003.5 283.0L1005.7 267.2L1007.8 245.7L1010.0 220.6L1012.1 194.3L1014.2 169.5L1016.4 148.6L1018.5 133.7L1020.6 126.4L1022.8 127.4L1024.9 136.5L1027.0 152.9L1029.2 174.8L1031.3 200.2L1033.5 226.5L1035.6 251.1L1037.7 271.7L1039.9 286.2L1042.0 293.3L1044.2 292.5L1046.3 283.8L1048.4 268.4L1050.6 247.8L1052.7 224.4L1054.8 200.5L1057.0 178.4L1059.1 160.4L1061.2 148.2L1063.4 143.1L1065.5 145.6L1067.7 155.4L1069.8 171.6L1071.9 192.5L1074.1 216.2L1076.2 240.5L1078.3 263.0L1080.5 281.6L1082.6 294.6L1084.8 301.1L1086.9 300.4L1089.0 292.9L1091.2 279.6L1093.3 261.7L1095.5 241.1L1097.6 219.8L1099.7 199.8L1101.9 183.2L1104.0 171.3L1106.1 165.5L1108.3 166.3L1110.4 173.8L1112.6 187.2L1114.7 205.2L1116.8 226.1L1119.0 247.9L1121.1 268.5L1123.2 285.7L1125.4 298.1L1127.5 304.3L1129.7 303.7L1131.8 296.5L1133.9 283.3L1136.1 265.3L1138.2 244.5L1140.3 222.8L1142.5 202.3L1144.6 185.1L1146.8 172.9L1148.9 166.9L1151.0 167.8L1153.2 175.4L1155.3 189.0L1157.4 207.4L1159.6 228.8L1161.7 251.1L1163.8 272.1L1166.0 289.8L1168.1 302.6L1170.3 309.1L1172.4 308.8L1174.5 301.6L1176.7 288.4L1178.8 270.4L1181.0 249.5L1183.1 227.7L1185.2 207.1L1187.4 189.9L1189.5 177.7L1191.6 171.8L1193.8 172.8L1195.9 180.7L1198.1 194.6L1200.2 213.2L1202.3 234.8L1204.5 257.1L1206.6 278.2L1208.7 295.8L1210.9 308.4L1213.0 314.7L1215.2 314.2L1217.3 307.0L1219.4 293.8L1221.6 276.0L1223.7 255.4L1225.8 233.9L1228.0 213.8L1230.1 197.0L1232.2 185.2L1234.4 179.5L1236.5 180.5L1238.7 188.2L1240.8 201.7L1242.9 219.8L1245.1 240.8L1247.2 262.5L1249.3 282.9L1251.5 300.0L1253.6 312.2L1255.8 318.3L1257.9 317.8L1260.0 310.8L1262.2 297.9L1264.3 280.5L1266.5 260.3L1268.6 239.4L1270.7 219.7L1272.9 203.3L1275.0 191.7" stroke="#4DBEEE"/>
<path d="M762.0 223.9L764.1 210.9L766.3 198.8L768.4 188.6L770.5 181.4L772.7 177.8L774.8 178.3L777.0 182.7L779.1 190.7L781.2 201.5L783.4 214.0L785.5 226.8L787.6 238.7L789.8 248.4L791.9 254.7L794.1 256.8L796.2 254.4L798.3 247.3L800.5 236.1L802.6 221.9L804.8 206.1L806.9 190.1L809.0 175.6L811.2 163.9L813.3 156.3L815.4 153.4L817.6 155.6L819.7 162.7L821.9 173.9L824.0 188.3L826.1 204.3L828.3 220.3L830.4 234.9L832.5 246.5L834.7 254.0L836.8 256.6L839.0 254.1L841.1 246.5L843.2 234.7L845.4 219.8L847.5 203.1L849.6 186.3L851.8 171.0L853.9 158.7L856.0 150.6L858.2 147.6L860.3 149.9L862.5 157.3L864.6 169.2L866.7 184.5L868.9 201.5L871.0 218.7L873.1 234.4L875.3 246.9L877.4 255.0L879.6 257.9L881.7 255.2L883.8 247.1L886.0 234.3L888.1 218.2L890.2 200.1L892.4 181.9L894.5 165.3L896.7 151.9L898.8 143.1L900.9 139.8L903.1 142.3L905.2 150.4L907.4 163.5L909.5 180.1L911.6 198.8L913.8 217.7L915.9 234.9L918.0 248.6L920.2 257.5L922.3 260.7L924.5 257.7L926.6 248.9L928.7 235.1L930.9 217.5L933.0 198.1L935.1 178.7L937.3 161.2L939.4 147.4L941.5 138.6L943.7 135.6L945.8 138.9L948.0 147.9L950.1 162.0L952.2 179.6L954.4 199.1L956.5 218.6L958.7 236.1L960.8 250.0L962.9 259.0L965.1 262.1L967.2 259.1L969.3 250.4L971.5 236.6L973.6 219.3L975.8 200.1L977.9 180.9L980.0 163.5L982.2 149.6L984.3 140.6L986.4 137.4L988.6 140.2L990.7 149.0L992.9 162.8L995.0 180.4L997.1 200.1L999.3 219.9L1001.4 237.9L1003.5 252.3L1005.7 261.7L1007.8 265.1L1010.0 262.1L1012.1 252.9L1014.2 238.5L1016.4 220.3L1018.5 200.1L1020.6 179.9L1022.8 161.7L1024.9 147.4L1027.0 138.4L1029.2 135.5L1031.3 139.0L1033.5 148.6L1035.6 163.3L1037.7 181.6L1039.9 201.7L1042.0 221.7L1044.2 239.6L1046.3 253.7L1048.4 262.7L1050.6 266.0L1052.7 263.5L1054.8 255.4L1057.0 242.8L1059.1 226.8L1061.2 209.2L1063.4 191.8L1065.5 176.4L1067.7 164.6L1069.8 157.5L1071.9 155.9L1074.1 160.0L1076.2 169.5L1078.3 183.4L1080.5 200.3L1082.6 218.7L1084.8 236.7L1086.9 252.7L1089.0 265.3L1091.2 273.4L1093.3 276.3L1095.5 273.9L1097.6 266.6L1099.7 254.9L1101.9 240.3L1104.0 223.9L1106.1 207.5L1108.3 192.7L1110.4 181.0L1112.6 173.5L1114.7 170.9L1116.8 173.7L1119.0 181.4L1121.1 193.4L1123.2 208.5L1125.4 225.2L1127.5 242.0L1129.7 257.2L1131.8 269.2L1133.9 277.0L1136.1 279.8L1138.2 277.3L1140.3 269.8L1142.5 257.9L1144.6 242.9L1146.8 226.3L1148.9 209.7L1151.0 194.7L1153.2 182.8L1155.3 175.3L1157.4 172.8L1159.6 175.7L1161.7 183.7L1163.8 196.0L1166.0 211.6L1168.1 228.8L1170.3 246.0L1172.4 261.6L1174.5 274.1L1176.7 282.3L1178.8 285.3L1181.0 282.9L1183.1 275.5L1185.2 263.6L1187.4 248.6L1189.5 231.9L1191.6 215.1L1193.8 200.1L1195.9 188.3L1198.1 180.8L1200.2 178.5L1202.3 181.5L1204.5 189.7L1206.6 202.1L1208.7 217.7L1210.9 234.9L1213.0 252.0L1215.2 267.4L1217.3 279.7L1219.4 287.6L1221.6 290.5L1223.7 288.1L1225.8 280.6L1228.0 268.9L1230.1 254.2L1232.2 237.8L1234.4 221.5L1236.5 206.9L1238.7 195.3L1240.8 188.0L1242.9 185.8L1245.1 188.7L1247.2 196.6L1249.3 208.6L1251.5 223.7L1253.6 240.4L1255.8 257.0L1257.9 272.0L1260.0 283.9L1262.2 291.6L1264.3 294.4L1266.5 292.0L1268.6 284.6L1270.7 273.2L1272.9 258.8L1275.0 242.8" stroke="#A2142F"/>
<path d="M762.0 216.4L764.1 222.3L766.3 229.1L768.4 236.3L770.5 242.9L772.7 248.1L774.8 251.4L777.0 252.2L779.1 250.2L781.2 245.6L783.4 238.6L785.5 229.6L787.6 219.5L789.8 209.0L791.9 199.2L794.1 191.0L796.2 185.1L798.3 182.3L800.5 182.9L802.6 186.8L804.8 193.7L806.9 202.7L809.0 212.9L811.2 223.3L813.3 232.7L815.4 240.2L817.6 245.0L819.7 246.6L821.9 244.9L824.0 239.9L826.1 232.1L828.3 222.3L830.4 211.4L832.5 200.5L834.7 190.5L836.8 182.5L839.0 177.3L841.1 175.4L843.2 176.9L845.4 181.7L847.5 189.4L849.6 199.2L851.8 210.2L853.9 221.2L856.0 231.2L858.2 239.2L860.3 244.4L862.5 246.2L864.6 244.4L866.7 239.1L868.9 230.8L871.0 220.3L873.1 208.6L875.3 196.8L877.4 186.0L879.6 177.3L881.7 171.6L883.8 169.5L886.0 171.1L888.1 176.3L890.2 184.6L892.4 195.3L894.5 207.2L896.7 219.3L898.8 230.2L900.9 239.0L903.1 244.7L905.2 246.7L907.4 244.8L909.5 239.1L911.6 230.2L913.8 218.7L915.9 206.0L918.0 193.1L920.2 181.4L922.3 172.0L924.5 166.0L926.6 163.8L928.7 165.7L930.9 171.6L933.0 180.9L935.1 192.6L937.3 205.5L939.4 218.6L941.5 230.3L943.7 239.7L945.8 245.7L948.0 247.9L950.1 245.9L952.2 240.1L954.4 231.0L956.5 219.5L958.7 206.8L960.8 194.1L962.9 182.6L965.1 173.5L967.2 167.8L969.3 165.8L971.5 168.0L973.6 173.9L975.8 183.1L977.9 194.7L980.0 207.5L982.2 220.3L984.3 232.0L986.4 241.3L988.6 247.4L990.7 249.6L992.9 247.7L995.0 241.8L997.1 232.5L999.3 220.7L1001.4 207.5L1003.5 194.2L1005.7 182.1L1007.8 172.4L1010.0 166.2L1012.1 163.9L1014.2 166.0L1016.4 172.2L1018.5 181.8L1020.6 194.0L1022.8 207.6L1024.9 221.1L1027.0 233.3L1029.2 243.0L1031.3 249.2L1033.5 251.4L1035.6 249.4L1037.7 243.4L1039.9 234.2L1042.0 222.5L1044.2 209.7L1046.3 197.1L1048.4 185.9L1050.6 177.3L1052.7 172.4L1054.8 171.6L1057.0 175.0L1059.1 182.3L1061.2 192.7L1063.4 205.5L1065.5 219.2L1067.7 232.7L1069.8 244.7L1071.9 254.1L1074.1 260.2L1076.2 262.6L1078.3 261.1L1080.5 256.2L1082.6 248.2L1084.8 238.3L1086.9 227.3L1089.0 216.5L1091.2 207.0L1093.3 199.7L1095.5 195.3L1097.6 194.2L1099.7 196.5L1101.9 202.0L1104.0 210.2L1106.1 220.4L1108.3 231.7L1110.4 242.9L1112.6 253.0L1114.7 261.1L1116.8 266.3L1119.0 268.2L1121.1 266.6L1123.2 261.6L1125.4 253.7L1127.5 243.8L1129.7 232.8L1131.8 221.7L1133.9 211.7L1136.1 203.8L1138.2 198.8L1140.3 197.1L1142.5 199.0L1144.6 204.2L1146.8 212.4L1148.9 222.6L1151.0 234.1L1153.2 245.5L1155.3 255.9L1157.4 264.2L1159.6 269.6L1161.7 271.7L1163.8 270.2L1166.0 265.4L1168.1 257.6L1170.3 247.8L1172.4 236.8L1174.5 225.8L1176.7 215.9L1178.8 208.1L1181.0 203.2L1183.1 201.7L1185.2 203.8L1187.4 209.3L1189.5 217.7L1191.6 228.2L1193.8 239.8L1195.9 251.4L1198.1 261.9L1200.2 270.3L1202.3 275.8L1204.5 277.8L1206.6 276.3L1208.7 271.4L1210.9 263.6L1213.0 253.8L1215.2 242.9L1217.3 232.0L1219.4 222.2L1221.6 214.6L1223.7 209.8L1225.8 208.4L1228.0 210.5L1230.1 215.9L1232.2 224.1L1234.4 234.4L1236.5 245.7L1238.7 257.0L1240.8 267.2L1242.9 275.3L1245.1 280.6L1247.2 282.5L1249.3 281.0L1251.5 276.2L1253.6 268.6L1255.8 259.0L1257.9 248.3L1260.0 237.6L1262.2 228.1L1264.3 220.6L1266.5 215.8L1268.6 214.4L1270.7 216.4L1272.9 221.6L1275.0 229.6" stroke="#0072BD"/>
<path d="M762.0 255.0L764.1 248.1L766.3 239.3L768.4 229.5L770.5 219.4L772.7 210.0L774.8 202.1L777.0 196.4L779.1 193.5L781.2 193.7L783.4 196.9L785.5 202.8L787.6 210.7L789.8 219.9L791.9 229.5L794.1 238.4L796.2 245.6L798.3 250.3L800.5 251.8L802.6 249.8L804.8 244.5L806.9 236.2L809.0 225.8L811.2 214.1L813.3 202.4L815.4 191.7L817.6 183.1L819.7 177.5L821.9 175.4L824.0 177.1L826.1 182.2L828.3 190.5L830.4 201.0L832.5 212.7L834.7 224.4L836.8 235.1L839.0 243.6L841.1 249.0L843.2 250.9L845.4 249.0L847.5 243.4L849.6 234.7L851.8 223.7L853.9 211.4L856.0 199.0L858.2 187.7L860.3 178.6L862.5 172.6L864.6 170.3L866.7 171.9L868.9 177.4L871.0 186.1L873.1 197.3L875.3 209.8L877.4 222.4L879.6 233.9L881.7 243.1L883.8 249.1L886.0 251.2L888.1 249.1L890.2 243.2L892.4 233.8L894.5 221.8L896.7 208.5L898.8 195.0L900.9 182.7L903.1 172.8L905.2 166.3L907.4 163.8L909.5 165.6L911.6 171.6L913.8 181.2L915.9 193.5L918.0 207.2L920.2 221.1L922.3 233.7L924.5 243.8L926.6 250.3L928.7 252.6L930.9 250.4L933.0 243.9L935.1 233.8L937.3 221.1L939.4 207.0L941.5 193.0L943.7 180.3L945.8 170.4L948.0 164.1L950.1 162.0L952.2 164.4L954.4 171.1L956.5 181.3L958.7 194.1L960.8 208.3L962.9 222.4L965.1 235.2L967.2 245.3L969.3 251.8L971.5 254.1L973.6 251.9L975.8 245.5L977.9 235.5L980.0 222.9L982.2 208.9L984.3 194.8L986.4 182.0L988.6 171.8L990.7 165.2L992.9 162.8L995.0 164.8L997.1 171.3L999.3 181.4L1001.4 194.4L1003.5 208.9L1005.7 223.4L1007.8 236.6L1010.0 247.2L1012.1 254.0L1014.2 256.4L1016.4 254.1L1018.5 247.4L1020.6 236.9L1022.8 223.6L1024.9 209.0L1027.0 194.5L1029.2 181.5L1031.3 171.3L1033.5 165.0L1035.6 163.1L1037.7 165.8L1039.9 172.9L1042.0 183.6L1044.2 196.9L1046.3 211.5L1048.4 225.9L1050.6 239.0L1052.7 249.7L1054.8 256.9L1057.0 260.1L1059.1 259.0L1061.2 253.8L1063.4 245.2L1065.5 234.2L1067.7 221.8L1069.8 209.4L1071.9 198.4L1074.1 190.0L1076.2 185.1L1078.3 184.1L1080.5 187.3L1082.6 194.1L1084.8 204.1L1086.9 216.2L1089.0 229.3L1091.2 242.3L1093.3 253.8L1095.5 263.0L1097.6 269.0L1099.7 271.2L1101.9 269.6L1104.0 264.3L1106.1 255.8L1108.3 245.1L1110.4 233.2L1112.6 221.3L1114.7 210.5L1116.8 201.9L1119.0 196.5L1121.1 194.6L1123.2 196.6L1125.4 202.2L1127.5 211.0L1129.7 222.0L1131.8 234.2L1133.9 246.5L1136.1 257.6L1138.2 266.4L1140.3 272.2L1142.5 274.2L1144.6 272.5L1146.8 267.0L1148.9 258.5L1151.0 247.7L1153.2 235.6L1155.3 223.6L1157.4 212.8L1159.6 204.3L1161.7 198.9L1163.8 197.2L1166.0 199.4L1168.1 205.3L1170.3 214.4L1172.4 225.8L1174.5 238.5L1176.7 251.1L1178.8 262.6L1181.0 271.8L1183.1 277.8L1185.2 280.0L1187.4 278.4L1189.5 273.0L1191.6 264.4L1193.8 253.6L1195.9 241.5L1198.1 229.5L1200.2 218.6L1202.3 210.1L1204.5 204.8L1206.6 203.2L1208.7 205.6L1210.9 211.5L1213.0 220.7L1215.2 232.0L1217.3 244.5L1219.4 257.0L1221.6 268.3L1223.7 277.2L1225.8 283.0L1228.0 285.2L1230.1 283.5L1232.2 278.2L1234.4 269.8L1236.5 259.1L1238.7 247.4L1240.8 235.6L1242.9 225.1L1245.1 216.8L1247.2 211.6L1249.3 210.0L1251.5 212.2L1253.6 218.0L1255.8 226.8L1257.9 237.8L1260.0 249.9L1262.2 262.0L1264.3 272.9L1266.5 281.6L1268.6 287.2L1270.7 289.3L1272.9 287.6L1275.0 282.4" stroke="#D95319"/>
<path d="M762.0 237.9L764.1 227.8L766.3 217.7L768.4 208.7L770.5 201.5L772.7 196.9L774.8 195.1L777.0 196.5L779.1 200.8L781.2 207.7L783.4 216.3L785.5 225.9L787.6 235.3L789.8 243.6L791.9 249.9L794.1 253.3L796.2 253.3L798.3 249.8L800.5 242.9L802.6 233.3L804.8 221.8L806.9 209.6L809.0 197.7L811.2 187.4L813.3 179.6L815.4 175.2L817.6 174.5L819.7 177.7L821.9 184.4L824.0 193.9L826.1 205.4L828.3 217.7L830.4 229.6L832.5 239.8L834.7 247.5L836.8 251.7L839.0 252.1L841.1 248.5L843.2 241.4L845.4 231.3L847.5 219.3L849.6 206.4L851.8 193.9L853.9 183.0L856.0 174.8L858.2 170.1L860.3 169.4L862.5 172.7L864.6 179.8L866.7 189.9L868.9 202.2L871.0 215.3L873.1 228.0L875.3 239.0L877.4 247.2L879.6 251.8L881.7 252.3L883.8 248.5L886.0 240.9L888.1 230.0L890.2 217.0L892.4 203.0L894.5 189.5L896.7 177.7L898.8 168.8L900.9 163.6L903.1 162.8L905.2 166.5L907.4 174.2L909.5 185.3L911.6 198.7L913.8 213.1L915.9 227.1L918.0 239.2L920.2 248.3L922.3 253.3L924.5 253.8L926.6 249.8L928.7 241.4L930.9 229.7L933.0 215.6L935.1 200.7L937.3 186.5L939.4 174.2L941.5 165.2L943.7 160.3L945.8 160.0L948.0 164.3L950.1 172.8L952.2 184.7L954.4 198.8L956.5 213.8L958.7 228.1L960.8 240.5L962.9 249.7L965.1 254.8L967.2 255.3L969.3 251.2L971.5 243.0L973.6 231.4L975.8 217.5L977.9 202.8L980.0 188.6L982.2 176.3L984.3 167.1L986.4 162.0L988.6 161.4L990.7 165.4L992.9 173.7L995.0 185.5L997.1 199.6L999.3 214.8L1001.4 229.4L1003.5 242.2L1005.7 251.7L1007.8 257.1L1010.0 257.7L1012.1 253.5L1014.2 244.8L1016.4 232.6L1018.5 218.0L1020.6 202.5L1022.8 187.7L1024.9 175.0L1027.0 165.7L1029.2 160.7L1031.3 160.6L1033.5 165.2L1035.6 174.2L1037.7 186.6L1039.9 201.2L1042.0 216.7L1044.2 231.4L1046.3 244.0L1048.4 253.3L1050.6 258.6L1052.7 259.7L1054.8 256.4L1057.0 249.2L1059.1 238.8L1061.2 226.5L1063.4 213.4L1065.5 201.0L1067.7 190.5L1069.8 183.1L1071.9 179.5L1074.1 180.3L1076.2 185.3L1078.3 194.0L1080.5 205.7L1082.6 219.2L1084.8 233.3L1086.9 246.5L1089.0 257.8L1091.2 266.2L1093.3 271.0L1095.5 271.7L1097.6 268.5L1099.7 261.6L1101.9 251.9L1104.0 240.1L1106.1 227.6L1108.3 215.6L1110.4 205.2L1112.6 197.5L1114.7 193.3L1116.8 193.0L1119.0 196.6L1121.1 203.9L1123.2 214.0L1125.4 226.1L1127.5 239.0L1129.7 251.4L1131.8 262.1L1133.9 270.1L1136.1 274.6L1138.2 275.1L1140.3 271.7L1142.5 264.6L1144.6 254.6L1146.8 242.6L1148.9 229.9L1151.0 217.7L1153.2 207.2L1155.3 199.5L1157.4 195.4L1159.6 195.2L1161.7 199.0L1163.8 206.6L1166.0 217.1L1168.1 229.6L1170.3 242.9L1172.4 255.7L1174.5 266.8L1176.7 275.1L1178.8 279.8L1181.0 280.6L1183.1 277.2L1185.2 270.2L1187.4 260.2L1189.5 248.3L1191.6 235.5L1193.8 223.3L1195.9 212.8L1198.1 205.2L1200.2 201.1L1202.3 201.0L1204.5 205.0L1206.6 212.6L1208.7 223.2L1210.9 235.7L1213.0 248.9L1215.2 261.6L1217.3 272.5L1219.4 280.7L1221.6 285.2L1223.7 285.9L1225.8 282.5L1228.0 275.6L1230.1 265.8L1232.2 254.0L1234.4 241.6L1236.5 229.7L1238.7 219.4L1240.8 212.0L1242.9 208.0L1245.1 207.9L1247.2 211.7L1249.3 219.1L1251.5 229.4L1253.6 241.5L1255.8 254.3L1257.9 266.6L1260.0 277.1L1262.2 285.0L1264.3 289.5L1266.5 290.0L1268.6 286.7L1270.7 279.9L1272.9 270.3L1275.0 258.8" stroke="#EDB120"/>
<path d="M762.0 233.4L764.1 241.7L766.3 249.4L768.4 255.5L770.5 259.4L772.7 260.4L774.8 258.3L777.0 253.1L779.1 245.1L781.2 234.9L783.4 223.5L785.5 211.7L787.6 200.7L789.8 191.3L791.9 184.6L794.1 181.3L796.2 181.7L798.3 185.9L800.5 193.5L802.6 203.7L804.8 215.6L806.9 227.6L809.0 238.7L811.2 247.5L813.3 253.1L815.4 255.1L817.6 253.1L819.7 247.2L821.9 238.1L824.0 226.6L826.1 213.8L828.3 200.9L830.4 189.2L832.5 179.9L834.7 173.8L836.8 171.5L839.0 173.3L841.1 179.1L843.2 188.1L845.4 199.7L847.5 212.6L849.6 225.6L851.8 237.3L853.9 246.7L856.0 252.8L858.2 255.0L860.3 252.8L862.5 246.7L864.6 237.0L866.7 224.7L868.9 211.0L871.0 197.2L873.1 184.6L875.3 174.5L877.4 167.8L879.6 165.3L881.7 167.1L883.8 173.3L886.0 183.1L888.1 195.6L890.2 209.6L892.4 223.7L894.5 236.6L896.7 246.9L898.8 253.6L900.9 256.0L903.1 253.8L905.2 247.1L907.4 236.6L909.5 223.3L911.6 208.3L913.8 193.2L915.9 179.5L918.0 168.5L920.2 161.3L922.3 158.7L924.5 160.9L926.6 167.7L928.7 178.6L930.9 192.3L933.0 207.6L935.1 222.9L937.3 236.8L939.4 247.8L941.5 254.9L943.7 257.4L945.8 255.1L948.0 248.1L950.1 237.3L952.2 223.7L954.4 208.6L956.5 193.5L958.7 180.0L960.8 169.3L962.9 162.4L965.1 160.2L967.2 162.7L969.3 169.8L971.5 180.7L973.6 194.4L975.8 209.6L977.9 224.8L980.0 238.5L982.2 249.4L984.3 256.5L986.4 259.0L988.6 256.8L990.7 249.9L992.9 239.0L995.0 225.1L997.1 209.6L999.3 194.0L1001.4 179.8L1003.5 168.4L1005.7 161.1L1007.8 158.4L1010.0 160.8L1012.1 168.0L1014.2 179.3L1016.4 193.7L1018.5 209.6L1020.6 225.6L1022.8 240.0L1024.9 251.4L1027.0 258.8L1029.2 261.3L1031.3 258.8L1033.5 251.7L1035.6 240.5L1037.7 226.6L1039.9 211.2L1042.0 196.1L1044.2 182.5L1046.3 172.0L1048.4 165.6L1050.6 163.9L1052.7 167.4L1054.8 175.5L1057.0 187.6L1059.1 202.5L1061.2 218.7L1063.4 234.8L1065.5 249.3L1067.7 260.7L1069.8 268.1L1071.9 270.9L1074.1 269.1L1076.2 263.0L1078.3 253.4L1080.5 241.4L1082.6 228.2L1084.8 215.2L1086.9 203.7L1089.0 194.8L1091.2 189.5L1093.3 188.3L1095.5 191.2L1097.6 197.9L1099.7 207.8L1101.9 220.1L1104.0 233.4L1106.1 246.7L1108.3 258.7L1110.4 268.2L1112.6 274.4L1114.7 276.6L1116.8 274.7L1119.0 268.8L1121.1 259.5L1123.2 247.8L1125.4 234.7L1127.5 221.7L1129.7 209.9L1131.8 200.5L1133.9 194.5L1136.1 192.5L1138.2 194.6L1140.3 200.8L1142.5 210.4L1144.6 222.4L1146.8 235.8L1148.9 249.2L1151.0 261.4L1153.2 271.1L1155.3 277.5L1157.4 279.9L1159.6 278.1L1161.7 272.2L1163.8 263.0L1166.0 251.3L1168.1 238.3L1170.3 225.2L1172.4 213.5L1174.5 204.2L1176.7 198.4L1178.8 196.5L1181.0 199.0L1183.1 205.4L1185.2 215.3L1187.4 227.7L1189.5 241.4L1191.6 255.1L1193.8 267.4L1195.9 277.3L1198.1 283.7L1200.2 286.1L1202.3 284.2L1204.5 278.4L1206.6 269.1L1208.7 257.4L1210.9 244.4L1213.0 231.4L1215.2 219.8L1217.3 210.7L1219.4 205.0L1221.6 203.3L1223.7 205.7L1225.8 212.1L1228.0 221.8L1230.1 234.0L1232.2 247.3L1234.4 260.7L1236.5 272.7L1238.7 282.2L1240.8 288.4L1242.9 290.7L1245.1 288.9L1247.2 283.1L1249.3 274.1L1251.5 262.6L1253.6 249.9L1255.8 237.3L1257.9 225.9L1260.0 217.0L1262.2 211.3L1264.3 209.6L1266.5 211.9L1268.6 218.1L1270.7 227.5L1272.9 239.3L1275.0 252.3" stroke="#7E2F8E"/>
<path d="M762.0 253.5L764.1 264.5L766.3 272.7L768.4 277.2L770.5 277.4L772.7 272.8L774.8 263.9L777.0 251.1L779.1 235.7L781.2 218.9L783.4 202.3L785.5 187.5L787.6 175.7L789.8 168.1L791.9 165.7L794.1 168.8L796.2 177.2L798.3 190.1L800.5 206.4L802.6 224.3L804.8 241.9L806.9 257.2L809.0 268.8L811.2 275.2L813.3 275.8L815.4 270.5L817.6 259.8L819.7 244.6L821.9 226.5L824.0 207.1L826.1 188.4L828.3 172.2L830.4 160.0L832.5 153.2L834.7 152.3L836.8 157.5L839.0 168.3L841.1 183.6L843.2 202.0L845.4 221.6L847.5 240.5L849.6 257.0L851.8 269.2L853.9 276.1L856.0 276.8L858.2 271.3L860.3 259.9L862.5 243.8L864.6 224.5L866.7 203.9L868.9 183.8L871.0 166.4L873.1 153.2L875.3 145.7L877.4 144.6L879.6 150.1L881.7 161.6L883.8 178.1L886.0 198.0L888.1 219.3L890.2 239.9L892.4 257.8L894.5 271.2L896.7 278.7L898.8 279.6L900.9 273.7L903.1 261.4L905.2 243.9L907.4 222.9L909.5 200.3L911.6 178.5L913.8 159.4L915.9 145.1L918.0 137.0L920.2 135.9L922.3 142.0L924.5 154.8L926.6 172.9L928.7 194.7L930.9 217.9L933.0 240.2L935.1 259.4L937.3 273.7L939.4 281.6L941.5 282.4L943.7 276.0L945.8 263.0L948.0 244.8L950.1 223.1L952.2 200.1L954.4 178.1L956.5 159.1L958.7 145.1L960.8 137.5L962.9 137.0L965.1 143.6L967.2 156.7L969.3 175.0L971.5 196.7L973.6 219.7L975.8 241.8L977.9 260.9L980.0 275.1L982.2 283.0L984.3 283.9L986.4 277.6L988.6 264.7L990.7 246.5L992.9 224.6L995.0 201.1L997.1 178.4L999.3 158.7L1001.4 143.9L1003.5 135.6L1005.7 134.6L1007.8 141.0L1010.0 154.4L1012.1 173.3L1014.2 196.0L1016.4 220.2L1018.5 243.5L1020.6 263.5L1022.8 278.4L1024.9 286.5L1027.0 287.3L1029.2 280.5L1031.3 267.0L1033.5 248.2L1035.6 225.9L1037.7 202.4L1039.9 180.0L1042.0 161.0L1044.2 147.2L1046.3 140.0L1048.4 140.0L1050.6 147.3L1052.7 161.3L1054.8 180.7L1057.0 203.4L1059.1 227.4L1061.2 250.3L1063.4 270.0L1065.5 284.7L1067.7 292.9L1069.8 294.1L1071.9 288.4L1074.1 276.6L1076.2 260.0L1078.3 240.4L1080.5 220.0L1082.6 200.6L1084.8 184.3L1086.9 172.7L1089.0 166.8L1091.2 167.2L1093.3 173.8L1095.5 186.0L1097.6 202.5L1099.7 221.8L1101.9 242.0L1104.0 261.4L1106.1 278.0L1108.3 290.4L1110.4 297.3L1112.6 298.1L1114.7 292.7L1116.8 281.6L1119.0 266.0L1121.1 247.4L1123.2 227.6L1125.4 208.5L1127.5 192.0L1129.7 179.8L1131.8 173.1L1133.9 172.5L1136.1 178.2L1138.2 189.5L1140.3 205.4L1142.5 224.4L1144.6 244.6L1146.8 264.1L1148.9 280.9L1151.0 293.5L1153.2 300.6L1155.3 301.5L1157.4 296.1L1159.6 285.1L1161.7 269.4L1163.8 250.7L1166.0 230.8L1168.1 211.6L1170.3 195.2L1172.4 183.0L1174.5 176.4L1176.7 176.1L1178.8 182.0L1181.0 193.7L1183.1 210.1L1185.2 229.5L1187.4 250.1L1189.5 270.0L1191.6 287.1L1193.8 299.8L1195.9 307.0L1198.1 307.9L1200.2 302.5L1202.3 291.3L1204.5 275.6L1206.6 256.8L1208.7 236.9L1210.9 217.9L1213.0 201.6L1215.2 189.6L1217.3 183.2L1219.4 183.0L1221.6 189.0L1223.7 200.6L1225.8 216.7L1228.0 235.8L1230.1 255.9L1232.2 275.3L1234.4 291.9L1236.5 304.3L1238.7 311.2L1240.8 312.0L1242.9 306.7L1245.1 295.8L1247.2 280.4L1249.3 262.1L1251.5 242.7L1253.6 224.1L1255.8 208.2L1257.9 196.5L1260.0 190.2L1262.2 189.9L1264.3 195.7L1266.5 206.9L1268.6 222.6L1270.7 241.1L1272.9 260.8L1275.0 279.6" stroke="#77AC30"/>
<path d="M762.0 233.6L764.1 236.8L766.3 239.7L768.4 241.8L770.5 242.7L772.7 242.4L774.8 240.6L777.0 237.4L779.1 233.0L781.2 227.6L783.4 221.8L785.5 216.0L787.6 210.5L789.8 205.9L791.9 202.5L794.1 200.8L796.2 200.9L798.3 202.7L800.5 206.1L802.6 210.7L804.8 216.1L806.9 221.4L809.0 226.2L811.2 229.9L813.3 232.1L815.4 232.5L817.6 231.1L819.7 228.0L821.9 223.5L824.0 217.9L826.1 211.9L828.3 206.0L830.4 200.7L832.5 196.6L834.7 194.1L836.8 193.3L839.0 194.5L841.1 197.4L843.2 201.8L845.4 207.2L847.5 213.1L849.6 219.0L851.8 224.2L853.9 228.1L856.0 230.5L858.2 231.0L860.3 229.6L862.5 226.3L864.6 221.5L866.7 215.6L868.9 209.1L871.0 202.7L873.1 197.0L875.3 192.5L877.4 189.7L879.6 188.9L881.7 190.1L883.8 193.2L886.0 197.9L888.1 203.8L890.2 210.3L892.4 216.7L894.5 222.3L896.7 226.7L898.8 229.3L900.9 230.0L903.1 228.4L905.2 224.9L907.4 219.7L909.5 213.3L911.6 206.3L913.8 199.3L915.9 193.1L918.0 188.3L920.2 185.3L922.3 184.5L924.5 185.9L926.6 189.5L928.7 194.8L930.9 201.3L933.0 208.4L935.1 215.4L937.3 221.6L939.4 226.4L941.5 229.3L943.7 230.1L945.8 228.6L948.0 225.1L950.1 219.9L952.2 213.5L954.4 206.5L956.5 199.7L958.7 193.8L960.8 189.2L962.9 186.5L965.1 186.0L967.2 187.7L969.3 191.4L971.5 196.8L973.6 203.3L975.8 210.4L977.9 217.3L980.0 223.4L982.2 228.1L984.3 231.0L986.4 231.7L988.6 230.2L990.7 226.6L992.9 221.3L995.0 214.7L997.1 207.5L999.3 200.4L1001.4 194.0L1003.5 189.1L1005.7 186.1L1007.8 185.4L1010.0 186.9L1012.1 190.6L1014.2 196.2L1016.4 203.0L1018.5 210.4L1020.6 217.7L1022.8 224.2L1024.9 229.2L1027.0 232.2L1029.2 233.0L1031.3 231.5L1033.5 227.9L1035.6 222.6L1037.7 216.1L1039.9 209.1L1042.0 202.4L1044.2 196.5L1046.3 192.2L1048.4 189.8L1050.6 189.8L1052.7 192.3L1054.8 197.0L1057.0 203.5L1059.1 211.2L1061.2 219.5L1063.4 227.5L1065.5 234.7L1067.7 240.2L1069.8 243.8L1071.9 245.1L1074.1 244.3L1076.2 241.6L1078.3 237.3L1080.5 232.0L1082.6 226.2L1084.8 220.7L1086.9 215.9L1089.0 212.4L1091.2 210.7L1093.3 210.8L1095.5 212.8L1097.6 216.5L1099.7 221.6L1101.9 227.6L1104.0 234.0L1106.1 240.2L1108.3 245.6L1110.4 249.8L1112.6 252.4L1114.7 253.1L1116.8 251.9L1119.0 248.9L1121.1 244.4L1123.2 238.9L1125.4 232.8L1127.5 226.9L1129.7 221.7L1131.8 217.7L1133.9 215.3L1136.1 214.8L1138.2 216.3L1140.3 219.5L1142.5 224.3L1144.6 230.1L1146.8 236.4L1148.9 242.6L1151.0 248.1L1153.2 252.5L1155.3 255.2L1157.4 256.0L1159.6 254.9L1161.7 252.1L1163.8 247.7L1166.0 242.3L1168.1 236.4L1170.3 230.6L1172.4 225.5L1174.5 221.7L1176.7 219.5L1178.8 219.2L1181.0 220.9L1183.1 224.4L1185.2 229.4L1187.4 235.4L1189.5 242.0L1191.6 248.4L1193.8 254.0L1195.9 258.5L1198.1 261.2L1200.2 262.1L1202.3 261.0L1204.5 258.1L1206.6 253.8L1208.7 248.4L1210.9 242.5L1213.0 236.7L1215.2 231.7L1217.3 228.0L1219.4 225.9L1221.6 225.6L1223.7 227.3L1225.8 230.7L1228.0 235.6L1230.1 241.5L1232.2 247.9L1234.4 254.1L1236.5 259.6L1238.7 263.9L1240.8 266.6L1242.9 267.4L1245.1 266.3L1247.2 263.4L1249.3 259.1L1251.5 253.8L1253.6 248.0L1255.8 242.4L1257.9 237.5L1260.0 233.8L1262.2 231.6L1264.3 231.3L1266.5 232.9L1268.6 236.2L1270.7 240.9L1272.9 246.7L1275.0 252.8" stroke="#4DBEEE"/>
<path d="M762.0 235.0L764.1 237.8L766.3 240.0L768.4 241.2L770.5 241.1L772.7 239.6L774.8 236.7L777.0 232.5L779.1 227.4L781.2 221.7L783.4 215.8L785.5 210.3L787.6 205.6L789.8 202.0L791.9 199.9L794.1 199.6L796.2 200.9L798.3 203.9L800.5 208.1L802.6 213.2L804.8 218.5L806.9 223.4L809.0 227.3L811.2 229.8L813.3 230.6L815.4 229.6L817.6 226.8L819.7 222.5L821.9 217.1L824.0 211.1L826.1 205.2L828.3 199.7L830.4 195.3L832.5 192.5L834.7 191.4L836.8 192.2L839.0 194.8L841.1 198.9L843.2 204.1L845.4 210.0L847.5 215.9L849.6 221.2L851.8 225.5L853.9 228.2L856.0 229.1L858.2 228.0L860.3 225.1L862.5 220.6L864.6 214.8L866.7 208.4L868.9 202.0L871.0 196.1L873.1 191.4L875.3 188.2L877.4 187.0L879.6 187.8L881.7 190.5L883.8 194.9L886.0 200.6L888.1 207.0L890.2 213.4L892.4 219.3L894.5 223.9L896.7 226.9L898.8 227.9L900.9 226.9L903.1 223.7L905.2 218.8L907.4 212.6L909.5 205.7L911.6 198.7L913.8 192.3L915.9 187.2L918.0 183.8L920.2 182.5L922.3 183.5L924.5 186.6L926.6 191.6L928.7 197.9L930.9 204.9L933.0 211.9L935.1 218.3L937.3 223.4L939.4 226.7L941.5 227.9L943.7 226.9L945.8 223.8L948.0 218.8L950.1 212.6L952.2 205.7L954.4 198.8L956.5 192.7L958.7 187.8L960.8 184.7L962.9 183.8L965.1 185.0L967.2 188.3L969.3 193.4L971.5 199.8L973.6 206.9L975.8 213.9L977.9 220.2L980.0 225.2L982.2 228.5L984.3 229.6L986.4 228.6L988.6 225.4L990.7 220.4L992.9 214.0L995.0 206.9L997.1 199.7L999.3 193.2L1001.4 187.9L1003.5 184.5L1005.7 183.3L1007.8 184.4L1010.0 187.7L1012.1 192.9L1014.2 199.5L1016.4 206.9L1018.5 214.2L1020.6 220.9L1022.8 226.2L1024.9 229.6L1027.0 230.9L1029.2 229.8L1031.3 226.6L1033.5 221.5L1035.6 215.2L1037.7 208.2L1039.9 201.3L1042.0 195.2L1044.2 190.5L1046.3 187.7L1048.4 187.0L1050.6 188.8L1052.7 192.9L1054.8 199.0L1057.0 206.5L1059.1 214.7L1061.2 222.9L1063.4 230.3L1065.5 236.3L1067.7 240.5L1069.8 242.4L1071.9 242.0L1074.1 239.7L1076.2 235.7L1078.3 230.5L1080.5 224.8L1082.6 219.1L1084.8 214.1L1086.9 210.3L1089.0 208.2L1091.2 208.0L1093.3 209.6L1095.5 213.1L1097.6 218.1L1099.7 224.0L1101.9 230.4L1104.0 236.7L1106.1 242.4L1108.3 246.9L1110.4 249.8L1112.6 250.9L1114.7 250.1L1116.8 247.4L1119.0 243.2L1121.1 237.9L1123.2 231.9L1125.4 225.9L1127.5 220.5L1129.7 216.3L1131.8 213.5L1133.9 212.6L1136.1 213.7L1138.2 216.6L1140.3 221.0L1142.5 226.7L1144.6 232.9L1146.8 239.2L1148.9 244.9L1151.0 249.5L1153.2 252.5L1155.3 253.7L1157.4 253.0L1159.6 250.5L1161.7 246.4L1163.8 241.1L1166.0 235.2L1168.1 229.4L1170.3 224.1L1172.4 220.0L1174.5 217.5L1176.7 216.8L1178.8 218.1L1181.0 221.2L1183.1 226.0L1185.2 231.9L1187.4 238.3L1189.5 244.8L1191.6 250.7L1193.8 255.4L1195.9 258.5L1198.1 259.8L1200.2 259.1L1202.3 256.5L1204.5 252.4L1206.6 247.2L1208.7 241.3L1210.9 235.5L1213.0 230.3L1215.2 226.3L1217.3 223.8L1219.4 223.2L1221.6 224.4L1223.7 227.6L1225.8 232.2L1228.0 238.0L1230.1 244.3L1232.2 250.6L1234.4 256.3L1236.5 260.9L1238.7 263.9L1240.8 265.1L1242.9 264.4L1245.1 261.9L1247.2 257.8L1249.3 252.7L1251.5 246.9L1253.6 241.2L1255.8 236.1L1257.9 232.1L1260.0 229.6L1262.2 229.0L1264.3 230.2L1266.5 233.1L1268.6 237.6L1270.7 243.2L1272.9 249.3L1275.0 255.4" stroke="#A2142F"/>
<path d="M762.0 255.9L764.1 260.9L766.3 263.2L768.4 262.3L770.5 258.1L772.7 250.9L774.8 241.2L777.0 229.7L779.1 217.5L781.2 205.7L783.4 195.3L785.5 187.4L787.6 182.5L789.8 181.3L791.9 183.9L794.1 190.1L796.2 199.4L798.3 210.9L800.5 223.3L802.6 235.4L804.8 245.7L806.9 253.2L809.0 256.9L811.2 256.5L813.3 251.8L815.4 243.4L817.6 232.0L819.7 218.7L821.9 204.7L824.0 191.5L826.1 180.4L828.3 172.4L830.4 168.3L832.5 168.5L834.7 173.0L836.8 181.4L839.0 192.9L841.1 206.3L843.2 220.3L845.4 233.6L847.5 244.8L849.6 252.8L851.8 256.8L853.9 256.4L856.0 251.5L858.2 242.6L860.3 230.5L862.5 216.3L864.6 201.5L866.7 187.4L868.9 175.4L871.0 166.7L873.1 162.2L875.3 162.3L877.4 167.1L879.6 176.1L881.7 188.4L883.8 202.8L886.0 218.0L888.1 232.4L890.2 244.6L892.4 253.4L894.5 257.8L896.7 257.4L898.8 252.2L900.9 242.6L903.1 229.5L905.2 214.1L907.4 197.9L909.5 182.5L911.6 169.5L913.8 160.0L915.9 155.1L918.0 155.3L920.2 160.6L922.3 170.6L924.5 184.1L926.6 200.0L928.7 216.6L930.9 232.3L933.0 245.5L935.1 254.9L937.3 259.6L939.4 259.1L941.5 253.5L943.7 243.4L945.8 229.7L948.0 213.8L950.1 197.3L952.2 181.9L954.4 168.9L956.5 159.7L958.7 155.3L960.8 156.0L962.9 161.8L965.1 172.1L967.2 185.9L969.3 201.8L971.5 218.4L973.6 234.0L975.8 247.1L977.9 256.4L980.0 261.0L982.2 260.6L984.3 255.1L986.4 245.0L988.6 231.3L990.7 215.3L992.9 198.5L995.0 182.6L997.1 169.1L999.3 159.4L1001.4 154.4L1003.5 154.8L1005.7 160.4L1007.8 170.8L1010.0 185.0L1012.1 201.6L1014.2 219.0L1016.4 235.3L1018.5 249.1L1020.6 258.9L1022.8 263.7L1024.9 263.2L1027.0 257.4L1029.2 246.8L1031.3 232.6L1033.5 216.3L1035.6 199.4L1037.7 183.7L1039.9 170.7L1042.0 161.7L1044.2 157.5L1046.3 158.7L1048.4 164.9L1050.6 175.8L1052.7 190.4L1054.8 207.3L1057.0 224.9L1059.1 241.4L1061.2 255.4L1063.4 265.6L1065.5 271.1L1067.7 271.4L1069.8 266.7L1071.9 257.6L1074.1 245.3L1076.2 231.1L1078.3 216.6L1080.5 203.1L1082.6 192.1L1084.8 184.7L1086.9 181.5L1089.0 182.9L1091.2 188.8L1093.3 198.5L1095.5 211.2L1097.6 225.6L1099.7 240.3L1101.9 254.1L1104.0 265.6L1106.1 273.8L1108.3 278.0L1110.4 277.7L1112.6 273.1L1114.7 264.5L1116.8 252.8L1119.0 239.2L1121.1 225.0L1123.2 211.6L1125.4 200.3L1127.5 192.3L1129.7 188.4L1131.8 188.9L1133.9 193.8L1136.1 202.7L1138.2 214.7L1140.3 228.6L1142.5 243.1L1144.6 256.8L1146.8 268.4L1148.9 276.7L1151.0 281.0L1153.2 280.8L1155.3 276.1L1157.4 267.5L1159.6 255.8L1161.7 242.2L1163.8 228.0L1166.0 214.6L1168.1 203.4L1170.3 195.5L1172.4 191.7L1174.5 192.4L1176.7 197.7L1178.8 206.9L1181.0 219.3L1183.1 233.6L1185.2 248.5L1187.4 262.5L1189.5 274.4L1191.6 282.9L1193.8 287.2L1195.9 287.0L1198.1 282.4L1200.2 273.7L1202.3 261.9L1204.5 248.3L1206.6 234.1L1208.7 220.7L1210.9 209.6L1213.0 201.9L1215.2 198.2L1217.3 199.0L1219.4 204.3L1221.6 213.5L1223.7 225.7L1225.8 239.7L1228.0 254.3L1230.1 268.0L1232.2 279.5L1234.4 287.8L1236.5 291.9L1238.7 291.7L1240.8 287.1L1242.9 278.6L1245.1 267.1L1247.2 253.8L1249.3 239.9L1251.5 226.9L1253.6 216.1L1255.8 208.5L1257.9 204.8L1260.0 205.6L1262.2 210.6L1264.3 219.5L1266.5 231.3L1268.6 245.0L1270.7 259.2L1272.9 272.5L1275.0 283.7" stroke="#0072BD"/>
<path d="M762.0 212.8L764.1 216.1L766.3 220.8L768.4 226.4L770.5 232.1L772.7 237.4L774.8 241.6L777.0 244.2L779.1 244.7L781.2 243.0L783.4 239.0L785.5 233.0L787.6 225.4L789.8 216.8L791.9 207.9L794.1 199.6L796.2 192.7L798.3 187.8L800.5 185.5L802.6 186.1L804.8 189.4L806.9 195.2L809.0 202.6L811.2 211.0L813.3 219.4L815.4 227.1L817.6 233.3L819.7 237.2L821.9 238.5L824.0 237.1L826.1 233.0L828.3 226.6L830.4 218.5L832.5 209.6L834.7 200.6L836.8 192.4L839.0 185.8L841.1 181.5L843.2 179.9L845.4 181.1L847.5 185.0L849.6 191.3L851.8 199.3L853.9 208.3L856.0 217.3L858.2 225.5L860.3 232.0L862.5 236.3L864.6 237.7L866.7 236.2L868.9 231.8L871.0 225.0L873.1 216.3L875.3 206.7L877.4 197.0L879.6 188.1L881.7 180.9L883.8 176.2L886.0 174.4L888.1 175.7L890.2 180.0L892.4 186.8L894.5 195.6L896.7 205.4L898.8 215.2L900.9 224.2L903.1 231.4L905.2 236.1L907.4 237.7L909.5 236.1L911.6 231.4L913.8 224.0L915.9 214.6L918.0 204.1L920.2 193.5L922.3 183.9L924.5 176.3L926.6 171.3L928.7 169.5L930.9 171.1L933.0 176.0L935.1 183.6L937.3 193.2L939.4 203.9L941.5 214.5L943.7 224.2L945.8 231.9L948.0 236.8L950.1 238.6L952.2 237.1L954.4 232.3L956.5 224.9L958.7 215.6L960.8 205.2L962.9 194.8L965.1 185.4L967.2 178.0L969.3 173.3L971.5 171.7L973.6 173.4L975.8 178.3L977.9 185.8L980.0 195.2L982.2 205.7L984.3 216.3L986.4 225.8L988.6 233.5L990.7 238.5L992.9 240.3L995.0 238.7L997.1 233.9L999.3 226.3L1001.4 216.6L1003.5 205.7L1005.7 194.8L1007.8 184.9L1010.0 177.0L1012.1 171.9L1014.2 170.1L1016.4 171.8L1018.5 176.8L1020.6 184.8L1022.8 194.8L1024.9 205.9L1027.0 217.0L1029.2 227.0L1031.3 235.0L1033.5 240.1L1035.6 242.0L1037.7 240.4L1039.9 235.6L1042.0 228.1L1044.2 218.7L1046.3 208.3L1048.4 198.1L1050.6 189.2L1052.7 182.6L1054.8 179.0L1057.0 178.7L1059.1 181.8L1061.2 188.0L1063.4 196.8L1065.5 207.3L1067.7 218.6L1069.8 229.6L1071.9 239.4L1074.1 247.2L1076.2 252.2L1078.3 254.3L1080.5 253.2L1082.6 249.3L1084.8 243.0L1086.9 235.0L1089.0 226.2L1091.2 217.5L1093.3 209.9L1095.5 204.0L1097.6 200.4L1099.7 199.5L1101.9 201.4L1104.0 205.9L1106.1 212.5L1108.3 220.9L1110.4 230.1L1112.6 239.3L1114.7 247.6L1116.8 254.2L1119.0 258.5L1121.1 260.1L1123.2 258.7L1125.4 254.7L1127.5 248.3L1129.7 240.1L1131.8 231.1L1133.9 222.1L1136.1 213.9L1138.2 207.5L1140.3 203.4L1142.5 202.0L1144.6 203.6L1146.8 207.9L1148.9 214.7L1151.0 223.1L1153.2 232.5L1155.3 241.9L1157.4 250.5L1159.6 257.4L1161.7 261.9L1163.8 263.7L1166.0 262.5L1168.1 258.6L1170.3 252.3L1172.4 244.3L1174.5 235.3L1176.7 226.4L1178.8 218.4L1181.0 212.0L1183.1 208.1L1185.2 206.9L1187.4 208.7L1189.5 213.2L1191.6 220.1L1193.8 228.8L1195.9 238.4L1198.1 247.9L1200.2 256.6L1202.3 263.5L1204.5 268.0L1206.6 269.7L1208.7 268.5L1210.9 264.6L1213.0 258.3L1215.2 250.3L1217.3 241.4L1219.4 232.6L1221.6 224.7L1223.7 218.5L1225.8 214.6L1228.0 213.5L1230.1 215.3L1232.2 219.7L1234.4 226.5L1236.5 235.0L1238.7 244.3L1240.8 253.5L1242.9 261.9L1245.1 268.6L1247.2 272.9L1249.3 274.6L1251.5 273.4L1253.6 269.5L1255.8 263.3L1257.9 255.5L1260.0 246.8L1262.2 238.1L1264.3 230.4L1266.5 224.3L1268.6 220.4L1270.7 219.3L1272.9 221.0L1275.0 225.3" stroke="#D95319"/>
<path d="M762.0 255.3L764.1 253.5L766.3 249.3L768.4 243.3L770.5 235.6L772.7 227.1L774.8 218.3L777.0 210.2L779.1 203.3L781.2 198.3L783.4 195.8L785.5 195.8L787.6 198.3L789.8 203.1L791.9 209.8L794.1 217.7L796.2 225.8L798.3 233.5L800.5 239.7L802.6 243.7L804.8 245.0L806.9 243.4L809.0 238.9L811.2 232.0L813.3 223.2L815.4 213.4L817.6 203.5L819.7 194.6L821.9 187.4L824.0 182.7L826.1 181.0L828.3 182.3L830.4 186.7L832.5 193.6L834.7 202.3L836.8 212.1L839.0 221.9L841.1 230.8L843.2 237.9L845.4 242.5L847.5 244.0L849.6 242.4L851.8 237.7L853.9 230.4L856.0 221.1L858.2 210.7L860.3 200.2L862.5 190.7L864.6 183.0L866.7 178.0L868.9 176.0L871.0 177.4L873.1 181.9L875.3 189.3L877.4 198.6L879.6 209.2L881.7 219.8L883.8 229.4L886.0 237.1L888.1 242.1L890.2 243.8L892.4 242.1L894.5 237.1L896.7 229.2L898.8 219.1L900.9 207.8L903.1 196.5L905.2 186.1L907.4 177.7L909.5 172.2L911.6 170.1L913.8 171.7L915.9 176.7L918.0 184.8L920.2 195.1L922.3 206.7L924.5 218.4L926.6 228.9L928.7 237.3L930.9 242.7L933.0 244.6L935.1 242.8L937.3 237.4L939.4 229.0L941.5 218.5L943.7 206.8L945.8 195.2L948.0 184.7L950.1 176.5L952.2 171.3L954.4 169.6L956.5 171.6L958.7 177.2L960.8 185.7L962.9 196.4L965.1 208.2L967.2 220.0L969.3 230.6L971.5 239.0L973.6 244.3L975.8 246.2L977.9 244.4L980.0 239.0L982.2 230.7L984.3 220.2L986.4 208.5L988.6 196.7L990.7 186.0L992.9 177.4L995.0 171.8L997.1 169.8L999.3 171.5L1001.4 176.9L1003.5 185.5L1005.7 196.4L1007.8 208.5L1010.0 220.7L1012.1 231.8L1014.2 240.6L1016.4 246.2L1018.5 248.2L1020.6 246.3L1022.8 240.6L1024.9 231.9L1027.0 221.0L1029.2 208.9L1031.3 197.0L1033.5 186.3L1035.6 178.0L1037.7 172.8L1039.9 171.4L1042.0 173.8L1044.2 179.7L1046.3 188.6L1048.4 199.7L1050.6 212.0L1052.7 224.4L1054.8 235.8L1057.0 245.2L1059.1 251.6L1061.2 254.6L1063.4 253.9L1065.5 249.8L1067.7 242.7L1069.8 233.5L1071.9 223.2L1074.1 213.1L1076.2 204.2L1078.3 197.4L1080.5 193.5L1082.6 192.8L1084.8 195.4L1086.9 201.0L1089.0 209.2L1091.2 219.3L1093.3 230.1L1095.5 240.9L1097.6 250.5L1099.7 258.1L1101.9 263.0L1104.0 264.9L1106.1 263.5L1108.3 259.0L1110.4 252.0L1112.6 243.1L1114.7 233.1L1116.8 223.2L1119.0 214.2L1121.1 207.0L1123.2 202.4L1125.4 200.9L1127.5 202.6L1129.7 207.3L1131.8 214.6L1133.9 223.8L1136.1 234.0L1138.2 244.3L1140.3 253.6L1142.5 261.0L1144.6 265.9L1146.8 267.6L1148.9 266.2L1151.0 261.8L1153.2 254.7L1155.3 245.7L1157.4 235.8L1159.6 225.8L1161.7 216.8L1163.8 209.8L1166.0 205.3L1168.1 204.0L1170.3 205.9L1172.4 210.9L1174.5 218.5L1176.7 228.1L1178.8 238.7L1181.0 249.3L1183.1 258.9L1185.2 266.6L1187.4 271.7L1189.5 273.6L1191.6 272.3L1193.8 267.8L1195.9 260.7L1198.1 251.7L1200.2 241.7L1202.3 231.8L1204.5 222.8L1206.6 215.8L1208.7 211.5L1210.9 210.2L1213.0 212.2L1215.2 217.2L1217.3 224.9L1219.4 234.3L1221.6 244.8L1223.7 255.2L1225.8 264.6L1228.0 272.1L1230.1 276.9L1232.2 278.8L1234.4 277.4L1236.5 273.0L1238.7 266.1L1240.8 257.3L1242.9 247.5L1245.1 237.8L1247.2 229.1L1249.3 222.2L1251.5 217.9L1253.6 216.6L1255.8 218.5L1257.9 223.3L1260.0 230.7L1262.2 239.9L1264.3 250.0L1266.5 260.1L1268.6 269.2L1270.7 276.5L1272.9 281.2L1275.0 282.9" stroke="#EDB120"/>
<path d="M762.0 245.3L764.1 237.9L766.3 229.6L768.4 221.2L770.5 213.2L772.7 206.5L774.8 201.7L777.0 199.1L779.1 199.1L781.2 201.5L783.4 206.2L785.5 212.6L787.6 220.0L789.8 227.6L791.9 234.7L794.1 240.5L796.2 244.1L798.3 245.2L800.5 243.4L802.6 238.8L804.8 231.9L806.9 223.1L809.0 213.4L811.2 203.6L813.3 194.7L815.4 187.5L817.6 182.8L819.7 181.1L821.9 182.4L824.0 186.7L826.1 193.5L828.3 202.2L830.4 211.9L832.5 221.6L834.7 230.5L836.8 237.5L839.0 242.0L841.1 243.6L843.2 242.0L845.4 237.3L847.5 230.1L849.6 220.9L851.8 210.6L853.9 200.3L856.0 190.9L858.2 183.3L860.3 178.3L862.5 176.4L864.6 177.7L866.7 182.2L868.9 189.5L871.0 198.7L873.1 209.1L875.3 219.5L877.4 229.0L879.6 236.6L881.7 241.5L883.8 243.2L886.0 241.5L888.1 236.6L890.2 228.7L892.4 218.8L894.5 207.7L896.7 196.5L898.8 186.3L900.9 178.1L903.1 172.6L905.2 170.5L907.4 172.0L909.5 176.9L911.6 184.9L913.8 195.0L915.9 206.4L918.0 217.9L920.2 228.4L922.3 236.8L924.5 242.2L926.6 244.0L928.7 242.2L930.9 236.8L933.0 228.4L935.1 217.8L937.3 206.0L939.4 194.3L941.5 183.8L943.7 175.5L945.8 170.2L948.0 168.5L950.1 170.6L952.2 176.1L954.4 184.7L956.5 195.4L958.7 207.3L960.8 219.1L962.9 229.7L965.1 238.2L967.2 243.7L969.3 245.6L971.5 243.8L973.6 238.5L975.8 230.1L977.9 219.6L980.0 208.0L982.2 196.3L984.3 185.7L986.4 177.2L988.6 171.7L990.7 169.7L992.9 171.4L995.0 176.8L997.1 185.2L999.3 196.0L1001.4 208.0L1003.5 220.1L1005.7 231.0L1007.8 239.8L1010.0 245.5L1012.1 247.5L1014.2 245.7L1016.4 240.1L1018.5 231.3L1020.6 220.2L1022.8 208.0L1024.9 195.9L1027.0 185.0L1029.2 176.5L1031.3 171.2L1033.5 169.6L1035.6 171.9L1037.7 177.8L1039.9 186.8L1042.0 198.0L1044.2 210.2L1046.3 222.4L1048.4 233.3L1050.6 242.1L1052.7 248.1L1054.8 250.7L1057.0 249.9L1059.1 245.8L1061.2 238.8L1063.4 229.8L1065.5 219.7L1067.7 209.7L1069.8 200.7L1071.9 193.8L1074.1 189.8L1076.2 189.2L1078.3 191.9L1080.5 197.8L1082.6 206.4L1084.8 216.7L1086.9 227.8L1089.0 238.8L1091.2 248.6L1093.3 256.4L1095.5 261.5L1097.6 263.4L1099.7 262.2L1101.9 257.9L1104.0 250.9L1106.1 242.0L1108.3 232.2L1110.4 222.2L1112.6 213.3L1114.7 206.2L1116.8 201.7L1119.0 200.2L1121.1 201.8L1123.2 206.6L1125.4 213.9L1127.5 223.0L1129.7 233.2L1131.8 243.5L1133.9 252.7L1136.1 260.1L1138.2 264.9L1140.3 266.6L1142.5 265.2L1144.6 260.6L1146.8 253.5L1148.9 244.5L1151.0 234.5L1153.2 224.5L1155.3 215.6L1157.4 208.5L1159.6 204.0L1161.7 202.6L1163.8 204.5L1166.0 209.5L1168.1 217.1L1170.3 226.7L1172.4 237.3L1174.5 247.8L1176.7 257.4L1178.8 265.1L1181.0 270.2L1183.1 272.2L1185.2 270.8L1187.4 266.4L1189.5 259.3L1191.6 250.3L1193.8 240.3L1195.9 230.3L1198.1 221.3L1200.2 214.3L1202.3 209.9L1204.5 208.6L1206.6 210.6L1208.7 215.7L1210.9 223.3L1213.0 232.8L1215.2 243.3L1217.3 253.8L1219.4 263.3L1221.6 270.8L1223.7 275.7L1225.8 277.5L1228.0 276.2L1230.1 271.8L1232.2 264.8L1234.4 256.0L1236.5 246.2L1238.7 236.5L1240.8 227.7L1242.9 220.8L1245.1 216.5L1247.2 215.2L1249.3 217.1L1251.5 222.0L1253.6 229.4L1255.8 238.6L1257.9 248.8L1260.0 258.9L1262.2 268.1L1264.3 275.3L1266.5 280.1L1268.6 281.8L1270.7 280.5L1272.9 276.1L1275.0 269.3" stroke="#7E2F8E"/>
<path d="M762.0 228.2L764.1 240.6L766.3 252.1L768.4 261.5L770.5 267.5L772.7 269.4L774.8 266.7L777.0 259.6L779.1 248.5L781.2 234.3L783.4 218.2L785.5 201.7L787.6 186.1L789.8 173.1L791.9 163.8L794.1 159.4L796.2 160.4L798.3 166.8L800.5 178.1L802.6 193.1L804.8 210.3L806.9 227.8L809.0 243.8L811.2 256.6L813.3 264.9L815.4 267.8L817.6 264.9L819.7 256.6L821.9 243.5L824.0 226.9L826.1 208.5L828.3 190.0L830.4 173.2L832.5 159.7L834.7 151.0L836.8 147.8L839.0 150.5L841.1 158.8L843.2 171.9L845.4 188.7L847.5 207.3L849.6 226.1L851.8 243.1L853.9 256.8L856.0 265.6L858.2 268.8L860.3 265.8L862.5 257.0L864.6 243.1L866.7 225.5L868.9 205.7L871.0 185.9L873.1 167.8L875.3 153.2L877.4 143.7L879.6 140.1L881.7 142.9L883.8 151.8L886.0 166.0L888.1 184.1L890.2 204.3L892.4 224.8L894.5 243.4L896.7 258.3L898.8 268.0L900.9 271.5L903.1 268.4L905.2 258.8L907.4 243.8L909.5 224.5L911.6 203.0L913.8 181.3L915.9 161.6L918.0 145.8L920.2 135.4L922.3 131.7L924.5 134.9L926.6 144.8L928.7 160.4L930.9 180.3L933.0 202.3L935.1 224.4L937.3 244.4L939.4 260.2L941.5 270.4L943.7 274.0L945.8 270.6L948.0 260.5L950.1 244.9L952.2 225.2L954.4 203.3L956.5 181.5L958.7 161.9L960.8 146.4L962.9 136.5L965.1 133.2L967.2 136.8L969.3 147.0L971.5 162.7L973.6 182.5L975.8 204.3L977.9 226.2L980.0 246.0L982.2 261.7L984.3 272.0L986.4 275.6L988.6 272.4L990.7 262.4L992.9 246.7L995.0 226.7L997.1 204.3L999.3 181.8L1001.4 161.3L1003.5 145.0L1005.7 134.3L1007.8 130.5L1010.0 133.9L1012.1 144.3L1014.2 160.6L1016.4 181.3L1018.5 204.3L1020.6 227.3L1022.8 248.1L1024.9 264.6L1027.0 275.1L1029.2 278.7L1031.3 275.1L1033.5 264.6L1035.6 248.4L1037.7 228.2L1039.9 206.0L1042.0 183.9L1044.2 164.3L1046.3 149.0L1048.4 139.5L1050.6 136.9L1052.7 141.5L1054.8 152.8L1057.0 169.8L1059.1 190.6L1061.2 213.5L1063.4 236.1L1065.5 256.3L1067.7 272.3L1069.8 282.5L1071.9 286.1L1074.1 283.2L1076.2 274.1L1078.3 259.9L1080.5 242.3L1082.6 222.9L1084.8 203.8L1086.9 187.0L1089.0 173.9L1091.2 166.0L1093.3 164.0L1095.5 167.9L1097.6 177.4L1099.7 191.5L1101.9 209.0L1104.0 228.2L1106.1 247.2L1108.3 264.4L1110.4 278.1L1112.6 286.9L1114.7 290.1L1116.8 287.2L1119.0 278.7L1121.1 265.3L1123.2 248.3L1125.4 229.5L1127.5 210.6L1129.7 193.5L1131.8 180.0L1133.9 171.3L1136.1 168.3L1138.2 171.4L1140.3 180.2L1142.5 194.0L1144.6 211.3L1146.8 230.5L1148.9 249.8L1151.0 267.3L1153.2 281.2L1155.3 290.3L1157.4 293.6L1159.6 290.9L1161.7 282.4L1163.8 269.0L1166.0 251.9L1168.1 233.0L1170.3 214.1L1172.4 197.0L1174.5 183.5L1176.7 174.9L1178.8 172.1L1181.0 175.5L1183.1 184.6L1185.2 198.8L1187.4 216.5L1189.5 236.1L1191.6 255.7L1193.8 273.4L1195.9 287.5L1198.1 296.6L1200.2 299.9L1202.3 297.1L1204.5 288.5L1206.6 275.0L1208.7 258.0L1210.9 239.1L1213.0 220.3L1215.2 203.4L1217.3 190.1L1219.4 181.8L1221.6 179.1L1223.7 182.5L1225.8 191.6L1228.0 205.5L1230.1 222.9L1232.2 242.0L1234.4 261.2L1236.5 278.4L1238.7 292.1L1240.8 300.9L1242.9 304.0L1245.1 301.3L1247.2 292.9L1249.3 279.7L1251.5 263.1L1253.6 244.6L1255.8 226.3L1257.9 209.8L1260.0 196.8L1262.2 188.6L1264.3 185.9L1266.5 189.2L1268.6 198.0L1270.7 211.5L1272.9 228.4L1275.0 247.0" stroke="#77AC30"/>
<path d="M762.0 202.3L764.1 203.9L766.3 208.1L768.4 214.5L770.5 222.5L772.7 231.1L774.8 239.5L777.0 246.6L779.1 251.7L781.2 254.0L783.4 253.3L785.5 249.3L787.6 242.2L789.8 232.6L791.9 221.3L794.1 209.1L796.2 197.4L798.3 187.2L800.5 179.6L802.6 175.4L804.8 175.1L806.9 178.7L809.0 185.8L811.2 195.5L813.3 206.9L815.4 218.9L817.6 230.3L819.7 239.9L821.9 246.8L824.0 250.2L826.1 249.8L828.3 245.6L830.4 237.9L832.5 227.5L834.7 215.4L836.8 202.8L839.0 190.8L841.1 180.7L843.2 173.4L845.4 169.6L847.5 169.7L849.6 173.8L851.8 181.3L853.9 191.7L856.0 203.9L858.2 216.7L860.3 228.8L862.5 239.1L864.6 246.4L866.7 250.1L868.9 249.7L871.0 245.3L873.1 237.1L875.3 225.9L877.4 212.9L879.6 199.3L881.7 186.3L883.8 175.3L886.0 167.3L888.1 163.2L890.2 163.3L892.4 167.7L894.5 176.0L896.7 187.3L898.8 200.6L900.9 214.5L903.1 227.8L905.2 239.1L907.4 247.2L909.5 251.3L911.6 250.9L913.8 246.1L915.9 237.2L918.0 225.1L920.2 210.9L922.3 196.1L924.5 182.0L926.6 170.2L928.7 161.7L930.9 157.5L933.0 157.9L935.1 163.0L937.3 172.2L939.4 184.6L941.5 199.0L943.7 214.0L945.8 228.1L948.0 239.9L950.1 248.4L952.2 252.6L954.4 252.3L956.5 247.4L958.7 238.4L960.8 226.3L962.9 212.2L965.1 197.6L967.2 183.8L969.3 172.2L971.5 164.0L973.6 159.9L975.8 160.4L977.9 165.4L980.0 174.4L982.2 186.6L984.3 200.8L986.4 215.6L988.6 229.7L990.7 241.6L992.9 250.2L995.0 254.5L997.1 254.2L999.3 249.3L1001.4 240.1L1003.5 227.5L1005.7 212.9L1007.8 197.5L1010.0 182.9L1012.1 170.7L1014.2 161.9L1016.4 157.5L1018.5 158.0L1020.6 163.3L1022.8 172.9L1024.9 185.8L1027.0 200.8L1029.2 216.4L1031.3 231.0L1033.5 243.3L1035.6 252.0L1037.7 256.3L1039.9 255.9L1042.0 250.9L1044.2 241.8L1046.3 229.7L1048.4 215.7L1050.6 201.4L1052.7 188.4L1054.8 177.9L1057.0 171.1L1059.1 168.5L1061.2 170.5L1063.4 177.0L1065.5 187.2L1067.7 200.3L1069.8 215.0L1071.9 229.9L1074.1 243.7L1076.2 255.2L1078.3 263.3L1080.5 267.5L1082.6 267.4L1084.8 263.2L1086.9 255.5L1089.0 245.0L1091.2 233.0L1093.3 220.6L1095.5 209.1L1097.6 199.6L1099.7 193.0L1101.9 189.9L1104.0 190.6L1106.1 195.1L1108.3 203.1L1110.4 213.7L1112.6 226.1L1114.7 239.0L1116.8 251.1L1119.0 261.3L1121.1 268.6L1123.2 272.3L1125.4 272.0L1127.5 267.8L1129.7 260.0L1131.8 249.5L1133.9 237.3L1136.1 224.6L1138.2 212.6L1140.3 202.5L1142.5 195.4L1144.6 191.9L1146.8 192.5L1148.9 197.0L1151.0 205.1L1153.2 215.9L1155.3 228.6L1157.4 241.7L1159.6 254.2L1161.7 264.7L1163.8 272.3L1166.0 276.2L1168.1 276.2L1170.3 272.1L1172.4 264.5L1174.5 254.0L1176.7 241.9L1178.8 229.2L1181.0 217.2L1183.1 207.2L1185.2 200.2L1187.4 196.8L1189.5 197.5L1191.6 202.2L1193.8 210.5L1195.9 221.6L1198.1 234.4L1200.2 247.8L1202.3 260.3L1204.5 270.8L1206.6 278.4L1208.7 282.2L1210.9 282.1L1213.0 277.9L1215.2 270.3L1217.3 259.9L1219.4 247.9L1221.6 235.3L1223.7 223.6L1225.8 213.8L1228.0 207.0L1230.1 203.7L1232.2 204.5L1234.4 209.1L1236.5 217.2L1238.7 228.0L1240.8 240.4L1242.9 253.3L1245.1 265.5L1247.2 275.7L1249.3 283.0L1251.5 286.7L1253.6 286.5L1255.8 282.5L1257.9 275.0L1260.0 264.8L1262.2 253.0L1264.3 240.8L1266.5 229.3L1268.6 219.7L1270.7 212.9L1272.9 209.7L1275.0 210.4" stroke="#4DBEEE"/>
<path d="M762.0 267.6L764.1 265.3L766.3 259.7L768.4 251.1L770.5 240.1L772.7 227.8L774.8 215.2L777.0 203.4L779.1 193.6L781.2 186.6L783.4 183.2L785.5 183.7L787.6 187.9L789.8 195.7L791.9 206.2L794.1 218.4L796.2 231.1L798.3 242.9L800.5 252.5L802.6 258.8L804.8 261.0L806.9 258.8L809.0 252.2L811.2 241.8L813.3 228.7L815.4 214.1L817.6 199.4L819.7 186.0L821.9 175.4L824.0 168.4L826.1 165.8L828.3 167.9L830.4 174.5L832.5 184.9L834.7 198.1L836.8 212.8L839.0 227.6L841.1 241.0L843.2 251.7L845.4 258.6L847.5 261.0L849.6 258.7L851.8 251.7L853.9 240.8L856.0 226.9L858.2 211.4L860.3 195.8L862.5 181.6L864.6 170.2L866.7 162.7L868.9 159.8L871.0 161.9L873.1 168.8L875.3 179.9L877.4 194.0L879.6 209.9L881.7 225.9L883.8 240.4L886.0 252.0L888.1 259.5L890.2 262.2L892.4 259.7L894.5 252.2L896.7 240.4L898.8 225.4L900.9 208.6L903.1 191.6L905.2 176.1L907.4 163.6L909.5 155.4L911.6 152.3L913.8 154.7L915.9 162.3L918.0 174.5L920.2 190.0L922.3 207.4L924.5 224.9L926.6 240.8L928.7 253.5L930.9 261.6L933.0 264.4L935.1 261.6L937.3 253.5L939.4 240.9L941.5 225.1L943.7 207.5L945.8 190.0L948.0 174.3L950.1 161.9L952.2 153.9L954.4 151.4L956.5 154.3L958.7 162.6L960.8 175.3L962.9 191.3L965.1 208.9L967.2 226.5L969.3 242.4L971.5 254.9L973.6 263.0L975.8 265.8L977.9 263.0L980.0 255.1L982.2 242.6L984.3 226.8L986.4 209.2L988.6 191.5L990.7 175.5L992.9 162.6L995.0 154.2L997.1 151.2L999.3 153.8L1001.4 161.9L1003.5 174.7L1005.7 191.0L1007.8 209.2L1010.0 227.5L1012.1 244.1L1014.2 257.3L1016.4 265.8L1018.5 268.8L1020.6 265.9L1022.8 257.4L1024.9 244.3L1027.0 227.8L1029.2 209.7L1031.3 191.6L1033.5 175.5L1035.6 162.9L1037.7 155.1L1039.9 152.7L1042.0 156.1L1044.2 164.9L1046.3 178.1L1048.4 194.6L1050.6 212.7L1052.7 231.0L1054.8 247.6L1057.0 261.0L1059.1 269.9L1061.2 273.7L1063.4 272.1L1065.5 265.3L1067.7 254.1L1069.8 239.8L1071.9 224.0L1074.1 208.4L1076.2 194.6L1078.3 184.0L1080.5 177.7L1082.6 176.3L1084.8 179.9L1086.9 188.1L1089.0 200.1L1091.2 214.9L1093.3 230.9L1095.5 246.7L1097.6 260.8L1099.7 272.0L1101.9 279.2L1104.0 281.9L1106.1 279.7L1108.3 272.9L1110.4 262.3L1112.6 248.8L1114.7 233.8L1116.8 218.8L1119.0 205.3L1121.1 194.5L1123.2 187.6L1125.4 185.3L1127.5 187.7L1129.7 194.8L1131.8 205.7L1133.9 219.5L1136.1 234.8L1138.2 250.1L1140.3 264.0L1142.5 275.1L1144.6 282.2L1146.8 284.8L1148.9 282.6L1151.0 275.8L1153.2 265.1L1155.3 251.6L1157.4 236.5L1159.6 221.4L1161.7 207.8L1163.8 197.1L1166.0 190.3L1168.1 188.1L1170.3 190.8L1172.4 198.2L1174.5 209.5L1176.7 223.7L1178.8 239.5L1181.0 255.2L1183.1 269.5L1185.2 280.8L1187.4 288.3L1189.5 291.0L1191.6 288.8L1193.8 282.0L1195.9 271.2L1198.1 257.6L1200.2 242.5L1202.3 227.4L1204.5 213.8L1206.6 203.2L1208.7 196.5L1210.9 194.4L1213.0 197.2L1215.2 204.6L1217.3 215.9L1219.4 230.0L1221.6 245.5L1223.7 261.0L1225.8 274.9L1228.0 286.0L1230.1 293.2L1232.2 295.8L1234.4 293.6L1236.5 286.9L1238.7 276.3L1240.8 263.0L1242.9 248.3L1245.1 233.5L1247.2 220.3L1249.3 209.9L1251.5 203.4L1253.6 201.3L1255.8 204.0L1257.9 211.1L1260.0 222.0L1262.2 235.7L1264.3 250.7L1266.5 265.8L1268.6 279.3L1270.7 290.1L1272.9 297.0L1275.0 299.5" stroke="#A2142F"/>
<path d="M762.0 226.7L764.1 224.5L766.3 223.0L768.4 222.2L770.5 222.1L772.7 222.7L774.8 223.7L777.0 225.1L779.1 226.6L781.2 227.9L783.4 228.8L785.5 229.1L787.6 228.7L789.8 227.5L791.9 225.4L794.1 222.7L796.2 219.5L798.3 216.0L800.5 212.5L802.6 209.4L804.8 207.0L806.9 205.4L809.0 204.6L811.2 204.8L813.3 205.9L815.4 207.8L817.6 210.2L819.7 213.0L821.9 215.8L824.0 218.3L826.1 220.3L828.3 221.6L830.4 221.9L832.5 221.4L834.7 219.9L836.8 217.7L839.0 214.9L841.1 211.8L843.2 208.7L845.4 205.9L847.5 203.5L849.6 202.0L851.8 201.3L853.9 201.6L856.0 202.8L858.2 204.8L860.3 207.4L862.5 210.3L864.6 213.3L866.7 216.0L868.9 218.1L871.0 219.4L873.1 219.8L875.3 219.2L877.4 217.6L879.6 215.2L881.7 212.2L883.8 208.8L886.0 205.5L888.1 202.4L890.2 199.9L892.4 198.2L894.5 197.5L896.7 197.9L898.8 199.2L900.9 201.4L903.1 204.3L905.2 207.5L907.4 210.8L909.5 213.8L911.6 216.2L913.8 217.7L915.9 218.2L918.0 217.5L920.2 215.9L922.3 213.3L924.5 210.1L926.6 206.5L928.7 203.0L930.9 199.8L933.0 197.2L935.1 195.6L937.3 195.1L939.4 195.7L941.5 197.4L943.7 200.1L945.8 203.4L948.0 207.0L950.1 210.7L952.2 214.0L954.4 216.7L956.5 218.4L958.7 219.1L960.8 218.7L962.9 217.2L965.1 214.8L967.2 211.7L969.3 208.3L971.5 204.9L973.6 201.8L975.8 199.3L977.9 197.7L980.0 197.1L982.2 197.7L984.3 199.2L986.4 201.7L988.6 204.9L990.7 208.5L992.9 212.0L995.0 215.2L997.1 217.8L999.3 219.5L1001.4 220.2L1003.5 219.6L1005.7 218.0L1007.8 215.4L1010.0 212.1L1012.1 208.5L1014.2 204.8L1016.4 201.5L1018.5 198.8L1020.6 197.1L1022.8 196.6L1024.9 197.3L1027.0 199.1L1029.2 201.9L1031.3 205.4L1033.5 209.3L1035.6 213.2L1037.7 216.7L1039.9 219.5L1042.0 221.4L1044.2 222.2L1046.3 222.0L1048.4 220.7L1050.6 218.6L1052.7 216.2L1054.8 213.8L1057.0 211.5L1059.1 209.7L1061.2 208.6L1063.4 208.4L1065.5 209.2L1067.7 211.0L1069.8 213.6L1071.9 216.9L1074.1 220.8L1076.2 224.8L1078.3 228.8L1080.5 232.4L1082.6 235.4L1084.8 237.4L1086.9 238.4L1089.0 238.5L1091.2 237.6L1093.3 235.9L1095.5 233.7L1097.6 231.2L1099.7 228.6L1101.9 226.3L1104.0 224.4L1106.1 223.2L1108.3 222.9L1110.4 223.5L1112.6 225.0L1114.7 227.3L1116.8 230.2L1119.0 233.3L1121.1 236.4L1123.2 239.2L1125.4 241.5L1127.5 243.0L1129.7 243.6L1131.8 243.2L1133.9 241.9L1136.1 239.8L1138.2 237.2L1140.3 234.2L1142.5 231.3L1144.6 228.7L1146.8 226.7L1148.9 225.4L1151.0 225.1L1153.2 225.8L1155.3 227.5L1157.4 229.9L1159.6 232.9L1161.7 236.3L1163.8 239.6L1166.0 242.7L1168.1 245.2L1170.3 246.9L1172.4 247.7L1174.5 247.6L1176.7 246.5L1178.8 244.6L1181.0 242.1L1183.1 239.3L1185.2 236.5L1187.4 234.0L1189.5 232.1L1191.6 231.0L1193.8 230.8L1195.9 231.6L1198.1 233.3L1200.2 235.8L1202.3 238.9L1204.5 242.3L1206.6 245.7L1208.7 248.8L1210.9 251.3L1213.0 253.0L1215.2 253.7L1217.3 253.5L1219.4 252.4L1221.6 250.5L1223.7 248.1L1225.8 245.3L1228.0 242.6L1230.1 240.1L1232.2 238.3L1234.4 237.2L1236.5 237.0L1238.7 237.7L1240.8 239.4L1242.9 241.8L1245.1 244.8L1247.2 248.0L1249.3 251.3L1251.5 254.2L1253.6 256.6L1255.8 258.2L1257.9 258.9L1260.0 258.6L1262.2 257.5L1264.3 255.6L1266.5 253.2L1268.6 250.4L1270.7 247.7L1272.9 245.3L1275.0 243.4" stroke="#0072BD"/>
<path d="M762.0 241.5L764.1 241.1L766.3 239.7L768.4 237.1L770.5 233.5L772.7 229.1L774.8 224.3L777.0 219.4L779.1 214.8L781.2 210.9L783.4 208.0L785.5 206.2L787.6 205.7L789.8 206.5L791.9 208.5L794.1 211.4L796.2 215.0L798.3 218.8L800.5 222.4L802.6 225.3L804.8 227.2L806.9 227.8L809.0 226.9L811.2 224.5L813.3 220.9L815.4 216.4L817.6 211.4L819.7 206.4L821.9 201.9L824.0 198.2L826.1 195.8L828.3 194.9L830.4 195.5L832.5 197.6L834.7 201.0L836.8 205.4L839.0 210.2L841.1 215.1L843.2 219.5L845.4 223.0L847.5 225.2L849.6 225.9L851.8 225.0L853.9 222.6L856.0 218.8L858.2 214.1L860.3 208.8L862.5 203.4L864.6 198.6L866.7 194.7L868.9 192.0L871.0 191.0L873.1 191.6L875.3 193.8L877.4 197.4L879.6 202.0L881.7 207.2L883.8 212.5L886.0 217.3L888.1 221.1L890.2 223.5L892.4 224.3L894.5 223.4L896.7 220.8L898.8 216.8L900.9 211.7L903.1 205.9L905.2 200.2L907.4 194.9L909.5 190.6L911.6 187.8L913.8 186.7L915.9 187.4L918.0 189.9L920.2 193.9L922.3 199.1L924.5 204.9L926.6 210.7L928.7 216.0L930.9 220.2L933.0 222.9L935.1 223.8L937.3 222.9L939.4 220.3L941.5 216.1L943.7 210.9L945.8 205.2L948.0 199.4L950.1 194.3L952.2 190.2L954.4 187.7L956.5 186.9L958.7 188.0L960.8 190.9L962.9 195.2L965.1 200.6L967.2 206.5L969.3 212.4L971.5 217.8L973.6 222.0L975.8 224.7L977.9 225.6L980.0 224.7L982.2 222.0L984.3 217.9L986.4 212.6L988.6 206.7L990.7 200.8L992.9 195.4L995.0 191.1L997.1 188.3L999.3 187.3L1001.4 188.2L1003.5 190.9L1005.7 195.2L1007.8 200.6L1010.0 206.7L1012.1 212.8L1014.2 218.4L1016.4 222.8L1018.5 225.6L1020.6 226.6L1022.8 225.7L1024.9 222.9L1027.0 218.6L1029.2 213.3L1031.3 207.4L1033.5 201.5L1035.6 196.3L1037.7 192.3L1039.9 189.9L1042.0 189.4L1044.2 190.7L1046.3 193.9L1048.4 198.5L1050.6 204.4L1052.7 211.0L1054.8 217.8L1057.0 224.2L1059.1 229.5L1061.2 233.4L1063.4 235.6L1065.5 235.8L1067.7 234.3L1069.8 231.2L1071.9 227.0L1074.1 222.3L1076.2 217.7L1078.3 213.6L1080.5 210.6L1082.6 209.0L1084.8 208.9L1086.9 210.5L1089.0 213.6L1091.2 218.0L1093.3 223.3L1095.5 228.9L1097.6 234.5L1099.7 239.5L1101.9 243.5L1104.0 246.0L1106.1 247.0L1108.3 246.4L1110.4 244.3L1112.6 240.8L1114.7 236.4L1116.8 231.5L1119.0 226.5L1121.1 222.1L1123.2 218.5L1125.4 216.3L1127.5 215.6L1129.7 216.4L1131.8 218.8L1133.9 222.5L1136.1 227.2L1138.2 232.4L1140.3 237.6L1142.5 242.3L1144.6 246.1L1146.8 248.6L1148.9 249.6L1151.0 249.0L1153.2 246.9L1155.3 243.5L1157.4 239.1L1159.6 234.3L1161.7 229.4L1163.8 225.1L1166.0 221.7L1168.1 219.6L1170.3 219.1L1172.4 220.2L1174.5 222.9L1176.7 226.9L1178.8 231.8L1181.0 237.3L1183.1 242.7L1185.2 247.7L1187.4 251.7L1189.5 254.3L1191.6 255.4L1193.8 254.9L1195.9 252.8L1198.1 249.5L1200.2 245.1L1202.3 240.3L1204.5 235.5L1206.6 231.2L1208.7 227.8L1210.9 225.8L1213.0 225.3L1215.2 226.5L1217.3 229.1L1219.4 233.1L1221.6 238.0L1223.7 243.3L1225.8 248.7L1228.0 253.5L1230.1 257.4L1232.2 259.9L1234.4 261.0L1236.5 260.4L1238.7 258.4L1240.8 255.0L1242.9 250.8L1245.1 246.0L1247.2 241.3L1249.3 237.1L1251.5 233.8L1253.6 231.8L1255.8 231.2L1257.9 232.3L1260.0 234.8L1262.2 238.6L1264.3 243.3L1266.5 248.5L1268.6 253.6L1270.7 258.3L1272.9 262.0L1275.0 264.5" stroke="#D95319"/>
<path d="M762.0 213.4L764.1 212.8L766.3 213.6L768.4 215.5L770.5 218.5L772.7 222.0L774.8 225.7L777.0 229.0L779.1 231.7L781.2 233.2L783.4 233.3L785.5 231.8L787.6 228.8L789.8 224.3L791.9 218.8L794.1 212.6L796.2 206.3L798.3 200.4L800.5 195.7L802.6 192.4L804.8 191.0L806.9 191.6L809.0 193.9L811.2 197.7L813.3 202.7L815.4 208.3L817.6 213.9L819.7 219.0L821.9 223.1L824.0 225.7L826.1 226.6L828.3 225.6L830.4 222.8L832.5 218.5L834.7 213.1L836.8 207.0L839.0 200.9L841.1 195.4L843.2 191.0L845.4 188.0L847.5 186.9L849.6 187.6L851.8 190.2L853.9 194.3L856.0 199.6L858.2 205.6L860.3 211.6L862.5 217.1L864.6 221.4L866.7 224.2L868.9 225.2L871.0 224.1L873.1 221.1L875.3 216.5L877.4 210.6L879.6 204.1L881.7 197.5L883.8 191.5L886.0 186.6L888.1 183.4L890.2 182.2L892.4 183.0L894.5 185.9L896.7 190.4L898.8 196.2L900.9 202.8L903.1 209.4L905.2 215.4L907.4 220.2L909.5 223.3L911.6 224.4L913.8 223.2L915.9 220.0L918.0 215.0L920.2 208.7L922.3 201.6L924.5 194.5L926.6 188.1L928.7 183.0L930.9 179.7L933.0 178.6L935.1 179.7L937.3 183.0L939.4 188.1L941.5 194.6L943.7 201.7L945.8 208.9L948.0 215.4L950.1 220.6L952.2 223.9L954.4 225.2L956.5 224.2L958.7 221.1L960.8 216.2L962.9 210.0L965.1 203.1L967.2 196.2L969.3 190.0L971.5 185.0L973.6 181.9L975.8 180.8L977.9 181.9L980.0 185.1L982.2 190.1L984.3 196.4L986.4 203.4L988.6 210.5L990.7 216.9L992.9 222.1L995.0 225.4L997.1 226.6L999.3 225.6L1001.4 222.3L1003.5 217.2L1005.7 210.7L1007.8 203.4L1010.0 196.1L1012.1 189.4L1014.2 184.2L1016.4 180.8L1018.5 179.6L1020.6 180.8L1022.8 184.2L1024.9 189.6L1027.0 196.4L1029.2 203.8L1031.3 211.3L1033.5 218.1L1035.6 223.4L1037.7 226.9L1039.9 228.3L1042.0 227.4L1044.2 224.3L1046.3 219.5L1048.4 213.4L1050.6 206.9L1052.7 200.7L1054.8 195.5L1057.0 191.8L1059.1 190.0L1061.2 190.4L1063.4 192.9L1065.5 197.4L1067.7 203.5L1069.8 210.6L1071.9 218.2L1074.1 225.6L1076.2 232.2L1078.3 237.5L1080.5 241.0L1082.6 242.6L1084.8 242.1L1086.9 239.6L1089.0 235.7L1091.2 230.6L1093.3 225.1L1095.5 219.5L1097.6 214.6L1099.7 210.7L1101.9 208.4L1104.0 207.7L1106.1 208.8L1108.3 211.8L1110.4 216.3L1112.6 221.9L1114.7 228.0L1116.8 234.2L1119.0 239.8L1121.1 244.2L1123.2 247.1L1125.4 248.1L1127.5 247.3L1129.7 244.6L1131.8 240.3L1133.9 235.0L1136.1 229.0L1138.2 223.0L1140.3 217.6L1142.5 213.3L1144.6 210.7L1146.8 209.8L1148.9 211.0L1151.0 214.0L1153.2 218.6L1155.3 224.3L1157.4 230.7L1159.6 237.1L1161.7 242.9L1163.8 247.6L1166.0 250.7L1168.1 252.0L1170.3 251.3L1172.4 248.8L1174.5 244.7L1176.7 239.5L1178.8 233.6L1181.0 227.8L1183.1 222.5L1185.2 218.4L1187.4 215.8L1189.5 215.2L1191.6 216.4L1193.8 219.6L1195.9 224.3L1198.1 230.2L1200.2 236.7L1202.3 243.1L1204.5 249.0L1206.6 253.7L1208.7 256.8L1210.9 258.0L1213.0 257.3L1215.2 254.8L1217.3 250.7L1219.4 245.5L1221.6 239.7L1223.7 233.9L1225.8 228.8L1228.0 224.7L1230.1 222.2L1232.2 221.6L1234.4 222.8L1236.5 225.9L1238.7 230.5L1240.8 236.2L1242.9 242.4L1245.1 248.7L1247.2 254.3L1249.3 258.9L1251.5 261.8L1253.6 263.0L1255.8 262.3L1257.9 259.8L1260.0 255.8L1262.2 250.6L1264.3 244.9L1266.5 239.3L1268.6 234.2L1270.7 230.2L1272.9 227.7L1275.0 227.0" stroke="#EDB120"/>
<path d="M762.0 218.2L764.1 219.1L766.3 221.3L768.4 224.5L770.5 228.3L772.7 232.2L774.8 235.9L777.0 238.7L779.1 240.3L781.2 240.5L783.4 239.0L785.5 235.8L787.6 231.2L789.8 225.3L791.9 218.7L794.1 212.0L796.2 205.8L798.3 200.6L800.5 196.9L802.6 195.2L804.8 195.7L806.9 198.2L809.0 202.3L811.2 207.7L813.3 213.7L815.4 219.8L817.6 225.3L819.7 229.7L821.9 232.6L824.0 233.5L826.1 232.4L828.3 229.4L830.4 224.8L832.5 218.9L834.7 212.4L836.8 205.8L839.0 199.9L841.1 195.1L843.2 191.9L845.4 190.7L847.5 191.5L849.6 194.3L851.8 198.8L853.9 204.6L856.0 211.0L858.2 217.5L860.3 223.4L862.5 228.1L864.6 231.2L866.7 232.2L868.9 231.0L871.0 227.8L873.1 222.8L875.3 216.5L877.4 209.5L879.6 202.4L881.7 195.9L883.8 190.7L886.0 187.2L888.1 185.9L890.2 186.8L892.4 189.9L894.5 194.8L896.7 201.1L898.8 208.1L900.9 215.3L903.1 221.8L905.2 227.0L907.4 230.3L909.5 231.5L911.6 230.3L913.8 226.8L915.9 221.4L918.0 214.6L920.2 207.0L922.3 199.3L924.5 192.3L926.6 186.8L928.7 183.2L930.9 181.9L933.0 183.1L935.1 186.6L937.3 192.2L939.4 199.1L941.5 206.9L943.7 214.6L945.8 221.6L948.0 227.2L950.1 230.8L952.2 232.2L954.4 231.1L956.5 227.7L958.7 222.4L960.8 215.7L962.9 208.2L965.1 200.8L967.2 194.0L969.3 188.7L971.5 185.3L973.6 184.1L975.8 185.3L977.9 188.8L980.0 194.2L982.2 201.1L984.3 208.7L986.4 216.3L988.6 223.2L990.7 228.8L992.9 232.4L995.0 233.7L997.1 232.6L999.3 229.1L1001.4 223.6L1003.5 216.5L1005.7 208.7L1007.8 200.7L1010.0 193.6L1012.1 187.8L1014.2 184.1L1016.4 182.9L1018.5 184.1L1020.6 187.8L1022.8 193.6L1024.9 200.9L1027.0 208.9L1029.2 217.0L1031.3 224.3L1033.5 230.1L1035.6 233.9L1037.7 235.3L1039.9 234.2L1042.0 230.9L1044.2 225.6L1046.3 218.9L1048.4 211.6L1050.6 204.6L1052.7 198.6L1054.8 194.3L1057.0 192.1L1059.1 192.3L1061.2 195.0L1063.4 199.8L1065.5 206.5L1067.7 214.3L1069.8 222.6L1071.9 230.6L1074.1 237.8L1076.2 243.6L1078.3 247.4L1080.5 249.0L1082.6 248.4L1084.8 245.8L1086.9 241.4L1089.0 235.8L1091.2 229.7L1093.3 223.7L1095.5 218.3L1097.6 214.2L1099.7 211.7L1101.9 211.0L1104.0 212.4L1106.1 215.6L1108.3 220.4L1110.4 226.5L1112.6 233.2L1114.7 239.8L1116.8 245.9L1119.0 250.7L1121.1 253.8L1123.2 254.9L1125.4 254.0L1127.5 251.1L1129.7 246.5L1131.8 240.6L1133.9 234.1L1136.1 227.6L1138.2 221.8L1140.3 217.1L1142.5 214.2L1144.6 213.3L1146.8 214.5L1148.9 217.7L1151.0 222.6L1153.2 228.8L1155.3 235.7L1157.4 242.6L1159.6 248.8L1161.7 253.9L1163.8 257.2L1166.0 258.6L1168.1 257.9L1170.3 255.1L1172.4 250.7L1174.5 244.9L1176.7 238.6L1178.8 232.2L1181.0 226.5L1183.1 222.0L1185.2 219.2L1187.4 218.5L1189.5 219.8L1191.6 223.2L1193.8 228.3L1195.9 234.6L1198.1 241.6L1200.2 248.6L1202.3 254.9L1204.5 260.0L1206.6 263.3L1208.7 264.6L1210.9 263.9L1213.0 261.1L1215.2 256.6L1217.3 251.0L1219.4 244.7L1221.6 238.4L1223.7 232.7L1225.8 228.3L1228.0 225.6L1230.1 224.9L1232.2 226.2L1234.4 229.5L1236.5 234.5L1238.7 240.7L1240.8 247.4L1242.9 254.2L1245.1 260.3L1247.2 265.2L1249.3 268.4L1251.5 269.6L1253.6 268.9L1255.8 266.1L1257.9 261.7L1260.0 256.1L1262.2 249.9L1264.3 243.8L1266.5 238.2L1268.6 233.9L1270.7 231.2L1272.9 230.4L1275.0 231.7" stroke="#7E2F8E"/>
<path d="M762.0 215.3L764.1 226.2L766.3 238.0L768.4 249.5L770.5 259.3L772.7 266.4L774.8 269.8L777.0 269.1L779.1 264.0L781.2 254.8L783.4 242.3L785.5 227.5L787.6 211.6L789.8 196.1L791.9 182.5L794.1 172.1L796.2 166.0L798.3 165.1L800.5 169.3L802.6 178.6L804.8 191.8L806.9 207.6L809.0 224.2L811.2 240.0L813.3 253.4L815.4 262.9L817.6 267.7L819.7 267.2L821.9 261.4L824.0 250.8L826.1 236.4L828.3 219.6L830.4 202.1L832.5 185.5L834.7 171.5L836.8 161.4L839.0 156.3L841.1 156.5L843.2 162.3L845.4 172.9L847.5 187.3L849.6 204.3L851.8 222.0L853.9 238.9L856.0 253.1L858.2 263.3L860.3 268.5L862.5 268.0L864.6 261.8L866.7 250.6L868.9 235.3L871.0 217.3L873.1 198.5L875.3 180.6L877.4 165.4L879.6 154.4L881.7 148.8L883.8 149.0L886.0 155.1L888.1 166.6L890.2 182.3L892.4 200.7L894.5 220.0L896.7 238.4L898.8 254.0L900.9 265.2L903.1 270.9L905.2 270.5L907.4 263.9L909.5 251.6L911.6 234.9L913.8 215.4L915.9 194.8L918.0 175.3L920.2 158.8L922.3 146.9L924.5 140.9L926.6 141.4L928.7 148.3L930.9 161.0L933.0 178.2L935.1 198.3L937.3 219.2L939.4 238.8L941.5 255.4L943.7 267.2L945.8 273.1L948.0 272.5L950.1 265.5L952.2 252.9L954.4 235.9L956.5 216.1L958.7 195.5L960.8 176.1L962.9 159.9L965.1 148.5L967.2 142.8L969.3 143.6L971.5 150.7L973.6 163.4L975.8 180.5L977.9 200.3L980.0 221.0L982.2 240.5L984.3 257.0L986.4 268.8L988.6 274.8L990.7 274.4L992.9 267.5L995.0 254.8L997.1 237.4L999.3 217.1L1001.4 195.8L1003.5 175.6L1005.7 158.5L1007.8 146.2L1010.0 140.0L1012.1 140.6L1014.2 147.8L1016.4 161.1L1018.5 179.0L1020.6 199.9L1022.8 221.7L1024.9 242.1L1027.0 259.3L1029.2 271.5L1031.3 277.5L1033.5 276.8L1035.6 269.6L1037.7 256.5L1039.9 239.1L1042.0 219.0L1044.2 198.3L1046.3 179.0L1048.4 163.1L1050.6 152.2L1052.7 147.5L1054.8 149.5L1057.0 157.9L1059.1 172.0L1061.2 190.2L1063.4 211.0L1065.5 232.3L1067.7 252.1L1069.8 268.5L1071.9 280.0L1074.1 285.8L1076.2 285.5L1078.3 279.3L1080.5 267.9L1082.6 252.7L1084.8 235.3L1086.9 217.4L1089.0 200.8L1091.2 187.2L1093.3 177.9L1095.5 173.7L1097.6 175.0L1099.7 181.7L1101.9 193.1L1104.0 208.2L1106.1 225.5L1108.3 243.5L1110.4 260.4L1112.6 274.7L1114.7 284.8L1116.8 290.0L1119.0 289.5L1121.1 283.6L1123.2 272.8L1125.4 258.1L1127.5 241.0L1129.7 223.1L1131.8 206.3L1133.9 192.2L1136.1 182.2L1138.2 177.2L1140.3 177.8L1142.5 184.0L1144.6 195.2L1146.8 210.2L1148.9 227.7L1151.0 246.0L1153.2 263.2L1155.3 277.8L1157.4 288.2L1159.6 293.6L1161.7 293.3L1163.8 287.5L1166.0 276.7L1168.1 262.0L1170.3 244.9L1172.4 227.0L1174.5 210.2L1176.7 196.1L1178.8 186.1L1181.0 181.3L1183.1 182.2L1185.2 188.6L1187.4 200.1L1189.5 215.5L1191.6 233.3L1193.8 251.9L1195.9 269.3L1198.1 284.0L1200.2 294.5L1202.3 299.8L1204.5 299.5L1206.6 293.6L1208.7 282.7L1210.9 268.0L1213.0 250.9L1215.2 233.2L1217.3 216.6L1219.4 202.7L1221.6 193.0L1223.7 188.3L1225.8 189.3L1228.0 195.7L1230.1 207.0L1232.2 222.1L1234.4 239.4L1236.5 257.5L1238.7 274.5L1240.8 288.7L1242.9 298.9L1245.1 304.0L1247.2 303.6L1249.3 297.8L1251.5 287.2L1253.6 272.9L1255.8 256.2L1257.9 238.9L1260.0 222.6L1262.2 209.1L1264.3 199.5L1266.5 194.9L1268.6 195.8L1270.7 202.0L1272.9 213.0L1275.0 227.6" stroke="#77AC30"/>
<path d="M762.0 244.4L764.1 246.1L766.3 246.3L768.4 244.6L770.5 241.0L772.7 235.9L774.8 229.4L777.0 222.3L779.1 214.9L781.2 208.1L783.4 202.3L785.5 198.1L787.6 195.7L789.8 195.5L791.9 197.4L794.1 201.2L796.2 206.7L798.3 213.1L800.5 219.9L802.6 226.2L804.8 231.4L806.9 234.7L809.0 235.8L811.2 234.5L813.3 230.8L815.4 225.2L817.6 218.1L819.7 210.2L821.9 202.2L824.0 195.0L826.1 189.3L828.3 185.5L830.4 184.1L832.5 185.2L834.7 188.6L836.8 194.2L839.0 201.2L841.1 209.0L843.2 216.9L845.4 224.0L847.5 229.7L849.6 233.3L851.8 234.5L853.9 233.2L856.0 229.4L858.2 223.4L860.3 215.9L862.5 207.5L864.6 199.1L866.7 191.3L868.9 185.1L871.0 181.0L873.1 179.4L875.3 180.5L877.4 184.1L879.6 190.0L881.7 197.6L883.8 206.0L886.0 214.5L888.1 222.3L890.2 228.5L892.4 232.5L894.5 233.9L896.7 232.5L898.8 228.4L900.9 222.0L903.1 213.8L905.2 204.7L907.4 195.5L909.5 187.1L911.6 180.3L913.8 175.9L915.9 174.2L918.0 175.4L920.2 179.5L922.3 186.1L924.5 194.4L926.6 203.7L928.7 213.1L930.9 221.6L933.0 228.3L935.1 232.7L937.3 234.2L939.4 232.7L941.5 228.5L943.7 221.8L945.8 213.5L948.0 204.2L950.1 195.0L952.2 186.6L954.4 180.1L956.5 176.0L958.7 174.6L960.8 176.3L962.9 180.7L965.1 187.6L967.2 196.1L969.3 205.5L971.5 214.9L973.6 223.3L975.8 230.0L977.9 234.3L980.0 235.8L982.2 234.4L984.3 230.2L986.4 223.5L988.6 215.1L990.7 205.6L992.9 196.1L995.0 187.5L997.1 180.6L999.3 176.1L1001.4 174.4L1003.5 175.8L1005.7 180.2L1007.8 187.1L1010.0 195.9L1012.1 205.6L1014.2 215.4L1016.4 224.3L1018.5 231.3L1020.6 235.8L1022.8 237.4L1024.9 235.9L1027.0 231.5L1029.2 224.6L1031.3 216.0L1033.5 206.5L1035.6 197.1L1037.7 188.7L1039.9 182.2L1042.0 178.2L1044.2 177.2L1046.3 179.2L1048.4 184.0L1050.6 191.3L1052.7 200.6L1054.8 211.0L1057.0 221.4L1059.1 230.9L1061.2 238.7L1063.4 244.1L1065.5 246.6L1067.7 246.1L1069.8 242.8L1071.9 237.2L1074.1 230.0L1076.2 222.0L1078.3 214.2L1080.5 207.2L1082.6 202.0L1084.8 199.0L1086.9 198.5L1089.0 200.6L1091.2 205.1L1093.3 211.7L1095.5 219.7L1097.6 228.4L1099.7 236.9L1101.9 244.5L1104.0 250.5L1106.1 254.4L1108.3 255.9L1110.4 254.8L1112.6 251.2L1114.7 245.6L1116.8 238.4L1119.0 230.5L1121.1 222.5L1123.2 215.3L1125.4 209.6L1127.5 205.9L1129.7 204.7L1131.8 206.1L1133.9 209.9L1136.1 215.7L1138.2 223.2L1140.3 231.4L1142.5 239.7L1144.6 247.2L1146.8 253.2L1148.9 257.1L1151.0 258.6L1153.2 257.5L1155.3 254.0L1157.4 248.4L1159.6 241.3L1161.7 233.4L1163.8 225.5L1166.0 218.4L1168.1 212.8L1170.3 209.3L1172.4 208.3L1174.5 209.9L1176.7 214.0L1178.8 220.2L1181.0 227.9L1183.1 236.5L1185.2 245.0L1187.4 252.8L1189.5 259.0L1191.6 263.0L1193.8 264.6L1195.9 263.6L1198.1 260.1L1200.2 254.5L1202.3 247.4L1204.5 239.5L1206.6 231.6L1208.7 224.5L1210.9 219.0L1213.0 215.6L1215.2 214.7L1217.3 216.3L1219.4 220.4L1221.6 226.5L1223.7 234.1L1225.8 242.5L1228.0 250.9L1230.1 258.4L1232.2 264.4L1234.4 268.4L1236.5 269.9L1238.7 268.8L1240.8 265.4L1242.9 259.9L1245.1 252.9L1247.2 245.2L1249.3 237.5L1251.5 230.6L1253.6 225.1L1255.8 221.8L1257.9 220.8L1260.0 222.3L1262.2 226.2L1264.3 232.1L1266.5 239.5L1268.6 247.6L1270.7 255.7L1272.9 263.0L1275.0 268.9" stroke="#4DBEEE"/>
<path d="M762.0 205.5L764.1 202.5L766.3 202.5L768.4 205.5L770.5 211.1L772.7 218.8L774.8 227.7L777.0 237.0L779.1 245.6L781.2 252.5L783.4 256.9L785.5 258.2L787.6 256.1L789.8 250.5L791.9 241.9L794.1 230.9L796.2 218.4L798.3 205.7L800.5 194.0L802.6 184.5L804.8 178.3L806.9 175.9L809.0 177.4L811.2 182.8L813.3 191.4L815.4 202.4L817.6 214.8L819.7 227.3L821.9 238.6L824.0 247.7L826.1 253.5L828.3 255.5L830.4 253.4L832.5 247.5L834.7 238.3L836.8 226.6L839.0 213.6L841.1 200.5L843.2 188.7L845.4 179.1L847.5 172.9L849.6 170.5L851.8 172.3L853.9 178.0L856.0 187.2L858.2 199.0L860.3 212.2L862.5 225.5L864.6 237.5L866.7 247.2L868.9 253.4L871.0 255.6L873.1 253.5L875.3 247.2L877.4 237.3L879.6 224.7L881.7 210.6L883.8 196.5L886.0 183.6L888.1 173.2L890.2 166.4L892.4 163.9L894.5 165.8L896.7 172.1L898.8 182.1L900.9 195.0L903.1 209.3L905.2 223.9L907.4 237.1L909.5 247.8L911.6 254.7L913.8 257.1L915.9 254.9L918.0 248.0L920.2 237.2L922.3 223.5L924.5 208.3L926.6 193.0L928.7 179.1L930.9 168.1L933.0 161.0L935.1 158.6L937.3 161.1L939.4 168.2L941.5 179.3L943.7 193.2L945.8 208.6L948.0 224.0L950.1 237.9L952.2 248.9L954.4 256.0L956.5 258.5L958.7 256.2L960.8 249.4L962.9 238.6L965.1 225.0L967.2 209.9L969.3 194.8L971.5 181.2L973.6 170.4L975.8 163.5L977.9 161.1L980.0 163.4L982.2 170.3L984.3 181.1L986.4 194.9L988.6 210.1L990.7 225.5L992.9 239.5L995.0 250.7L997.1 258.0L999.3 260.6L1001.4 258.3L1003.5 251.3L1005.7 240.1L1007.8 226.0L1010.0 210.1L1012.1 194.2L1014.2 179.8L1016.4 168.4L1018.5 161.0L1020.6 158.6L1022.8 161.2L1024.9 168.6L1027.0 180.2L1029.2 194.7L1031.3 210.8L1033.5 226.7L1035.6 241.0L1037.7 252.4L1039.9 259.6L1042.0 262.2L1044.2 259.9L1046.3 252.9L1048.4 242.2L1050.6 228.8L1052.7 214.4L1054.8 200.4L1057.0 188.2L1059.1 178.9L1061.2 173.6L1063.4 172.8L1065.5 176.7L1067.7 184.9L1069.8 196.5L1071.9 210.5L1074.1 225.7L1076.2 240.7L1078.3 253.9L1080.5 264.4L1082.6 271.1L1084.8 273.6L1086.9 271.7L1089.0 265.8L1091.2 256.6L1093.3 245.1L1095.5 232.3L1097.6 219.7L1099.7 208.4L1101.9 199.4L1104.0 193.7L1106.1 191.8L1108.3 194.1L1110.4 200.2L1112.6 209.7L1114.7 221.7L1116.8 234.9L1119.0 248.1L1121.1 260.0L1123.2 269.5L1125.4 275.7L1127.5 277.9L1129.7 275.9L1131.8 270.0L1133.9 260.7L1136.1 248.9L1138.2 235.8L1140.3 222.7L1142.5 210.9L1144.6 201.5L1146.8 195.6L1148.9 193.6L1151.0 195.9L1153.2 202.2L1155.3 211.9L1157.4 224.1L1159.6 237.7L1161.7 251.2L1163.8 263.5L1166.0 273.4L1168.1 279.9L1170.3 282.3L1172.4 280.5L1174.5 274.7L1176.7 265.5L1178.8 253.7L1181.0 240.7L1183.1 227.6L1185.2 215.8L1187.4 206.5L1189.5 200.7L1191.6 198.8L1193.8 201.3L1195.9 207.7L1198.1 217.6L1200.2 230.0L1202.3 243.7L1204.5 257.3L1206.6 269.6L1208.7 279.4L1210.9 285.8L1213.0 288.1L1215.2 286.3L1217.3 280.4L1219.4 271.2L1221.6 259.6L1223.7 246.7L1225.8 233.9L1228.0 222.3L1230.1 213.3L1232.2 207.6L1234.4 205.8L1236.5 208.2L1238.7 214.5L1240.8 224.2L1242.9 236.2L1245.1 249.4L1247.2 262.7L1249.3 274.6L1251.5 284.1L1253.6 290.2L1255.8 292.4L1257.9 290.6L1260.0 284.9L1262.2 275.9L1264.3 264.5L1266.5 251.9L1268.6 239.3L1270.7 228.0L1272.9 219.1L1275.0 213.5" stroke="#A2142F"/>
<path d="M762.0 195.3L764.1 199.3L766.3 206.7L768.4 216.7L770.5 228.3L772.7 240.3L774.8 251.4L777.0 260.4L779.1 266.2L781.2 268.1L783.4 265.6L785.5 258.8L787.6 248.2L789.8 234.4L791.9 218.8L794.1 202.7L796.2 187.7L798.3 175.4L800.5 167.0L802.6 163.4L804.8 165.2L806.9 172.1L809.0 183.3L811.2 197.7L813.3 213.8L815.4 230.0L817.6 244.7L819.7 256.5L821.9 264.1L824.0 266.7L826.1 264.1L828.3 256.5L830.4 244.5L832.5 229.3L834.7 212.4L836.8 195.5L839.0 180.1L841.1 167.7L843.2 159.7L845.4 156.7L847.5 159.1L849.6 166.6L851.8 178.6L853.9 193.9L856.0 211.1L858.2 228.3L860.3 244.1L862.5 256.6L864.6 264.8L866.7 267.6L868.9 264.9L871.0 256.8L873.1 244.0L875.3 227.7L877.4 209.5L879.6 191.2L881.7 174.5L883.8 161.1L886.0 152.3L888.1 149.0L890.2 151.6L892.4 159.8L894.5 172.9L896.7 189.5L898.8 208.2L900.9 227.1L903.1 244.2L905.2 258.0L907.4 267.0L909.5 270.3L911.6 267.4L913.8 258.5L915.9 244.6L918.0 226.8L920.2 207.0L922.3 187.1L924.5 169.0L926.6 154.5L928.7 145.2L930.9 142.0L933.0 145.1L935.1 154.3L937.3 168.7L939.4 186.8L941.5 206.9L943.7 227.0L945.8 245.2L948.0 259.5L950.1 268.8L952.2 272.1L954.4 269.0L956.5 260.0L958.7 245.8L960.8 228.0L962.9 208.3L965.1 188.6L967.2 170.8L969.3 156.7L971.5 147.7L973.6 144.6L975.8 147.7L977.9 156.8L980.0 171.0L982.2 188.8L984.3 208.7L986.4 228.7L988.6 246.8L990.7 261.3L992.9 270.8L995.0 274.3L997.1 271.3L999.3 262.1L1001.4 247.7L1003.5 229.3L1005.7 208.7L1007.8 188.0L1010.0 169.2L1012.1 154.3L1014.2 144.6L1016.4 141.2L1018.5 144.5L1020.6 154.1L1022.8 169.2L1024.9 188.1L1027.0 209.0L1029.2 229.9L1031.3 248.6L1033.5 263.4L1035.6 272.9L1037.7 276.2L1039.9 273.0L1042.0 263.7L1044.2 249.3L1046.3 231.4L1048.4 211.7L1050.6 192.3L1052.7 175.4L1054.8 162.5L1057.0 155.0L1059.1 153.4L1061.2 158.2L1063.4 168.7L1065.5 184.0L1067.7 202.6L1069.8 222.6L1071.9 242.3L1074.1 259.8L1076.2 273.5L1078.3 282.3L1080.5 285.4L1082.6 282.8L1084.8 274.8L1086.9 262.3L1089.0 246.8L1091.2 229.8L1093.3 213.0L1095.5 198.1L1097.6 186.4L1099.7 179.1L1101.9 176.9L1104.0 179.9L1106.1 188.0L1108.3 200.4L1110.4 216.0L1112.6 233.2L1114.7 250.5L1116.8 266.0L1119.0 278.4L1121.1 286.5L1123.2 289.3L1125.4 286.7L1127.5 278.9L1129.7 266.7L1131.8 251.3L1133.9 234.2L1136.1 217.0L1138.2 201.5L1140.3 189.3L1142.5 181.4L1144.6 178.8L1146.8 181.6L1148.9 189.7L1151.0 202.3L1153.2 218.2L1155.3 235.7L1157.4 253.4L1159.6 269.3L1161.7 282.1L1163.8 290.4L1166.0 293.5L1168.1 291.1L1170.3 283.4L1172.4 271.2L1174.5 255.8L1176.7 238.6L1178.8 221.5L1181.0 206.0L1183.1 193.7L1185.2 186.0L1187.4 183.5L1189.5 186.6L1191.6 194.9L1193.8 207.7L1195.9 223.8L1198.1 241.7L1200.2 259.4L1202.3 275.5L1204.5 288.2L1206.6 296.5L1208.7 299.4L1210.9 296.9L1213.0 289.2L1215.2 277.0L1217.3 261.7L1219.4 244.7L1221.6 227.8L1223.7 212.6L1225.8 200.6L1228.0 193.1L1230.1 190.7L1232.2 193.8L1234.4 202.0L1236.5 214.5L1238.7 230.2L1240.8 247.5L1242.9 264.7L1245.1 280.3L1247.2 292.7L1249.3 300.6L1251.5 303.5L1253.6 301.0L1255.8 293.4L1257.9 281.6L1260.0 266.6L1262.2 250.0L1264.3 233.4L1266.5 218.6L1268.6 206.9L1270.7 199.5L1272.9 197.1L1275.0 200.0" stroke="#0072BD"/>
<path d="M762.0 268.8L764.1 269.5L766.3 266.2L768.4 259.0L770.5 248.4L772.7 235.3L774.8 220.8L777.0 206.1L779.1 192.8L781.2 182.0L783.4 174.7L785.5 171.7L787.6 173.3L789.8 179.3L791.9 189.4L794.1 202.5L796.2 217.4L798.3 232.6L800.5 246.3L802.6 257.1L804.8 263.7L806.9 265.3L809.0 261.6L811.2 253.0L813.3 240.2L815.4 224.4L817.6 207.2L819.7 190.2L821.9 175.1L824.0 163.5L826.1 156.3L828.3 154.5L830.4 158.0L832.5 166.7L834.7 179.6L836.8 195.6L839.0 212.9L841.1 230.1L843.2 245.2L845.4 257.0L847.5 264.1L849.6 265.8L851.8 261.9L853.9 252.8L856.0 239.3L858.2 222.6L860.3 204.3L862.5 186.2L864.6 170.2L866.7 157.6L868.9 149.9L871.0 147.7L873.1 151.4L875.3 160.6L877.4 174.4L879.6 191.5L881.7 210.3L883.8 228.8L886.0 245.3L888.1 258.0L890.2 265.8L892.4 267.8L894.5 263.6L896.7 253.8L898.8 239.1L900.9 221.0L903.1 201.1L905.2 181.5L907.4 163.9L909.5 150.2L911.6 141.8L913.8 139.5L915.9 143.5L918.0 153.7L920.2 168.9L922.3 187.7L924.5 208.2L926.6 228.5L928.7 246.4L930.9 260.2L933.0 268.5L935.1 270.5L937.3 266.0L939.4 255.4L941.5 239.8L943.7 220.8L945.8 200.2L948.0 180.0L950.1 162.3L952.2 148.7L954.4 140.7L956.5 138.9L958.7 143.6L960.8 154.3L962.9 170.0L965.1 189.2L967.2 209.9L969.3 230.1L971.5 247.9L973.6 261.6L975.8 269.8L977.9 271.8L980.0 267.4L982.2 256.9L984.3 241.5L986.4 222.5L988.6 201.7L990.7 181.3L992.9 163.1L995.0 148.9L997.1 140.3L999.3 138.0L1001.4 142.5L1003.5 153.1L1005.7 169.1L1007.8 188.8L1010.0 210.3L1012.1 231.4L1014.2 250.1L1016.4 264.6L1018.5 273.2L1020.6 275.2L1022.8 270.5L1024.9 259.5L1027.0 243.3L1029.2 223.5L1031.3 202.2L1033.5 181.5L1035.6 163.4L1037.7 149.8L1039.9 141.9L1042.0 140.5L1044.2 145.7L1046.3 157.0L1048.4 173.2L1050.6 193.0L1052.7 214.4L1054.8 235.4L1057.0 254.0L1059.1 268.5L1061.2 277.6L1063.4 280.6L1065.5 277.1L1067.7 267.8L1069.8 253.6L1071.9 236.2L1074.1 217.6L1076.2 199.6L1078.3 184.1L1080.5 172.7L1082.6 166.3L1084.8 165.7L1086.9 170.8L1089.0 181.2L1091.2 195.8L1093.3 213.2L1095.5 231.7L1097.6 249.7L1099.7 265.5L1101.9 277.6L1104.0 284.9L1106.1 286.8L1108.3 283.1L1110.4 274.2L1112.6 261.0L1114.7 244.7L1116.8 227.1L1119.0 209.7L1121.1 194.4L1123.2 182.7L1125.4 175.6L1127.5 174.0L1129.7 177.9L1131.8 187.1L1133.9 200.6L1136.1 217.2L1138.2 235.2L1140.3 252.9L1142.5 268.5L1144.6 280.6L1146.8 288.0L1148.9 289.9L1151.0 286.2L1153.2 277.2L1155.3 263.9L1157.4 247.6L1159.6 229.8L1161.7 212.4L1163.8 197.0L1166.0 185.3L1168.1 178.3L1170.3 176.9L1172.4 181.1L1174.5 190.7L1176.7 204.6L1178.8 221.7L1181.0 240.1L1183.1 258.2L1185.2 274.3L1187.4 286.7L1189.5 294.2L1191.6 296.2L1193.8 292.5L1195.9 283.5L1198.1 270.1L1200.2 253.6L1202.3 235.8L1204.5 218.4L1206.6 203.1L1208.7 191.5L1210.9 184.7L1213.0 183.4L1215.2 187.7L1217.3 197.3L1219.4 211.1L1221.6 227.9L1223.7 246.1L1225.8 263.8L1228.0 279.5L1230.1 291.5L1232.2 298.8L1234.4 300.7L1236.5 297.0L1238.7 288.2L1240.8 275.1L1242.9 259.0L1245.1 241.7L1247.2 224.7L1249.3 209.8L1251.5 198.4L1253.6 191.7L1255.8 190.4L1257.9 194.5L1260.0 203.8L1262.2 217.2L1264.3 233.5L1266.5 251.2L1268.6 268.4L1270.7 283.7L1272.9 295.4L1275.0 302.4" stroke="#D95319"/>
<path d="M762.0 268.3L764.1 272.4L766.3 272.4L768.4 268.1L770.5 259.6L772.7 247.6L774.8 233.1L777.0 217.3L779.1 201.7L781.2 187.8L783.4 176.8L785.5 169.9L787.6 167.6L789.8 170.3L791.9 177.9L794.1 189.7L796.2 204.6L798.3 221.1L800.5 237.5L802.6 251.9L804.8 262.8L806.9 268.9L809.0 269.5L811.2 264.5L813.3 254.2L815.4 239.7L817.6 222.3L819.7 203.8L821.9 185.9L824.0 170.3L826.1 158.7L828.3 152.2L830.4 151.3L832.5 156.3L834.7 166.6L836.8 181.3L839.0 198.8L841.1 217.6L843.2 235.7L845.4 251.4L847.5 263.1L849.6 269.6L851.8 270.3L853.9 265.0L856.0 254.2L858.2 238.8L860.3 220.4L862.5 200.7L864.6 181.5L866.7 164.9L868.9 152.4L871.0 145.2L873.1 144.2L875.3 149.4L877.4 160.3L879.6 176.0L881.7 194.9L883.8 215.2L886.0 234.9L888.1 251.9L890.2 264.7L892.4 271.9L894.5 272.7L896.7 267.0L898.8 255.3L900.9 238.6L903.1 218.6L905.2 197.1L907.4 176.3L909.5 158.1L911.6 144.4L913.8 136.6L915.9 135.5L918.0 141.3L920.2 153.4L922.3 170.7L924.5 191.5L926.6 213.7L928.7 235.1L930.9 253.6L933.0 267.3L935.1 274.9L937.3 275.6L939.4 269.4L941.5 256.9L943.7 239.3L945.8 218.4L948.0 196.3L950.1 175.0L952.2 156.8L954.4 143.3L956.5 136.0L958.7 135.5L960.8 141.9L962.9 154.5L965.1 172.2L967.2 193.2L969.3 215.4L971.5 236.7L973.6 255.0L975.8 268.6L977.9 276.1L980.0 276.9L982.2 270.8L984.3 258.5L986.4 241.0L988.6 220.0L990.7 197.6L992.9 176.0L995.0 157.1L997.1 143.0L999.3 135.1L1001.4 134.1L1003.5 140.2L1005.7 153.0L1007.8 171.1L1010.0 192.8L1012.1 215.9L1014.2 238.3L1016.4 257.6L1018.5 271.9L1020.6 279.7L1022.8 280.5L1024.9 274.0L1027.0 260.9L1029.2 242.7L1031.3 221.1L1033.5 198.3L1035.6 176.5L1037.7 158.1L1039.9 144.6L1042.0 137.5L1044.2 137.5L1046.3 144.4L1048.4 157.6L1050.6 176.0L1052.7 197.7L1054.8 220.8L1057.0 242.9L1059.1 262.0L1061.2 276.4L1063.4 284.8L1065.5 286.3L1067.7 281.1L1069.8 269.8L1071.9 253.7L1074.1 234.7L1076.2 214.8L1078.3 195.9L1080.5 180.1L1082.6 168.8L1084.8 163.2L1086.9 163.7L1089.0 170.2L1091.2 182.2L1093.3 198.4L1095.5 217.3L1097.6 237.1L1099.7 255.9L1101.9 272.0L1104.0 283.9L1106.1 290.6L1108.3 291.4L1110.4 286.2L1112.6 275.7L1114.7 260.7L1116.8 242.8L1119.0 223.8L1121.1 205.5L1123.2 189.7L1125.4 178.0L1127.5 171.6L1129.7 171.0L1131.8 176.4L1133.9 187.3L1136.1 202.5L1138.2 220.8L1140.3 240.1L1142.5 258.8L1144.6 274.9L1146.8 287.0L1148.9 293.7L1151.0 294.6L1153.2 289.4L1155.3 278.8L1157.4 263.8L1159.6 245.8L1161.7 226.7L1163.8 208.3L1166.0 192.4L1168.1 180.8L1170.3 174.4L1172.4 174.1L1174.5 179.8L1176.7 191.1L1178.8 206.8L1181.0 225.5L1183.1 245.3L1185.2 264.4L1187.4 280.9L1189.5 293.2L1191.6 300.1L1193.8 301.0L1195.9 295.8L1198.1 285.1L1200.2 269.9L1202.3 251.9L1204.5 232.7L1206.6 214.3L1208.7 198.6L1210.9 187.1L1213.0 180.9L1215.2 180.7L1217.3 186.5L1219.4 197.7L1221.6 213.3L1223.7 231.7L1225.8 251.2L1228.0 269.9L1230.1 285.9L1232.2 297.8L1234.4 304.5L1236.5 305.3L1238.7 300.2L1240.8 289.7L1242.9 274.9L1245.1 257.3L1247.2 238.6L1249.3 220.7L1251.5 205.4L1253.6 194.1L1255.8 188.0L1257.9 187.8L1260.0 193.3L1262.2 204.2L1264.3 219.3L1266.5 237.2L1268.6 256.1L1270.7 274.3L1272.9 289.9L1275.0 301.5" stroke="#EDB120"/>
<path d="M762.0 239.3L764.1 237.2L766.3 234.3L768.4 231.0L770.5 227.4L772.7 223.7L774.8 220.2L777.0 217.2L779.1 214.9L781.2 213.4L783.4 212.8L785.5 213.1L787.6 214.2L789.8 215.8L791.9 217.9L794.1 220.1L796.2 222.1L798.3 223.7L800.5 224.6L802.6 224.7L804.8 223.9L806.9 222.2L809.0 219.6L811.2 216.4L813.3 212.8L815.4 209.3L817.6 206.0L819.7 203.4L821.9 201.7L824.0 201.0L826.1 201.4L828.3 202.8L830.4 205.2L832.5 208.2L834.7 211.5L836.8 214.9L839.0 217.9L841.1 220.3L843.2 221.8L845.4 222.3L847.5 221.6L849.6 219.9L851.8 217.2L853.9 213.9L856.0 210.2L858.2 206.4L860.3 203.0L862.5 200.2L864.6 198.3L866.7 197.6L868.9 197.9L871.0 199.4L873.1 201.9L875.3 205.0L877.4 208.6L879.6 212.2L881.7 215.5L883.8 218.1L886.0 219.7L888.1 220.2L890.2 219.6L892.4 217.7L894.5 214.9L896.7 211.3L898.8 207.3L900.9 203.2L903.1 199.5L905.2 196.5L907.4 194.5L909.5 193.7L911.6 194.2L913.8 195.8L915.9 198.6L918.0 202.1L920.2 206.1L922.3 210.1L924.5 213.7L926.6 216.6L928.7 218.5L930.9 219.2L933.0 218.5L935.1 216.6L937.3 213.7L939.4 210.1L941.5 206.0L943.7 202.0L945.8 198.4L948.0 195.6L950.1 193.9L952.2 193.4L954.4 194.2L956.5 196.2L958.7 199.3L960.8 203.1L962.9 207.4L965.1 211.6L967.2 215.4L969.3 218.4L971.5 220.3L973.6 221.0L975.8 220.4L977.9 218.5L980.0 215.6L982.2 211.9L984.3 207.8L986.4 203.7L988.6 199.9L990.7 197.0L992.9 195.0L995.0 194.3L997.1 194.9L999.3 196.8L1001.4 199.8L1003.5 203.6L1005.7 207.8L1007.8 212.1L1010.0 215.9L1012.1 219.0L1014.2 221.0L1016.4 221.7L1018.5 221.0L1020.6 219.1L1022.8 216.0L1024.9 212.2L1027.0 208.1L1029.2 204.0L1031.3 200.3L1033.5 197.5L1035.6 195.9L1037.7 195.5L1039.9 196.5L1042.0 198.8L1044.2 202.2L1046.3 206.3L1048.4 210.8L1050.6 215.4L1052.7 219.8L1054.8 223.7L1057.0 226.7L1059.1 228.6L1061.2 229.2L1063.4 228.7L1065.5 227.1L1067.7 224.6L1069.8 221.7L1071.9 218.7L1074.1 216.1L1076.2 214.2L1078.3 213.3L1080.5 213.6L1082.6 215.0L1084.8 217.4L1086.9 220.7L1089.0 224.6L1091.2 228.9L1093.3 233.0L1095.5 236.8L1097.6 239.8L1099.7 241.8L1101.9 242.8L1104.0 242.5L1106.1 241.0L1108.3 238.7L1110.4 235.7L1112.6 232.3L1114.7 228.9L1116.8 225.8L1119.0 223.4L1121.1 221.9L1123.2 221.4L1125.4 222.0L1127.5 223.7L1129.7 226.3L1131.8 229.6L1133.9 233.3L1136.1 236.9L1138.2 240.2L1140.3 242.9L1142.5 244.7L1144.6 245.4L1146.8 245.0L1148.9 243.5L1151.0 241.2L1153.2 238.2L1155.3 234.8L1157.4 231.5L1159.6 228.5L1161.7 226.2L1163.8 224.8L1166.0 224.6L1168.1 225.4L1170.3 227.4L1172.4 230.3L1174.5 233.8L1176.7 237.7L1178.8 241.6L1181.0 245.2L1183.1 248.1L1185.2 250.1L1187.4 250.9L1189.5 250.7L1191.6 249.3L1193.8 247.0L1195.9 244.0L1198.1 240.7L1200.2 237.4L1202.3 234.5L1204.5 232.3L1206.6 230.9L1208.7 230.7L1210.9 231.6L1213.0 233.5L1215.2 236.4L1217.3 239.9L1219.4 243.8L1221.6 247.6L1223.7 251.1L1225.8 253.9L1228.0 255.8L1230.1 256.6L1232.2 256.3L1234.4 255.0L1236.5 252.7L1238.7 249.8L1240.8 246.6L1242.9 243.3L1245.1 240.5L1247.2 238.2L1249.3 236.9L1251.5 236.6L1253.6 237.4L1255.8 239.3L1257.9 242.0L1260.0 245.4L1262.2 249.1L1264.3 252.8L1266.5 256.1L1268.6 258.8L1270.7 260.6L1272.9 261.4L1275.0 261.0" stroke="#7E2F8E"/>
<path d="M762.0 203.4L764.1 211.1L766.3 221.0L768.4 231.9L770.5 242.6L772.7 252.1L774.8 259.3L777.0 263.1L779.1 263.2L781.2 259.2L783.4 251.3L785.5 240.2L787.6 226.7L789.8 211.9L791.9 197.2L794.1 184.0L796.2 173.6L798.3 167.3L800.5 165.5L802.6 168.8L804.8 176.7L806.9 188.4L809.0 202.6L811.2 217.9L813.3 232.7L815.4 245.5L817.6 255.1L819.7 260.4L821.9 260.9L824.0 256.5L826.1 247.5L828.3 235.0L830.4 219.9L832.5 203.8L834.7 188.3L836.8 174.9L839.0 164.8L841.1 159.1L843.2 158.3L845.4 162.6L847.5 171.4L849.6 184.1L851.8 199.3L853.9 215.5L856.0 231.3L858.2 245.0L860.3 255.2L862.5 260.9L864.6 261.5L866.7 256.8L868.9 247.4L871.0 233.9L873.1 217.8L875.3 200.5L877.4 183.7L879.6 169.2L881.7 158.2L883.8 151.9L886.0 151.0L888.1 155.6L890.2 165.2L892.4 178.9L894.5 195.5L896.7 213.2L898.8 230.4L900.9 245.4L903.1 256.6L905.2 262.9L907.4 263.7L909.5 258.7L911.6 248.4L913.8 233.7L915.9 216.1L918.0 197.3L920.2 179.0L922.3 163.2L924.5 151.4L926.6 144.8L928.7 144.1L930.9 149.3L933.0 160.0L935.1 175.1L937.3 193.1L939.4 212.2L941.5 230.6L943.7 246.4L945.8 258.2L948.0 264.7L950.1 265.4L952.2 260.2L954.4 249.6L956.5 234.8L958.7 217.1L960.8 198.3L962.9 180.2L965.1 164.7L967.2 153.3L969.3 147.0L971.5 146.5L973.6 151.8L975.8 162.4L977.9 177.3L980.0 195.1L982.2 214.0L984.3 232.3L986.4 248.1L988.6 259.9L990.7 266.6L992.9 267.4L995.0 262.2L997.1 251.6L999.3 236.4L1001.4 218.1L1003.5 198.6L1005.7 179.7L1007.8 163.3L1010.0 151.0L1012.1 144.2L1014.2 143.5L1016.4 149.0L1018.5 160.1L1020.6 175.8L1022.8 194.6L1024.9 214.5L1027.0 233.6L1029.2 250.0L1031.3 262.2L1033.5 268.8L1035.6 269.5L1037.7 264.1L1039.9 253.2L1042.0 238.1L1044.2 220.2L1046.3 201.4L1048.4 183.5L1050.6 168.5L1052.7 157.9L1054.8 152.9L1057.0 153.8L1059.1 160.5L1061.2 172.5L1063.4 188.6L1065.5 207.2L1067.7 226.6L1069.8 244.9L1071.9 260.3L1074.1 271.8L1076.2 278.1L1078.3 279.0L1080.5 274.4L1082.6 265.0L1084.8 251.9L1086.9 236.4L1089.0 220.2L1091.2 204.8L1093.3 191.8L1095.5 182.5L1097.6 177.7L1099.7 177.8L1101.9 182.8L1104.0 192.3L1106.1 205.3L1108.3 220.9L1110.4 237.3L1112.6 253.1L1114.7 266.7L1116.8 276.9L1119.0 282.6L1121.1 283.2L1123.2 278.8L1125.4 269.7L1127.5 256.8L1129.7 241.5L1131.8 225.2L1133.9 209.5L1136.1 196.0L1138.2 186.0L1140.3 180.5L1142.5 180.1L1144.6 184.8L1146.8 194.2L1148.9 207.4L1151.0 223.1L1153.2 239.8L1155.3 256.0L1157.4 269.9L1159.6 280.4L1161.7 286.3L1163.8 287.1L1166.0 282.8L1168.1 273.8L1170.3 261.0L1172.4 245.7L1174.5 229.4L1176.7 213.7L1178.8 200.2L1181.0 190.3L1183.1 184.9L1185.2 184.7L1187.4 189.6L1189.5 199.3L1191.6 212.8L1193.8 228.8L1195.9 245.7L1198.1 262.0L1200.2 276.1L1202.3 286.6L1204.5 292.4L1206.6 293.2L1208.7 288.8L1210.9 279.7L1213.0 266.9L1215.2 251.7L1217.3 235.5L1219.4 220.0L1221.6 206.8L1223.7 197.1L1225.8 191.9L1228.0 191.8L1230.1 196.7L1232.2 206.2L1234.4 219.3L1236.5 234.9L1238.7 251.4L1240.8 267.3L1242.9 280.9L1245.1 291.0L1247.2 296.7L1249.3 297.4L1251.5 293.1L1253.6 284.2L1255.8 271.7L1257.9 256.8L1260.0 241.0L1262.2 225.9L1264.3 212.9L1266.5 203.4L1268.6 198.3L1270.7 198.1L1272.9 202.8L1275.0 212.1" stroke="#77AC30"/>
<path d="M762.0 255.4L764.1 248.7L766.3 240.9L768.4 232.4L770.5 224.0L772.7 216.4L774.8 210.3L777.0 206.4L779.1 204.8L781.2 205.8L783.4 209.3L785.5 214.7L787.6 221.6L789.8 229.3L791.9 236.9L794.1 243.7L796.2 248.7L798.3 251.4L800.5 251.4L802.6 248.5L804.8 243.0L806.9 235.3L809.0 226.0L811.2 216.1L813.3 206.5L815.4 198.2L817.6 192.0L819.7 188.4L821.9 187.9L824.0 190.4L826.1 195.8L828.3 203.5L830.4 212.7L832.5 222.6L834.7 232.1L836.8 240.3L839.0 246.4L841.1 249.8L843.2 250.1L845.4 247.2L847.5 241.5L849.6 233.3L851.8 223.6L853.9 213.1L856.0 203.0L858.2 194.2L860.3 187.6L862.5 183.8L864.6 183.1L866.7 185.8L868.9 191.5L871.0 199.6L873.1 209.5L875.3 220.0L877.4 230.2L879.6 239.1L881.7 245.7L883.8 249.4L886.0 249.8L888.1 246.7L890.2 240.5L892.4 231.7L894.5 221.2L896.7 209.9L898.8 198.9L900.9 189.4L903.1 182.1L905.2 178.0L907.4 177.3L909.5 180.2L911.6 186.4L913.8 195.4L915.9 206.2L918.0 217.8L920.2 229.1L922.3 238.8L924.5 246.1L926.6 250.2L928.7 250.6L930.9 247.2L933.0 240.5L935.1 231.1L937.3 220.0L939.4 208.1L941.5 196.8L943.7 187.0L945.8 179.9L948.0 176.0L950.1 175.8L952.2 179.3L954.4 186.1L956.5 195.7L958.7 207.0L960.8 218.9L962.9 230.4L965.1 240.3L967.2 247.6L969.3 251.7L971.5 252.1L973.6 248.9L975.8 242.2L977.9 232.9L980.0 221.8L982.2 210.0L984.3 198.6L986.4 188.7L988.6 181.3L990.7 177.2L992.9 176.6L995.0 179.9L997.1 186.5L999.3 196.0L1001.4 207.4L1003.5 219.7L1005.7 231.5L1007.8 241.7L1010.0 249.4L1012.1 253.6L1014.2 254.1L1016.4 250.7L1018.5 243.7L1020.6 233.9L1022.8 222.3L1024.9 210.0L1027.0 198.2L1029.2 188.2L1031.3 180.9L1033.5 177.1L1035.6 177.1L1037.7 180.9L1039.9 188.1L1042.0 198.1L1044.2 209.8L1046.3 222.2L1048.4 233.9L1050.6 244.2L1052.7 252.0L1054.8 256.9L1057.0 258.2L1059.1 256.1L1061.2 250.8L1063.4 242.9L1065.5 233.3L1067.7 223.1L1069.8 213.3L1071.9 205.0L1074.1 199.3L1076.2 196.6L1078.3 197.3L1080.5 201.3L1082.6 208.3L1084.8 217.6L1086.9 228.3L1089.0 239.4L1091.2 250.0L1093.3 259.1L1095.5 265.8L1097.6 269.7L1099.7 270.3L1101.9 267.8L1104.0 262.3L1106.1 254.5L1108.3 245.1L1110.4 235.0L1112.6 225.4L1114.7 217.1L1116.8 210.9L1119.0 207.5L1121.1 207.3L1123.2 210.2L1125.4 216.0L1127.5 224.2L1129.7 233.9L1131.8 244.2L1133.9 254.2L1136.1 262.8L1138.2 269.2L1140.3 272.8L1142.5 273.3L1144.6 270.6L1146.8 265.0L1148.9 257.0L1151.0 247.5L1153.2 237.4L1155.3 227.7L1157.4 219.4L1159.6 213.3L1161.7 210.0L1163.8 210.0L1166.0 213.1L1168.1 219.2L1170.3 227.7L1172.4 237.8L1174.5 248.5L1176.7 258.8L1178.8 267.8L1181.0 274.5L1183.1 278.4L1185.2 279.0L1187.4 276.4L1189.5 270.8L1191.6 262.9L1193.8 253.3L1195.9 243.2L1198.1 233.5L1200.2 225.2L1202.3 219.2L1204.5 216.0L1206.6 216.0L1208.7 219.3L1210.9 225.4L1213.0 233.9L1215.2 244.0L1217.3 254.6L1219.4 264.7L1221.6 273.5L1223.7 280.0L1225.8 283.7L1228.0 284.3L1230.1 281.7L1232.2 276.2L1234.4 268.4L1236.5 259.1L1238.7 249.2L1240.8 239.7L1242.9 231.6L1245.1 225.7L1247.2 222.6L1249.3 222.6L1251.5 225.7L1253.6 231.6L1255.8 239.8L1257.9 249.5L1260.0 259.8L1262.2 269.7L1264.3 278.2L1266.5 284.5L1268.6 288.1L1270.7 288.6L1272.9 286.0L1275.0 280.6" stroke="#4DBEEE"/>
<path d="M762.0 225.7L764.1 225.6L766.3 225.8L768.4 226.2L770.5 226.7L772.7 227.1L774.8 227.3L777.0 227.1L779.1 226.5L781.2 225.4L783.4 223.8L785.5 221.7L787.6 219.3L789.8 216.6L791.9 213.9L794.1 211.4L796.2 209.1L798.3 207.4L800.5 206.4L802.6 206.1L804.8 206.6L806.9 207.7L809.0 209.1L811.2 210.8L813.3 212.6L815.4 214.1L817.6 215.4L819.7 216.1L821.9 216.3L824.0 215.9L826.1 214.9L828.3 213.4L830.4 211.5L832.5 209.4L834.7 207.3L836.8 205.4L839.0 203.9L841.1 202.8L843.2 202.4L845.4 202.5L847.5 203.3L849.6 204.6L851.8 206.2L853.9 208.1L856.0 210.0L858.2 211.7L860.3 213.0L862.5 213.8L864.6 214.0L866.7 213.6L868.9 212.5L871.0 210.8L873.1 208.8L875.3 206.5L877.4 204.3L879.6 202.2L881.7 200.5L883.8 199.3L886.0 198.8L888.1 199.0L890.2 199.9L892.4 201.3L894.5 203.1L896.7 205.2L898.8 207.3L900.9 209.2L903.1 210.7L905.2 211.6L907.4 211.9L909.5 211.4L911.6 210.3L913.8 208.6L915.9 206.4L918.0 204.0L920.2 201.5L922.3 199.4L924.5 197.6L926.6 196.4L928.7 196.0L930.9 196.4L933.0 197.4L935.1 199.1L937.3 201.3L939.4 203.7L941.5 206.2L943.7 208.4L945.8 210.2L948.0 211.4L950.1 211.9L952.2 211.7L954.4 210.7L956.5 209.2L958.7 207.2L960.8 205.0L962.9 202.8L965.1 200.8L967.2 199.3L969.3 198.3L971.5 198.0L973.6 198.4L975.8 199.5L977.9 201.1L980.0 203.2L982.2 205.6L984.3 207.9L986.4 210.1L988.6 211.8L990.7 212.9L992.9 213.3L995.0 212.9L997.1 211.8L999.3 210.2L1001.4 208.0L1003.5 205.6L1005.7 203.2L1007.8 201.0L1010.0 199.2L1012.1 198.1L1014.2 197.7L1016.4 198.0L1018.5 199.2L1020.6 200.9L1022.8 203.2L1024.9 205.7L1027.0 208.3L1029.2 210.7L1031.3 212.6L1033.5 213.9L1035.6 214.5L1037.7 214.3L1039.9 213.5L1042.0 212.1L1044.2 210.2L1046.3 208.2L1048.4 206.2L1050.6 204.6L1052.7 203.8L1054.8 203.8L1057.0 204.6L1059.1 206.3L1061.2 208.7L1063.4 211.7L1065.5 215.1L1067.7 218.5L1069.8 221.7L1071.9 224.5L1074.1 226.9L1076.2 228.7L1078.3 229.7L1080.5 230.0L1082.6 229.7L1084.8 228.8L1086.9 227.5L1089.0 226.0L1091.2 224.6L1093.3 223.3L1095.5 222.5L1097.6 222.1L1099.7 222.2L1101.9 222.9L1104.0 224.1L1106.1 225.8L1108.3 227.8L1110.4 229.9L1112.6 232.1L1114.7 234.0L1116.8 235.6L1119.0 236.6L1121.1 237.1L1123.2 236.8L1125.4 236.0L1127.5 234.6L1129.7 232.9L1131.8 231.0L1133.9 229.0L1136.1 227.3L1138.2 225.9L1140.3 225.1L1142.5 224.9L1144.6 225.4L1146.8 226.5L1148.9 228.1L1151.0 230.1L1153.2 232.4L1155.3 234.6L1157.4 236.7L1159.6 238.5L1161.7 239.7L1163.8 240.3L1166.0 240.3L1168.1 239.6L1170.3 238.5L1172.4 236.9L1174.5 235.2L1176.7 233.4L1178.8 231.9L1181.0 230.7L1183.1 230.1L1185.2 230.1L1187.4 230.7L1189.5 231.9L1191.6 233.7L1193.8 235.9L1195.9 238.2L1198.1 240.6L1200.2 242.7L1202.3 244.5L1204.5 245.8L1206.6 246.4L1208.7 246.4L1210.9 245.7L1213.0 244.5L1215.2 243.0L1217.3 241.3L1219.4 239.5L1221.6 238.0L1223.7 236.9L1225.8 236.2L1228.0 236.2L1230.1 236.8L1232.2 238.0L1234.4 239.7L1236.5 241.8L1238.7 244.1L1240.8 246.4L1242.9 248.4L1245.1 250.1L1247.2 251.3L1249.3 251.8L1251.5 251.8L1253.6 251.1L1255.8 249.9L1257.9 248.4L1260.0 246.6L1262.2 244.9L1264.3 243.4L1266.5 242.2L1268.6 241.5L1270.7 241.4L1272.9 242.0L1275.0 243.1" stroke="#A2142F"/>
<path d="M762.0 234.1L764.1 231.2L766.3 228.5L768.4 226.1L770.5 224.1L772.7 222.7L774.8 221.9L777.0 221.8L779.1 222.2L781.2 223.1L783.4 224.2L785.5 225.4L787.6 226.4L789.8 227.0L791.9 227.1L794.1 226.7L796.2 225.6L798.3 223.8L800.5 221.6L802.6 219.0L804.8 216.3L806.9 213.6L809.0 211.2L811.2 209.3L813.3 207.9L815.4 207.4L817.6 207.5L819.7 208.5L821.9 210.1L824.0 212.1L826.1 214.5L828.3 216.8L830.4 218.9L832.5 220.6L834.7 221.6L836.8 221.9L839.0 221.4L841.1 220.2L843.2 218.3L845.4 215.9L847.5 213.3L849.6 210.6L851.8 208.2L853.9 206.2L856.0 204.8L858.2 204.2L860.3 204.4L862.5 205.4L864.6 207.1L866.7 209.3L868.9 211.7L871.0 214.2L873.1 216.4L875.3 218.2L877.4 219.3L879.6 219.6L881.7 219.1L883.8 217.7L886.0 215.7L888.1 213.1L890.2 210.3L892.4 207.4L894.5 204.8L896.7 202.7L898.8 201.2L900.9 200.6L903.1 200.9L905.2 202.0L907.4 203.9L909.5 206.3L911.6 209.0L913.8 211.8L915.9 214.3L918.0 216.3L920.2 217.6L922.3 218.0L924.5 217.5L926.6 216.1L928.7 213.9L930.9 211.3L933.0 208.3L935.1 205.4L937.3 202.8L939.4 200.7L941.5 199.5L943.7 199.1L945.8 199.7L948.0 201.2L950.1 203.4L952.2 206.2L954.4 209.3L956.5 212.4L958.7 215.2L960.8 217.4L962.9 218.9L965.1 219.4L967.2 219.1L969.3 217.8L971.5 215.8L973.6 213.2L975.8 210.3L977.9 207.4L980.0 204.8L982.2 202.6L984.3 201.3L986.4 200.8L988.6 201.2L990.7 202.6L992.9 204.7L995.0 207.3L997.1 210.3L999.3 213.3L1001.4 216.0L1003.5 218.2L1005.7 219.6L1007.8 220.1L1010.0 219.7L1012.1 218.3L1014.2 216.1L1016.4 213.4L1018.5 210.3L1020.6 207.3L1022.8 204.5L1024.9 202.5L1027.0 201.2L1029.2 200.9L1031.3 201.6L1033.5 203.2L1035.6 205.6L1037.7 208.6L1039.9 211.9L1042.0 215.2L1044.2 218.2L1046.3 220.6L1048.4 222.3L1050.6 223.3L1052.7 223.6L1054.8 223.2L1057.0 222.3L1059.1 221.0L1061.2 219.4L1063.4 217.9L1065.5 216.7L1067.7 215.9L1069.8 215.6L1071.9 216.1L1074.1 217.5L1076.2 219.6L1078.3 222.3L1080.5 225.5L1082.6 228.9L1084.8 232.2L1086.9 235.1L1089.0 237.5L1091.2 239.3L1093.3 240.2L1095.5 240.3L1097.6 239.7L1099.7 238.3L1101.9 236.4L1104.0 234.1L1106.1 231.8L1108.3 229.7L1110.4 228.1L1112.6 227.1L1114.7 226.8L1116.8 227.3L1119.0 228.5L1121.1 230.4L1123.2 232.8L1125.4 235.4L1127.5 238.0L1129.7 240.4L1131.8 242.3L1133.9 243.6L1136.1 244.1L1138.2 243.8L1140.3 242.7L1142.5 241.0L1144.6 238.9L1146.8 236.5L1148.9 234.1L1151.0 232.0L1153.2 230.4L1155.3 229.5L1157.4 229.3L1159.6 230.0L1161.7 231.4L1163.8 233.5L1166.0 236.1L1168.1 239.0L1170.3 241.9L1172.4 244.5L1174.5 246.6L1176.7 248.1L1178.8 248.9L1181.0 248.8L1183.1 247.9L1185.2 246.4L1187.4 244.3L1189.5 242.1L1191.6 239.8L1193.8 237.7L1195.9 236.2L1198.1 235.3L1200.2 235.2L1202.3 236.0L1204.5 237.4L1206.6 239.6L1208.7 242.2L1210.9 245.1L1213.0 247.9L1215.2 250.5L1217.3 252.6L1219.4 254.1L1221.6 254.8L1223.7 254.7L1225.8 253.8L1228.0 252.3L1230.1 250.3L1232.2 248.0L1234.4 245.8L1236.5 243.8L1238.7 242.3L1240.8 241.4L1242.9 241.3L1245.1 241.9L1247.2 243.3L1249.3 245.4L1251.5 247.9L1253.6 250.6L1255.8 253.3L1257.9 255.8L1260.0 257.8L1262.2 259.2L1264.3 259.8L1266.5 259.7L1268.6 258.7L1270.7 257.2L1272.9 255.2L1275.0 253.0" stroke="#D95319"/>
<path d="M762.0 243.3L764.1 243.6L766.3 243.1L768.4 241.8L770.5 239.5L772.7 236.4L774.8 232.7L777.0 228.6L779.1 224.5L781.2 220.6L783.4 217.3L785.5 214.7L787.6 213.0L789.8 212.4L791.9 212.9L794.1 214.4L796.2 216.7L798.3 219.5L800.5 222.6L802.6 225.4L804.8 227.8L806.9 229.4L809.0 229.8L811.2 229.0L813.3 227.1L815.4 224.2L817.6 220.6L819.7 216.5L821.9 212.5L824.0 208.8L826.1 205.9L828.3 203.9L830.4 203.2L832.5 203.7L834.7 205.4L836.8 208.1L839.0 211.5L841.1 215.4L843.2 219.2L845.4 222.7L847.5 225.5L849.6 227.2L851.8 227.8L853.9 227.0L856.0 225.0L858.2 222.0L860.3 218.2L862.5 213.9L864.6 209.6L866.7 205.6L868.9 202.4L871.0 200.3L873.1 199.4L875.3 199.9L877.4 201.6L879.6 204.5L881.7 208.2L883.8 212.4L886.0 216.6L888.1 220.4L890.2 223.4L892.4 225.4L894.5 226.0L896.7 225.2L898.8 223.1L900.9 219.8L903.1 215.7L905.2 211.1L907.4 206.4L909.5 202.1L911.6 198.7L913.8 196.4L915.9 195.5L918.0 196.1L920.2 198.1L922.3 201.3L924.5 205.4L926.6 210.1L928.7 214.7L930.9 219.0L933.0 222.3L935.1 224.5L937.3 225.3L939.4 224.6L941.5 222.5L943.7 219.3L945.8 215.1L948.0 210.6L950.1 206.0L952.2 201.9L954.4 198.7L956.5 196.7L958.7 196.1L960.8 197.0L962.9 199.3L965.1 202.8L967.2 207.1L969.3 211.9L971.5 216.6L973.6 220.8L975.8 224.2L977.9 226.3L980.0 227.1L982.2 226.4L984.3 224.3L986.4 220.9L988.6 216.7L990.7 212.0L992.9 207.2L995.0 202.9L997.1 199.5L999.3 197.2L1001.4 196.4L1003.5 197.1L1005.7 199.3L1007.8 202.7L1010.0 207.1L1012.1 212.0L1014.2 216.9L1016.4 221.3L1018.5 224.8L1020.6 227.1L1022.8 227.9L1024.9 227.2L1027.0 225.1L1029.2 221.7L1031.3 217.5L1033.5 212.8L1035.6 208.2L1037.7 204.2L1039.9 201.1L1042.0 199.3L1044.2 198.9L1046.3 200.1L1048.4 202.7L1050.6 206.6L1052.7 211.6L1054.8 217.3L1057.0 223.1L1059.1 228.5L1061.2 233.1L1063.4 236.4L1065.5 238.4L1067.7 238.7L1069.8 237.5L1071.9 235.2L1074.1 232.0L1076.2 228.4L1078.3 224.8L1080.5 221.7L1082.6 219.5L1084.8 218.3L1086.9 218.3L1089.0 219.7L1091.2 222.3L1093.3 225.9L1095.5 230.1L1097.6 234.7L1099.7 239.2L1101.9 243.2L1104.0 246.3L1106.1 248.4L1108.3 249.2L1110.4 248.7L1112.6 247.0L1114.7 244.3L1116.8 240.8L1119.0 236.8L1121.1 232.9L1123.2 229.3L1125.4 226.5L1127.5 224.7L1129.7 224.2L1131.8 224.9L1133.9 226.8L1136.1 229.8L1138.2 233.6L1140.3 237.8L1142.5 242.0L1144.6 245.8L1146.8 248.9L1148.9 250.9L1151.0 251.8L1153.2 251.3L1155.3 249.7L1157.4 247.0L1159.6 243.6L1161.7 239.8L1163.8 236.0L1166.0 232.6L1168.1 229.9L1170.3 228.3L1172.4 228.0L1174.5 228.9L1176.7 231.1L1178.8 234.4L1181.0 238.4L1183.1 242.9L1185.2 247.3L1187.4 251.3L1189.5 254.5L1191.6 256.7L1193.8 257.7L1195.9 257.3L1198.1 255.7L1200.2 253.1L1202.3 249.6L1204.5 245.8L1206.6 242.1L1208.7 238.7L1210.9 236.1L1213.0 234.5L1215.2 234.2L1217.3 235.2L1219.4 237.4L1221.6 240.6L1223.7 244.5L1225.8 248.9L1228.0 253.2L1230.1 257.1L1232.2 260.2L1234.4 262.3L1236.5 263.2L1238.7 262.8L1240.8 261.3L1242.9 258.6L1245.1 255.3L1247.2 251.5L1249.3 247.8L1251.5 244.5L1253.6 241.9L1255.8 240.3L1257.9 240.0L1260.0 240.9L1262.2 242.9L1264.3 246.0L1266.5 249.8L1268.6 254.0L1270.7 258.2L1272.9 261.9L1275.0 264.9" stroke="#EDB120"/>
<path d="M762.0 196.9L764.1 195.7L766.3 197.9L768.4 203.3L770.5 211.4L772.7 221.3L774.8 232.0L777.0 242.4L779.1 251.3L781.2 257.7L783.4 260.8L785.5 260.1L787.6 255.5L789.8 247.1L791.9 235.6L794.1 221.9L796.2 207.4L798.3 193.4L800.5 181.3L802.6 172.5L804.8 167.8L806.9 167.8L809.0 172.2L811.2 180.8L813.3 192.5L815.4 206.3L817.6 220.9L819.7 234.6L821.9 246.3L824.0 254.6L826.1 258.7L828.3 258.2L830.4 253.2L832.5 244.0L834.7 231.5L836.8 217.0L839.0 201.8L841.1 187.4L843.2 175.2L845.4 166.4L847.5 161.9L849.6 162.0L851.8 166.9L853.9 176.1L856.0 188.6L858.2 203.3L860.3 218.8L862.5 233.4L864.6 245.8L866.7 254.7L868.9 259.2L871.0 258.8L873.1 253.4L875.3 243.6L877.4 230.2L879.6 214.5L881.7 198.1L883.8 182.5L886.0 169.3L888.1 159.7L890.2 154.8L892.4 155.0L894.5 160.3L896.7 170.2L898.8 183.9L900.9 199.9L903.1 216.8L905.2 232.8L907.4 246.5L909.5 256.3L911.6 261.2L913.8 260.8L915.9 255.0L918.0 244.3L920.2 229.7L922.3 212.7L924.5 194.8L926.6 178.0L928.7 163.8L930.9 153.7L933.0 148.7L935.1 149.2L937.3 155.3L939.4 166.4L941.5 181.3L943.7 198.5L945.8 216.5L948.0 233.4L950.1 247.6L952.2 257.7L954.4 262.8L956.5 262.3L958.7 256.4L960.8 245.6L962.9 231.1L965.1 214.1L967.2 196.5L969.3 180.0L971.5 166.0L973.6 156.1L975.8 151.2L977.9 151.8L980.0 157.7L982.2 168.5L984.3 183.1L986.4 200.2L988.6 218.1L990.7 235.0L992.9 249.4L995.0 259.7L997.1 265.0L999.3 264.6L1001.4 258.6L1003.5 247.5L1005.7 232.4L1007.8 214.8L1010.0 196.3L1012.1 178.8L1014.2 164.0L1016.4 153.5L1018.5 148.3L1020.6 148.9L1022.8 155.3L1024.9 166.9L1027.0 182.4L1029.2 200.4L1031.3 219.0L1033.5 236.5L1035.6 251.1L1037.7 261.5L1039.9 266.6L1042.0 266.1L1044.2 260.1L1046.3 249.2L1048.4 234.6L1050.6 218.0L1052.7 201.1L1054.8 185.6L1057.0 173.1L1059.1 164.8L1061.2 161.6L1063.4 163.7L1065.5 171.1L1067.7 183.0L1069.8 198.2L1071.9 215.4L1074.1 232.9L1076.2 249.2L1078.3 262.7L1080.5 272.2L1082.6 277.0L1084.8 276.7L1086.9 271.6L1089.0 262.2L1091.2 249.7L1093.3 235.2L1095.5 220.3L1097.6 206.4L1099.7 194.8L1101.9 186.7L1104.0 182.7L1106.1 183.4L1108.3 188.8L1110.4 198.3L1112.6 211.0L1114.7 225.9L1116.8 241.3L1119.0 255.8L1121.1 268.0L1123.2 276.7L1125.4 281.1L1127.5 280.8L1129.7 275.7L1131.8 266.4L1133.9 253.8L1136.1 239.1L1138.2 223.8L1140.3 209.4L1142.5 197.3L1144.6 188.7L1146.8 184.5L1148.9 185.2L1151.0 190.6L1153.2 200.2L1155.3 213.3L1157.4 228.4L1159.6 244.2L1161.7 259.1L1163.8 271.7L1166.0 280.8L1168.1 285.4L1170.3 285.3L1172.4 280.4L1174.5 271.1L1176.7 258.5L1178.8 243.9L1181.0 228.5L1183.1 214.1L1185.2 202.1L1187.4 193.6L1189.5 189.5L1191.6 190.3L1193.8 195.9L1195.9 205.8L1198.1 219.0L1200.2 234.3L1202.3 250.2L1204.5 265.2L1206.6 277.8L1208.7 286.8L1210.9 291.3L1213.0 291.1L1215.2 286.1L1217.3 276.8L1219.4 264.3L1221.6 249.8L1223.7 234.7L1225.8 220.6L1228.0 208.8L1230.1 200.6L1232.2 196.6L1234.4 197.4L1236.5 202.9L1238.7 212.6L1240.8 225.4L1242.9 240.3L1245.1 255.7L1247.2 270.2L1249.3 282.4L1251.5 291.1L1253.6 295.5L1255.8 295.2L1257.9 290.3L1260.0 281.3L1262.2 269.1L1264.3 254.9L1266.5 240.1L1268.6 226.3L1270.7 214.8L1272.9 206.6L1275.0 202.8" stroke="#7E2F8E"/>
<path d="M762.0 224.8L764.1 218.8L766.3 213.6L768.4 209.8L770.5 207.6L772.7 207.3L774.8 208.7L777.0 211.8L779.1 216.1L781.2 221.1L783.4 226.4L785.5 231.2L787.6 235.0L789.8 237.3L791.9 237.7L794.1 236.1L796.2 232.4L798.3 227.0L800.5 220.2L802.6 212.7L804.8 205.2L806.9 198.5L809.0 193.1L811.2 189.5L813.3 188.0L815.4 188.9L817.6 192.0L819.7 197.0L821.9 203.4L824.0 210.6L826.1 217.9L828.3 224.4L830.4 229.6L832.5 232.9L834.7 234.1L836.8 232.8L839.0 229.4L841.1 223.9L843.2 217.1L845.4 209.5L847.5 201.8L849.6 194.8L851.8 189.1L853.9 185.4L856.0 183.9L858.2 184.9L860.3 188.2L862.5 193.5L864.6 200.3L866.7 207.9L868.9 215.6L871.0 222.6L873.1 228.2L875.3 231.8L877.4 233.0L879.6 231.7L881.7 228.0L883.8 222.1L886.0 214.7L888.1 206.5L890.2 198.2L892.4 190.6L894.5 184.5L896.7 180.4L898.8 178.9L900.9 179.9L903.1 183.5L905.2 189.3L907.4 196.8L909.5 205.2L911.6 213.6L913.8 221.4L915.9 227.5L918.0 231.5L920.2 232.9L922.3 231.5L924.5 227.5L926.6 221.2L928.7 213.2L930.9 204.4L933.0 195.5L935.1 187.6L937.3 181.3L939.4 177.3L941.5 176.0L943.7 177.5L945.8 181.7L948.0 188.2L950.1 196.3L952.2 205.2L954.4 214.1L956.5 222.2L958.7 228.6L960.8 232.8L962.9 234.3L965.1 233.0L967.2 229.0L969.3 222.9L971.5 215.0L973.6 206.3L975.8 197.6L977.9 189.7L980.0 183.4L982.2 179.4L984.3 177.9L986.4 179.2L988.6 183.2L990.7 189.5L992.9 197.4L995.0 206.3L997.1 215.3L999.3 223.5L1001.4 230.0L1003.5 234.3L1005.7 235.8L1007.8 234.4L1010.0 230.3L1012.1 223.8L1014.2 215.5L1016.4 206.3L1018.5 197.1L1020.6 188.9L1022.8 182.4L1024.9 178.3L1027.0 177.0L1029.2 178.7L1031.3 183.1L1033.5 189.9L1035.6 198.4L1037.7 207.7L1039.9 217.0L1042.0 225.3L1044.2 231.9L1046.3 236.2L1048.4 237.8L1050.6 236.8L1052.7 233.5L1054.8 228.2L1057.0 221.5L1059.1 214.1L1061.2 206.9L1063.4 200.6L1065.5 195.9L1067.7 193.4L1069.8 193.2L1071.9 195.6L1074.1 200.4L1076.2 207.2L1078.3 215.4L1080.5 224.2L1082.6 232.9L1084.8 240.6L1086.9 246.7L1089.0 250.7L1091.2 252.4L1093.3 251.6L1095.5 248.5L1097.6 243.5L1099.7 237.1L1101.9 229.9L1104.0 222.6L1106.1 216.0L1108.3 210.8L1110.4 207.5L1112.6 206.4L1114.7 207.7L1116.8 211.3L1119.0 216.8L1121.1 223.7L1123.2 231.4L1125.4 239.0L1127.5 246.0L1129.7 251.5L1131.8 255.1L1133.9 256.4L1136.1 255.3L1138.2 251.9L1140.3 246.6L1142.5 239.9L1144.6 232.4L1146.8 224.9L1148.9 218.2L1151.0 212.9L1153.2 209.6L1155.3 208.6L1157.4 210.0L1159.6 213.8L1161.7 219.5L1163.8 226.8L1166.0 234.7L1168.1 242.7L1170.3 250.0L1172.4 255.8L1174.5 259.7L1176.7 261.2L1178.8 260.3L1181.0 257.1L1183.1 251.9L1185.2 245.2L1187.4 237.8L1189.5 230.4L1191.6 223.7L1193.8 218.5L1195.9 215.2L1198.1 214.3L1200.2 215.9L1202.3 219.7L1204.5 225.6L1206.6 232.8L1208.7 240.8L1210.9 248.8L1213.0 256.0L1215.2 261.7L1217.3 265.5L1219.4 267.0L1221.6 266.0L1223.7 262.8L1225.8 257.6L1228.0 251.1L1230.1 243.8L1232.2 236.5L1234.4 230.0L1236.5 224.9L1238.7 221.7L1240.8 220.8L1242.9 222.3L1245.1 226.0L1247.2 231.7L1249.3 238.7L1251.5 246.4L1253.6 254.1L1255.8 261.1L1257.9 266.6L1260.0 270.2L1262.2 271.6L1264.3 270.7L1266.5 267.5L1268.6 262.4L1270.7 256.0L1272.9 248.8L1275.0 241.7" stroke="#77AC30"/>
<path d="M762.0 203.5L764.1 194.8L766.3 189.6L768.4 188.3L770.5 191.2L772.7 198.0L774.8 208.0L777.0 220.1L779.1 233.3L781.2 246.0L783.4 256.9L785.5 264.8L787.6 268.7L789.8 268.1L791.9 262.7L794.1 252.8L796.2 239.2L798.3 223.1L800.5 206.1L802.6 189.8L804.8 176.0L806.9 166.1L809.0 160.9L811.2 161.0L813.3 166.4L815.4 176.5L817.6 190.4L819.7 206.7L821.9 223.8L824.0 240.0L826.1 253.7L828.3 263.4L830.4 268.3L832.5 267.8L834.7 261.9L836.8 251.1L839.0 236.5L841.1 219.5L843.2 201.7L845.4 184.8L847.5 170.5L849.6 160.2L851.8 154.8L853.9 155.0L856.0 160.8L858.2 171.5L860.3 186.3L862.5 203.6L864.6 221.8L866.7 239.1L868.9 253.7L871.0 264.2L873.1 269.5L875.3 269.0L877.4 262.7L879.6 251.2L881.7 235.5L883.8 217.1L886.0 197.8L888.1 179.5L890.2 164.0L892.4 152.8L894.5 147.0L896.7 147.2L898.8 153.4L900.9 165.1L903.1 181.2L905.2 200.2L907.4 220.1L909.5 239.0L911.6 255.1L913.8 266.6L915.9 272.5L918.0 272.0L920.2 265.2L922.3 252.6L924.5 235.5L926.6 215.5L928.7 194.6L930.9 175.0L933.0 158.5L935.1 146.8L937.3 141.0L939.4 141.7L941.5 148.9L943.7 161.8L945.8 179.2L948.0 199.3L950.1 220.2L952.2 239.9L954.4 256.4L956.5 268.2L958.7 274.1L960.8 273.5L962.9 266.6L965.1 254.0L967.2 237.0L969.3 217.2L971.5 196.6L973.6 177.3L975.8 161.0L977.9 149.3L980.0 143.5L982.2 144.0L984.3 150.9L986.4 163.5L988.6 180.7L990.7 200.7L992.9 221.7L995.0 241.6L997.1 258.5L999.3 270.6L1001.4 276.8L1003.5 276.4L1005.7 269.3L1007.8 256.3L1010.0 238.5L1012.1 217.8L1014.2 196.1L1016.4 175.6L1018.5 158.4L1020.6 146.2L1022.8 140.3L1024.9 141.2L1027.0 148.8L1029.2 162.3L1031.3 180.4L1033.5 201.3L1035.6 223.0L1037.7 243.2L1039.9 260.1L1042.0 272.1L1044.2 278.0L1046.3 277.4L1048.4 270.4L1050.6 257.9L1052.7 241.4L1054.8 222.6L1057.0 203.4L1059.1 185.6L1061.2 171.1L1063.4 161.4L1065.5 157.4L1067.7 159.6L1069.8 167.7L1071.9 181.0L1074.1 198.2L1076.2 217.7L1078.3 237.7L1080.5 256.1L1082.6 271.4L1084.8 282.2L1086.9 287.5L1089.0 287.1L1091.2 281.2L1093.3 270.4L1095.5 255.8L1097.6 239.0L1099.7 221.6L1101.9 205.2L1104.0 191.4L1106.1 181.5L1108.3 176.7L1110.4 177.4L1112.6 183.6L1114.7 194.7L1116.8 209.5L1119.0 226.8L1121.1 244.7L1123.2 261.7L1125.4 275.9L1127.5 286.1L1129.7 291.2L1131.8 290.8L1133.9 284.8L1136.1 274.0L1138.2 259.2L1140.3 242.1L1142.5 224.2L1144.6 207.4L1146.8 193.2L1148.9 183.2L1151.0 178.4L1153.2 179.1L1155.3 185.4L1157.4 196.7L1159.6 211.9L1161.7 229.6L1163.8 248.0L1166.0 265.4L1168.1 280.1L1170.3 290.7L1172.4 296.1L1174.5 295.9L1176.7 290.0L1178.8 279.2L1181.0 264.5L1183.1 247.2L1185.2 229.3L1187.4 212.4L1189.5 198.3L1191.6 188.3L1193.8 183.5L1195.9 184.4L1198.1 191.0L1200.2 202.5L1202.3 217.9L1204.5 235.7L1206.6 254.1L1208.7 271.5L1210.9 286.0L1213.0 296.4L1215.2 301.7L1217.3 301.3L1219.4 295.4L1221.6 284.6L1223.7 270.1L1225.8 253.1L1228.0 235.5L1230.1 219.0L1232.2 205.3L1234.4 195.6L1236.5 190.9L1238.7 191.8L1240.8 198.2L1242.9 209.4L1245.1 224.3L1247.2 241.6L1249.3 259.5L1251.5 276.3L1253.6 290.4L1255.8 300.5L1257.9 305.6L1260.0 305.2L1262.2 299.4L1264.3 288.9L1266.5 274.6L1268.6 258.1L1270.7 240.9L1272.9 224.7L1275.0 211.2" stroke="#4DBEEE"/>
<path d="M762.0 250.0L764.1 241.6L766.3 232.3L768.4 222.7L770.5 213.7L772.7 206.1L774.8 200.7L777.0 197.9L779.1 198.0L781.2 201.0L783.4 206.5L785.5 214.0L787.6 222.6L789.8 231.5L791.9 239.8L794.1 246.6L796.2 250.9L798.3 252.2L800.5 250.3L802.6 245.1L804.8 237.2L806.9 227.2L809.0 216.0L811.2 204.8L813.3 194.6L815.4 186.4L817.6 181.0L819.7 179.0L821.9 180.5L824.0 185.4L826.1 193.3L828.3 203.3L830.4 214.5L832.5 225.7L834.7 235.9L836.8 244.0L839.0 249.2L841.1 251.0L843.2 249.2L845.4 243.9L847.5 235.6L849.6 225.0L851.8 213.3L853.9 201.4L856.0 190.6L858.2 181.9L860.3 176.2L862.5 174.0L864.6 175.6L866.7 180.8L868.9 189.1L871.0 199.7L873.1 211.7L875.3 223.7L877.4 234.7L879.6 243.4L881.7 249.1L883.8 251.1L886.0 249.2L888.1 243.4L890.2 234.5L892.4 223.1L894.5 210.3L896.7 197.5L898.8 185.7L900.9 176.3L903.1 170.1L905.2 167.7L907.4 169.4L909.5 175.1L911.6 184.2L913.8 195.9L915.9 209.1L918.0 222.3L920.2 234.3L922.3 244.0L924.5 250.2L926.6 252.4L928.7 250.3L930.9 244.0L933.0 234.4L935.1 222.2L937.3 208.6L939.4 195.2L941.5 183.1L943.7 173.5L945.8 167.4L948.0 165.5L950.1 167.8L952.2 174.1L954.4 184.0L956.5 196.3L958.7 209.9L960.8 223.5L962.9 235.7L965.1 245.4L967.2 251.7L969.3 253.9L971.5 251.8L973.6 245.7L975.8 236.1L977.9 224.0L980.0 210.6L982.2 197.1L984.3 184.9L986.4 175.2L988.6 168.9L990.7 166.6L992.9 168.6L995.0 174.7L997.1 184.4L999.3 196.8L1001.4 210.6L1003.5 224.5L1005.7 237.1L1007.8 247.2L1010.0 253.8L1012.1 256.1L1014.2 253.9L1016.4 247.5L1018.5 237.4L1020.6 224.7L1022.8 210.7L1024.9 196.7L1027.0 184.2L1029.2 174.3L1031.3 168.2L1033.5 166.4L1035.6 169.0L1037.7 175.7L1039.9 186.0L1042.0 198.8L1044.2 212.8L1046.3 226.8L1048.4 239.3L1050.6 249.3L1052.7 256.1L1054.8 259.0L1057.0 257.9L1059.1 252.9L1061.2 244.7L1063.4 234.1L1065.5 222.3L1067.7 210.6L1069.8 200.1L1071.9 192.1L1074.1 187.4L1076.2 186.5L1078.3 189.6L1080.5 196.3L1082.6 206.0L1084.8 217.7L1086.9 230.4L1089.0 242.9L1091.2 254.1L1093.3 263.0L1095.5 268.8L1097.6 271.0L1099.7 269.5L1101.9 264.4L1104.0 256.4L1106.1 246.2L1108.3 234.8L1110.4 223.4L1112.6 213.1L1114.7 204.9L1116.8 199.7L1119.0 197.9L1121.1 199.8L1123.2 205.2L1125.4 213.6L1127.5 224.2L1129.7 235.9L1131.8 247.6L1133.9 258.2L1136.1 266.7L1138.2 272.2L1140.3 274.2L1142.5 272.5L1144.6 267.3L1146.8 259.1L1148.9 248.7L1151.0 237.2L1153.2 225.6L1155.3 215.3L1157.4 207.1L1159.6 201.9L1161.7 200.3L1163.8 202.4L1166.0 208.1L1168.1 216.8L1170.3 227.8L1172.4 239.9L1174.5 252.0L1176.7 263.0L1178.8 271.8L1181.0 277.6L1183.1 279.8L1185.2 278.2L1187.4 273.1L1189.5 264.9L1191.6 254.5L1193.8 242.9L1195.9 231.4L1198.1 221.0L1200.2 212.9L1202.3 207.8L1204.5 206.3L1206.6 208.5L1208.7 214.3L1210.9 223.0L1213.0 233.9L1215.2 246.0L1217.3 258.0L1219.4 268.8L1221.6 277.4L1223.7 283.0L1225.8 285.0L1228.0 283.4L1230.1 278.3L1232.2 270.3L1234.4 260.1L1236.5 248.8L1238.7 237.6L1240.8 227.5L1242.9 219.5L1245.1 214.5L1247.2 213.0L1249.3 215.1L1251.5 220.7L1253.6 229.2L1255.8 239.7L1257.9 251.4L1260.0 263.0L1262.2 273.5L1264.3 281.8L1266.5 287.3L1268.6 289.2L1270.7 287.6L1272.9 282.6L1275.0 274.7" stroke="#A2142F"/>
<path d="M762.0 248.2L764.1 245.5L766.3 241.4L768.4 236.0L770.5 229.8L772.7 223.2L774.8 216.8L777.0 211.1L779.1 206.7L781.2 203.9L783.4 202.9L785.5 203.8L787.6 206.4L789.8 210.4L791.9 215.5L794.1 221.0L796.2 226.5L798.3 231.2L800.5 234.5L802.6 236.1L804.8 235.7L806.9 233.2L809.0 228.7L811.2 222.8L813.3 215.8L815.4 208.6L817.6 201.7L819.7 195.9L821.9 191.7L824.0 189.5L826.1 189.5L828.3 191.8L830.4 196.1L832.5 201.9L834.7 208.8L836.8 215.9L839.0 222.7L841.1 228.4L843.2 232.4L845.4 234.4L847.5 234.1L849.6 231.5L851.8 226.9L853.9 220.6L856.0 213.3L858.2 205.6L860.3 198.4L862.5 192.2L864.6 187.6L866.7 185.3L868.9 185.2L871.0 187.6L873.1 192.1L875.3 198.3L877.4 205.6L879.6 213.3L881.7 220.6L883.8 226.8L886.0 231.2L888.1 233.4L890.2 233.1L892.4 230.4L894.5 225.4L896.7 218.6L898.8 210.7L900.9 202.4L903.1 194.5L905.2 187.7L907.4 182.8L909.5 180.2L911.6 180.3L913.8 182.9L915.9 187.9L918.0 194.7L920.2 202.8L922.3 211.3L924.5 219.3L926.6 226.1L928.7 231.0L930.9 233.4L933.0 233.1L935.1 230.2L937.3 224.9L939.4 217.8L941.5 209.6L943.7 201.1L945.8 193.1L948.0 186.4L950.1 181.8L952.2 179.5L954.4 180.0L956.5 183.0L958.7 188.5L960.8 195.7L962.9 204.1L965.1 212.8L967.2 220.9L969.3 227.8L971.5 232.6L973.6 235.1L975.8 234.8L977.9 231.9L980.0 226.7L982.2 219.6L984.3 211.4L986.4 202.8L988.6 194.6L990.7 187.7L992.9 182.8L995.0 180.2L997.1 180.4L999.3 183.3L1001.4 188.6L1003.5 195.9L1005.7 204.4L1007.8 213.3L1010.0 221.7L1012.1 228.9L1014.2 234.0L1016.4 236.5L1018.5 236.2L1020.6 233.2L1022.8 227.7L1024.9 220.3L1027.0 211.8L1029.2 203.0L1031.3 194.9L1033.5 188.1L1035.6 183.4L1037.7 181.3L1039.9 182.0L1042.0 185.4L1044.2 191.2L1046.3 198.8L1048.4 207.5L1050.6 216.6L1052.7 225.4L1054.8 233.1L1057.0 238.9L1059.1 242.4L1061.2 243.4L1063.4 241.8L1065.5 237.8L1067.7 232.1L1069.8 225.1L1071.9 217.9L1074.1 211.2L1076.2 205.7L1078.3 202.2L1080.5 201.0L1082.6 202.1L1084.8 205.6L1086.9 211.0L1089.0 218.1L1091.2 226.0L1093.3 234.1L1095.5 241.7L1097.6 248.0L1099.7 252.6L1101.9 254.9L1104.0 255.0L1106.1 252.7L1108.3 248.3L1110.4 242.4L1112.6 235.4L1114.7 228.2L1116.8 221.3L1119.0 215.6L1121.1 211.5L1123.2 209.5L1125.4 209.8L1127.5 212.4L1129.7 217.0L1131.8 223.2L1133.9 230.4L1136.1 238.0L1138.2 245.1L1140.3 251.1L1142.5 255.4L1144.6 257.7L1146.8 257.6L1148.9 255.3L1151.0 250.9L1153.2 244.9L1155.3 238.0L1157.4 230.7L1159.6 223.9L1161.7 218.3L1163.8 214.3L1166.0 212.5L1168.1 213.0L1170.3 215.8L1172.4 220.7L1174.5 227.3L1176.7 234.9L1178.8 242.7L1181.0 250.1L1183.1 256.4L1185.2 261.0L1187.4 263.4L1189.5 263.5L1191.6 261.2L1193.8 256.8L1195.9 250.9L1198.1 243.9L1200.2 236.7L1202.3 229.9L1204.5 224.3L1206.6 220.4L1208.7 218.6L1210.9 219.2L1213.0 222.1L1215.2 227.0L1217.3 233.5L1219.4 241.0L1221.6 248.7L1223.7 256.0L1225.8 262.1L1228.0 266.5L1230.1 268.8L1232.2 268.9L1234.4 266.6L1236.5 262.3L1238.7 256.5L1240.8 249.7L1242.9 242.6L1245.1 236.0L1247.2 230.5L1249.3 226.6L1251.5 224.9L1253.6 225.4L1255.8 228.1L1257.9 232.8L1260.0 239.1L1262.2 246.3L1264.3 253.8L1266.5 260.9L1268.6 266.8L1270.7 271.1L1272.9 273.3L1275.0 273.2" stroke="#0072BD"/>
</g>
<text transform="translate(110 22.5) scale(1 1.02)" font-size="33.6" text-anchor="end" >6000</text>
<text transform="translate(110 221.5) scale(1 1.02)" font-size="33.6" text-anchor="end" >3000</text>
<text transform="translate(109 420) scale(1 1.02)" font-size="33.6" text-anchor="end" >0</text>
<text transform="translate(124 453.3) scale(1 1.02)" font-size="33.6" text-anchor="middle" >0</text>
<text transform="translate(363 453.3) scale(1 1.02)" font-size="33.6" text-anchor="middle" >10</text>
<text transform="translate(598.7 453.3) scale(1 1.02)" font-size="33.6" text-anchor="middle" >20</text>
<text transform="translate(360.5 496.7) scale(1 1.02)" font-size="33.6" text-anchor="middle" >Time</text>
<text transform="translate(23.3 210.5) rotate(-90) scale(1 1.02)" font-size="33.6" text-anchor="middle" letter-spacing="0.3">Stochastic process</text>
<text transform="translate(747.3 22.5) scale(1 1.02)" font-size="33.6" text-anchor="end" >15</text>
<text transform="translate(747.3 121.7) scale(1 1.02)" font-size="33.6" text-anchor="end" >10</text>
<text transform="translate(747.3 221) scale(1 1.02)" font-size="33.6" text-anchor="end" >5</text>
<text transform="translate(747.3 320.2) scale(1 1.02)" font-size="33.6" text-anchor="end" >0</text>
<text transform="translate(746 420) scale(1 1.02)" font-size="33.6" text-anchor="end" >-5</text>
<text transform="translate(761.5 453.3) scale(1 1.02)" font-size="33.6" text-anchor="middle" >0</text>
<text transform="translate(1017.8 453.3) scale(1 1.02)" font-size="33.6" text-anchor="middle" >6</text>
<text transform="translate(1276.2 453.3) scale(1 1.02)" font-size="33.6" text-anchor="middle" >12</text>
<text transform="translate(1017.2 497.3) scale(1 1.02)" font-size="33.6" text-anchor="middle" >Time</text>
<text transform="translate(693.2 210.5) rotate(-90) scale(1 1.02)" font-size="33.6" text-anchor="middle" letter-spacing="0.3">Stochastic process</text>
<text transform="translate(64 567.5) scale(1 1.04)" font-size="34.7" text-anchor="start" letter-spacing="0.5">(a)</text>
<text transform="translate(128 567.5) scale(1 1.04)" font-size="34.7" text-anchor="start" word-spacing="4">Stationary stochastic process</text>
<text transform="translate(761.7 567.5) scale(1 1.04)" font-size="34.7" text-anchor="start" letter-spacing="0.5">(b)</text>
<text transform="translate(825.3 567.5) scale(1 1.04)" font-size="34.7" text-anchor="start" word-spacing="4">Non-stationary stochastic process</text>
</svg>
</body></html>
